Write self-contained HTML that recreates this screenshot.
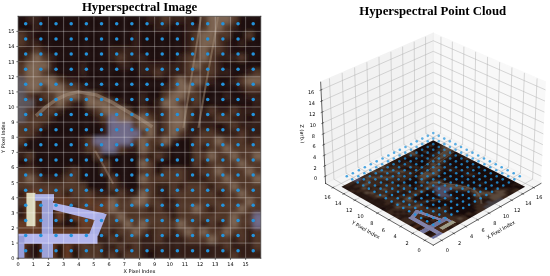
<!DOCTYPE html>
<html><head><meta charset="utf-8"><style>
html,body{margin:0;padding:0;background:#fff;}
#wrap{position:relative;width:550px;height:276px;overflow:hidden;}
text{font-family:"DejaVu Sans",sans-serif;}
</style></head><body><div id="wrap">
<svg width="550" height="276" viewBox="0 0 396 198.72" style="position:absolute;left:0;top:0">
 
 <defs><filter id="p2b1" x="-5%" y="-5%" width="110%" height="110%"><feGaussianBlur stdDeviation="2"/></filter><filter id="p2b2" x="-5%" y="-5%" width="110%" height="110%"><feGaussianBlur stdDeviation="0.7"/></filter><clipPath id="cl2"><rect x="13.032" y="11.736" width="174.744" height="174.168"/></clipPath>
  <style type="text/css">*{stroke-linejoin: round; stroke-linecap: butt}</style>
 </defs>
 <g id="figure_1">
  <g id="patch_1">
   <path d="M 0 198.72 
L 396 198.72 
L 396 0 
L 0 0 
z
" style="fill: #ffffff"/>
  </g>
  <g id="axes_1">
   <g id="patch_2">
    <path d="M 13.032 185.904 
L 187.776 185.904 
L 187.776 11.736 
L 13.032 11.736 
z
" style="fill: #ffffff"/>
   </g>
   <g id="photo2d" transform="scale(0.72)"><clipPath id="pc2"><rect x="18.10" y="16.30" width="242.70" height="241.90"/></clipPath><g clip-path="url(#pc2)"><g transform="translate(18.10 16.30) scale(1.00289 0.99959)"><g filter="url(#p2b1)"><rect x="-7.6" y="-7.6" width="7.9" height="7.9" fill="#1e0e0b"/><rect x="0.0" y="-7.6" width="7.9" height="7.9" fill="#1e0e0b"/><rect x="7.6" y="-7.6" width="7.9" height="7.9" fill="#321b15"/><rect x="15.1" y="-7.6" width="7.9" height="7.9" fill="#321b15"/><rect x="22.7" y="-7.6" width="7.9" height="7.9" fill="#1e0e0b"/><rect x="30.2" y="-7.6" width="7.9" height="7.9" fill="#1e0e0b"/><rect x="37.8" y="-7.6" width="7.9" height="7.9" fill="#1e0e0b"/><rect x="45.4" y="-7.6" width="7.9" height="7.9" fill="#1e0e0b"/><rect x="52.9" y="-7.6" width="7.9" height="7.9" fill="#1e0e0b"/><rect x="60.5" y="-7.6" width="7.9" height="7.9" fill="#1e0e0b"/><rect x="68.1" y="-7.6" width="7.9" height="7.9" fill="#1e0e0b"/><rect x="75.6" y="-7.6" width="7.9" height="7.9" fill="#1e0e0b"/><rect x="83.2" y="-7.6" width="7.9" height="7.9" fill="#1e0e0b"/><rect x="90.8" y="-7.6" width="7.9" height="7.9" fill="#1e0e0b"/><rect x="98.3" y="-7.6" width="7.9" height="7.9" fill="#1e0e0b"/><rect x="105.9" y="-7.6" width="7.9" height="7.9" fill="#1e0e0b"/><rect x="113.4" y="-7.6" width="7.9" height="7.9" fill="#1e0e0b"/><rect x="121.0" y="-7.6" width="7.9" height="7.9" fill="#1e0e0b"/><rect x="128.6" y="-7.6" width="7.9" height="7.9" fill="#321b15"/><rect x="136.1" y="-7.6" width="7.9" height="7.9" fill="#321b15"/><rect x="143.7" y="-7.6" width="7.9" height="7.9" fill="#503428"/><rect x="151.2" y="-7.6" width="7.9" height="7.9" fill="#321b15"/><rect x="158.8" y="-7.6" width="7.9" height="7.9" fill="#321b15"/><rect x="166.4" y="-7.6" width="7.9" height="7.9" fill="#321b15"/><rect x="173.9" y="-7.6" width="7.9" height="7.9" fill="#1e0e0b"/><rect x="181.5" y="-7.6" width="7.9" height="7.9" fill="#503428"/><rect x="189.1" y="-7.6" width="7.9" height="7.9" fill="#7a6250"/><rect x="196.6" y="-7.6" width="7.9" height="7.9" fill="#7a6250"/><rect x="204.2" y="-7.6" width="7.9" height="7.9" fill="#7a6250"/><rect x="211.8" y="-7.6" width="7.9" height="7.9" fill="#503428"/><rect x="219.3" y="-7.6" width="7.9" height="7.9" fill="#1e0e0b"/><rect x="226.9" y="-7.6" width="7.9" height="7.9" fill="#1e0e0b"/><rect x="234.4" y="-7.6" width="7.9" height="7.9" fill="#1e0e0b"/><rect x="242.0" y="-7.6" width="7.9" height="7.9" fill="#1e0e0b"/><rect x="-7.6" y="0.0" width="7.9" height="7.9" fill="#1e0e0b"/><rect x="0.0" y="0.0" width="7.9" height="7.9" fill="#1e0e0b"/><rect x="7.6" y="0.0" width="7.9" height="7.9" fill="#321b15"/><rect x="15.1" y="0.0" width="7.9" height="7.9" fill="#321b15"/><rect x="22.7" y="0.0" width="7.9" height="7.9" fill="#1e0e0b"/><rect x="30.2" y="0.0" width="7.9" height="7.9" fill="#1e0e0b"/><rect x="37.8" y="0.0" width="7.9" height="7.9" fill="#1e0e0b"/><rect x="45.4" y="0.0" width="7.9" height="7.9" fill="#1e0e0b"/><rect x="52.9" y="0.0" width="7.9" height="7.9" fill="#1e0e0b"/><rect x="60.5" y="0.0" width="7.9" height="7.9" fill="#1e0e0b"/><rect x="68.1" y="0.0" width="7.9" height="7.9" fill="#1e0e0b"/><rect x="75.6" y="0.0" width="7.9" height="7.9" fill="#1e0e0b"/><rect x="83.2" y="0.0" width="7.9" height="7.9" fill="#1e0e0b"/><rect x="90.8" y="0.0" width="7.9" height="7.9" fill="#1e0e0b"/><rect x="98.3" y="0.0" width="7.9" height="7.9" fill="#1e0e0b"/><rect x="105.9" y="0.0" width="7.9" height="7.9" fill="#1e0e0b"/><rect x="113.4" y="0.0" width="7.9" height="7.9" fill="#1e0e0b"/><rect x="121.0" y="0.0" width="7.9" height="7.9" fill="#1e0e0b"/><rect x="128.6" y="0.0" width="7.9" height="7.9" fill="#321b15"/><rect x="136.1" y="0.0" width="7.9" height="7.9" fill="#321b15"/><rect x="143.7" y="0.0" width="7.9" height="7.9" fill="#503428"/><rect x="151.2" y="0.0" width="7.9" height="7.9" fill="#321b15"/><rect x="158.8" y="0.0" width="7.9" height="7.9" fill="#321b15"/><rect x="166.4" y="0.0" width="7.9" height="7.9" fill="#321b15"/><rect x="173.9" y="0.0" width="7.9" height="7.9" fill="#1e0e0b"/><rect x="181.5" y="0.0" width="7.9" height="7.9" fill="#503428"/><rect x="189.1" y="0.0" width="7.9" height="7.9" fill="#7a6250"/><rect x="196.6" y="0.0" width="7.9" height="7.9" fill="#7a6250"/><rect x="204.2" y="0.0" width="7.9" height="7.9" fill="#7a6250"/><rect x="211.8" y="0.0" width="7.9" height="7.9" fill="#503428"/><rect x="219.3" y="0.0" width="7.9" height="7.9" fill="#1e0e0b"/><rect x="226.9" y="0.0" width="7.9" height="7.9" fill="#1e0e0b"/><rect x="234.4" y="0.0" width="7.9" height="7.9" fill="#1e0e0b"/><rect x="242.0" y="0.0" width="7.9" height="7.9" fill="#1e0e0b"/><rect x="-7.6" y="7.6" width="7.9" height="7.9" fill="#1e0e0b"/><rect x="0.0" y="7.6" width="7.9" height="7.9" fill="#1e0e0b"/><rect x="7.6" y="7.6" width="7.9" height="7.9" fill="#1e0e0b"/><rect x="15.1" y="7.6" width="7.9" height="7.9" fill="#321b15"/><rect x="22.7" y="7.6" width="7.9" height="7.9" fill="#1e0e0b"/><rect x="30.2" y="7.6" width="7.9" height="7.9" fill="#1e0e0b"/><rect x="37.8" y="7.6" width="7.9" height="7.9" fill="#1e0e0b"/><rect x="45.4" y="7.6" width="7.9" height="7.9" fill="#1e0e0b"/><rect x="52.9" y="7.6" width="7.9" height="7.9" fill="#1e0e0b"/><rect x="60.5" y="7.6" width="7.9" height="7.9" fill="#1e0e0b"/><rect x="68.1" y="7.6" width="7.9" height="7.9" fill="#1e0e0b"/><rect x="75.6" y="7.6" width="7.9" height="7.9" fill="#1e0e0b"/><rect x="83.2" y="7.6" width="7.9" height="7.9" fill="#1e0e0b"/><rect x="90.8" y="7.6" width="7.9" height="7.9" fill="#1e0e0b"/><rect x="98.3" y="7.6" width="7.9" height="7.9" fill="#1e0e0b"/><rect x="105.9" y="7.6" width="7.9" height="7.9" fill="#1e0e0b"/><rect x="113.4" y="7.6" width="7.9" height="7.9" fill="#1e0e0b"/><rect x="121.0" y="7.6" width="7.9" height="7.9" fill="#1e0e0b"/><rect x="128.6" y="7.6" width="7.9" height="7.9" fill="#1e0e0b"/><rect x="136.1" y="7.6" width="7.9" height="7.9" fill="#321b15"/><rect x="143.7" y="7.6" width="7.9" height="7.9" fill="#321b15"/><rect x="151.2" y="7.6" width="7.9" height="7.9" fill="#1e0e0b"/><rect x="158.8" y="7.6" width="7.9" height="7.9" fill="#1e0e0b"/><rect x="166.4" y="7.6" width="7.9" height="7.9" fill="#321b15"/><rect x="173.9" y="7.6" width="7.9" height="7.9" fill="#321b15"/><rect x="181.5" y="7.6" width="7.9" height="7.9" fill="#503428"/><rect x="189.1" y="7.6" width="7.9" height="7.9" fill="#7a6250"/><rect x="196.6" y="7.6" width="7.9" height="7.9" fill="#7a6250"/><rect x="204.2" y="7.6" width="7.9" height="7.9" fill="#503428"/><rect x="211.8" y="7.6" width="7.9" height="7.9" fill="#321b15"/><rect x="219.3" y="7.6" width="7.9" height="7.9" fill="#1e0e0b"/><rect x="226.9" y="7.6" width="7.9" height="7.9" fill="#1e0e0b"/><rect x="234.4" y="7.6" width="7.9" height="7.9" fill="#1e0e0b"/><rect x="242.0" y="7.6" width="7.9" height="7.9" fill="#1e0e0b"/><rect x="-7.6" y="15.1" width="7.9" height="7.9" fill="#503428"/><rect x="0.0" y="15.1" width="7.9" height="7.9" fill="#503428"/><rect x="7.6" y="15.1" width="7.9" height="7.9" fill="#321b15"/><rect x="15.1" y="15.1" width="7.9" height="7.9" fill="#1e0e0b"/><rect x="22.7" y="15.1" width="7.9" height="7.9" fill="#1e0e0b"/><rect x="30.2" y="15.1" width="7.9" height="7.9" fill="#1e0e0b"/><rect x="37.8" y="15.1" width="7.9" height="7.9" fill="#1e0e0b"/><rect x="45.4" y="15.1" width="7.9" height="7.9" fill="#1e0e0b"/><rect x="52.9" y="15.1" width="7.9" height="7.9" fill="#1e0e0b"/><rect x="60.5" y="15.1" width="7.9" height="7.9" fill="#1e0e0b"/><rect x="68.1" y="15.1" width="7.9" height="7.9" fill="#1e0e0b"/><rect x="75.6" y="15.1" width="7.9" height="7.9" fill="#1e0e0b"/><rect x="83.2" y="15.1" width="7.9" height="7.9" fill="#1e0e0b"/><rect x="90.8" y="15.1" width="7.9" height="7.9" fill="#1e0e0b"/><rect x="98.3" y="15.1" width="7.9" height="7.9" fill="#1e0e0b"/><rect x="105.9" y="15.1" width="7.9" height="7.9" fill="#1e0e0b"/><rect x="113.4" y="15.1" width="7.9" height="7.9" fill="#321b15"/><rect x="121.0" y="15.1" width="7.9" height="7.9" fill="#1e0e0b"/><rect x="128.6" y="15.1" width="7.9" height="7.9" fill="#1e0e0b"/><rect x="136.1" y="15.1" width="7.9" height="7.9" fill="#1e0e0b"/><rect x="143.7" y="15.1" width="7.9" height="7.9" fill="#1e0e0b"/><rect x="151.2" y="15.1" width="7.9" height="7.9" fill="#1e0e0b"/><rect x="158.8" y="15.1" width="7.9" height="7.9" fill="#1e0e0b"/><rect x="166.4" y="15.1" width="7.9" height="7.9" fill="#321b15"/><rect x="173.9" y="15.1" width="7.9" height="7.9" fill="#503428"/><rect x="181.5" y="15.1" width="7.9" height="7.9" fill="#7a6250"/><rect x="189.1" y="15.1" width="7.9" height="7.9" fill="#7a6250"/><rect x="196.6" y="15.1" width="7.9" height="7.9" fill="#503428"/><rect x="204.2" y="15.1" width="7.9" height="7.9" fill="#503428"/><rect x="211.8" y="15.1" width="7.9" height="7.9" fill="#1e0e0b"/><rect x="219.3" y="15.1" width="7.9" height="7.9" fill="#1e0e0b"/><rect x="226.9" y="15.1" width="7.9" height="7.9" fill="#503428"/><rect x="234.4" y="15.1" width="7.9" height="7.9" fill="#1e0e0b"/><rect x="242.0" y="15.1" width="7.9" height="7.9" fill="#1e0e0b"/><rect x="-7.6" y="22.7" width="7.9" height="7.9" fill="#503428"/><rect x="0.0" y="22.7" width="7.9" height="7.9" fill="#503428"/><rect x="7.6" y="22.7" width="7.9" height="7.9" fill="#321b15"/><rect x="15.1" y="22.7" width="7.9" height="7.9" fill="#321b15"/><rect x="22.7" y="22.7" width="7.9" height="7.9" fill="#1e0e0b"/><rect x="30.2" y="22.7" width="7.9" height="7.9" fill="#1e0e0b"/><rect x="37.8" y="22.7" width="7.9" height="7.9" fill="#1e0e0b"/><rect x="45.4" y="22.7" width="7.9" height="7.9" fill="#1e0e0b"/><rect x="52.9" y="22.7" width="7.9" height="7.9" fill="#1e0e0b"/><rect x="60.5" y="22.7" width="7.9" height="7.9" fill="#1e0e0b"/><rect x="68.1" y="22.7" width="7.9" height="7.9" fill="#1e0e0b"/><rect x="75.6" y="22.7" width="7.9" height="7.9" fill="#1e0e0b"/><rect x="83.2" y="22.7" width="7.9" height="7.9" fill="#1e0e0b"/><rect x="90.8" y="22.7" width="7.9" height="7.9" fill="#1e0e0b"/><rect x="98.3" y="22.7" width="7.9" height="7.9" fill="#1e0e0b"/><rect x="105.9" y="22.7" width="7.9" height="7.9" fill="#1e0e0b"/><rect x="113.4" y="22.7" width="7.9" height="7.9" fill="#321b15"/><rect x="121.0" y="22.7" width="7.9" height="7.9" fill="#1e0e0b"/><rect x="128.6" y="22.7" width="7.9" height="7.9" fill="#1e0e0b"/><rect x="136.1" y="22.7" width="7.9" height="7.9" fill="#1e0e0b"/><rect x="143.7" y="22.7" width="7.9" height="7.9" fill="#1e0e0b"/><rect x="151.2" y="22.7" width="7.9" height="7.9" fill="#1e0e0b"/><rect x="158.8" y="22.7" width="7.9" height="7.9" fill="#1e0e0b"/><rect x="166.4" y="22.7" width="7.9" height="7.9" fill="#321b15"/><rect x="173.9" y="22.7" width="7.9" height="7.9" fill="#503428"/><rect x="181.5" y="22.7" width="7.9" height="7.9" fill="#7a6250"/><rect x="189.1" y="22.7" width="7.9" height="7.9" fill="#7a6250"/><rect x="196.6" y="22.7" width="7.9" height="7.9" fill="#503428"/><rect x="204.2" y="22.7" width="7.9" height="7.9" fill="#321b15"/><rect x="211.8" y="22.7" width="7.9" height="7.9" fill="#1e0e0b"/><rect x="219.3" y="22.7" width="7.9" height="7.9" fill="#321b15"/><rect x="226.9" y="22.7" width="7.9" height="7.9" fill="#1e0e0b"/><rect x="234.4" y="22.7" width="7.9" height="7.9" fill="#1e0e0b"/><rect x="242.0" y="22.7" width="7.9" height="7.9" fill="#1e0e0b"/><rect x="-7.6" y="30.2" width="7.9" height="7.9" fill="#321b15"/><rect x="0.0" y="30.2" width="7.9" height="7.9" fill="#321b15"/><rect x="7.6" y="30.2" width="7.9" height="7.9" fill="#321b15"/><rect x="15.1" y="30.2" width="7.9" height="7.9" fill="#503428"/><rect x="22.7" y="30.2" width="7.9" height="7.9" fill="#321b15"/><rect x="30.2" y="30.2" width="7.9" height="7.9" fill="#1e0e0b"/><rect x="37.8" y="30.2" width="7.9" height="7.9" fill="#1e0e0b"/><rect x="45.4" y="30.2" width="7.9" height="7.9" fill="#1e0e0b"/><rect x="52.9" y="30.2" width="7.9" height="7.9" fill="#1e0e0b"/><rect x="60.5" y="30.2" width="7.9" height="7.9" fill="#1e0e0b"/><rect x="68.1" y="30.2" width="7.9" height="7.9" fill="#1e0e0b"/><rect x="75.6" y="30.2" width="7.9" height="7.9" fill="#1e0e0b"/><rect x="83.2" y="30.2" width="7.9" height="7.9" fill="#1e0e0b"/><rect x="90.8" y="30.2" width="7.9" height="7.9" fill="#321b15"/><rect x="98.3" y="30.2" width="7.9" height="7.9" fill="#321b15"/><rect x="105.9" y="30.2" width="7.9" height="7.9" fill="#321b15"/><rect x="113.4" y="30.2" width="7.9" height="7.9" fill="#321b15"/><rect x="121.0" y="30.2" width="7.9" height="7.9" fill="#1e0e0b"/><rect x="128.6" y="30.2" width="7.9" height="7.9" fill="#1e0e0b"/><rect x="136.1" y="30.2" width="7.9" height="7.9" fill="#1e0e0b"/><rect x="143.7" y="30.2" width="7.9" height="7.9" fill="#1e0e0b"/><rect x="151.2" y="30.2" width="7.9" height="7.9" fill="#1e0e0b"/><rect x="158.8" y="30.2" width="7.9" height="7.9" fill="#1e0e0b"/><rect x="166.4" y="30.2" width="7.9" height="7.9" fill="#321b15"/><rect x="173.9" y="30.2" width="7.9" height="7.9" fill="#503428"/><rect x="181.5" y="30.2" width="7.9" height="7.9" fill="#7a6250"/><rect x="189.1" y="30.2" width="7.9" height="7.9" fill="#503428"/><rect x="196.6" y="30.2" width="7.9" height="7.9" fill="#503428"/><rect x="204.2" y="30.2" width="7.9" height="7.9" fill="#321b15"/><rect x="211.8" y="30.2" width="7.9" height="7.9" fill="#1e0e0b"/><rect x="219.3" y="30.2" width="7.9" height="7.9" fill="#1e0e0b"/><rect x="226.9" y="30.2" width="7.9" height="7.9" fill="#1e0e0b"/><rect x="234.4" y="30.2" width="7.9" height="7.9" fill="#1e0e0b"/><rect x="242.0" y="30.2" width="7.9" height="7.9" fill="#1e0e0b"/><rect x="-7.6" y="37.8" width="7.9" height="7.9" fill="#321b15"/><rect x="0.0" y="37.8" width="7.9" height="7.9" fill="#321b15"/><rect x="7.6" y="37.8" width="7.9" height="7.9" fill="#503428"/><rect x="15.1" y="37.8" width="7.9" height="7.9" fill="#7a6250"/><rect x="22.7" y="37.8" width="7.9" height="7.9" fill="#503428"/><rect x="30.2" y="37.8" width="7.9" height="7.9" fill="#321b15"/><rect x="37.8" y="37.8" width="7.9" height="7.9" fill="#1e0e0b"/><rect x="45.4" y="37.8" width="7.9" height="7.9" fill="#1e0e0b"/><rect x="52.9" y="37.8" width="7.9" height="7.9" fill="#1e0e0b"/><rect x="60.5" y="37.8" width="7.9" height="7.9" fill="#1e0e0b"/><rect x="68.1" y="37.8" width="7.9" height="7.9" fill="#1e0e0b"/><rect x="75.6" y="37.8" width="7.9" height="7.9" fill="#1e0e0b"/><rect x="83.2" y="37.8" width="7.9" height="7.9" fill="#1e0e0b"/><rect x="90.8" y="37.8" width="7.9" height="7.9" fill="#321b15"/><rect x="98.3" y="37.8" width="7.9" height="7.9" fill="#503428"/><rect x="105.9" y="37.8" width="7.9" height="7.9" fill="#321b15"/><rect x="113.4" y="37.8" width="7.9" height="7.9" fill="#321b15"/><rect x="121.0" y="37.8" width="7.9" height="7.9" fill="#321b15"/><rect x="128.6" y="37.8" width="7.9" height="7.9" fill="#1e0e0b"/><rect x="136.1" y="37.8" width="7.9" height="7.9" fill="#1e0e0b"/><rect x="143.7" y="37.8" width="7.9" height="7.9" fill="#1e0e0b"/><rect x="151.2" y="37.8" width="7.9" height="7.9" fill="#1e0e0b"/><rect x="158.8" y="37.8" width="7.9" height="7.9" fill="#321b15"/><rect x="166.4" y="37.8" width="7.9" height="7.9" fill="#503428"/><rect x="173.9" y="37.8" width="7.9" height="7.9" fill="#503428"/><rect x="181.5" y="37.8" width="7.9" height="7.9" fill="#7a6250"/><rect x="189.1" y="37.8" width="7.9" height="7.9" fill="#503428"/><rect x="196.6" y="37.8" width="7.9" height="7.9" fill="#321b15"/><rect x="204.2" y="37.8" width="7.9" height="7.9" fill="#321b15"/><rect x="211.8" y="37.8" width="7.9" height="7.9" fill="#321b15"/><rect x="219.3" y="37.8" width="7.9" height="7.9" fill="#503428"/><rect x="226.9" y="37.8" width="7.9" height="7.9" fill="#1e0e0b"/><rect x="234.4" y="37.8" width="7.9" height="7.9" fill="#1e0e0b"/><rect x="242.0" y="37.8" width="7.9" height="7.9" fill="#1e0e0b"/><rect x="-7.6" y="45.4" width="7.9" height="7.9" fill="#503428"/><rect x="0.0" y="45.4" width="7.9" height="7.9" fill="#503428"/><rect x="7.6" y="45.4" width="7.9" height="7.9" fill="#7a6250"/><rect x="15.1" y="45.4" width="7.9" height="7.9" fill="#7a6250"/><rect x="22.7" y="45.4" width="7.9" height="7.9" fill="#7a6250"/><rect x="30.2" y="45.4" width="7.9" height="7.9" fill="#321b15"/><rect x="37.8" y="45.4" width="7.9" height="7.9" fill="#1e0e0b"/><rect x="45.4" y="45.4" width="7.9" height="7.9" fill="#1e0e0b"/><rect x="52.9" y="45.4" width="7.9" height="7.9" fill="#1e0e0b"/><rect x="60.5" y="45.4" width="7.9" height="7.9" fill="#321b15"/><rect x="68.1" y="45.4" width="7.9" height="7.9" fill="#1e0e0b"/><rect x="75.6" y="45.4" width="7.9" height="7.9" fill="#1e0e0b"/><rect x="83.2" y="45.4" width="7.9" height="7.9" fill="#1e0e0b"/><rect x="90.8" y="45.4" width="7.9" height="7.9" fill="#1e0e0b"/><rect x="98.3" y="45.4" width="7.9" height="7.9" fill="#321b15"/><rect x="105.9" y="45.4" width="7.9" height="7.9" fill="#321b15"/><rect x="113.4" y="45.4" width="7.9" height="7.9" fill="#1e0e0b"/><rect x="121.0" y="45.4" width="7.9" height="7.9" fill="#321b15"/><rect x="128.6" y="45.4" width="7.9" height="7.9" fill="#321b15"/><rect x="136.1" y="45.4" width="7.9" height="7.9" fill="#321b15"/><rect x="143.7" y="45.4" width="7.9" height="7.9" fill="#321b15"/><rect x="151.2" y="45.4" width="7.9" height="7.9" fill="#321b15"/><rect x="158.8" y="45.4" width="7.9" height="7.9" fill="#321b15"/><rect x="166.4" y="45.4" width="7.9" height="7.9" fill="#503428"/><rect x="173.9" y="45.4" width="7.9" height="7.9" fill="#7a6250"/><rect x="181.5" y="45.4" width="7.9" height="7.9" fill="#503428"/><rect x="189.1" y="45.4" width="7.9" height="7.9" fill="#503428"/><rect x="196.6" y="45.4" width="7.9" height="7.9" fill="#321b15"/><rect x="204.2" y="45.4" width="7.9" height="7.9" fill="#1e0e0b"/><rect x="211.8" y="45.4" width="7.9" height="7.9" fill="#1e0e0b"/><rect x="219.3" y="45.4" width="7.9" height="7.9" fill="#1e0e0b"/><rect x="226.9" y="45.4" width="7.9" height="7.9" fill="#1e0e0b"/><rect x="234.4" y="45.4" width="7.9" height="7.9" fill="#1e0e0b"/><rect x="242.0" y="45.4" width="7.9" height="7.9" fill="#1e0e0b"/><rect x="-7.6" y="52.9" width="7.9" height="7.9" fill="#503428"/><rect x="0.0" y="52.9" width="7.9" height="7.9" fill="#503428"/><rect x="7.6" y="52.9" width="7.9" height="7.9" fill="#7a6250"/><rect x="15.1" y="52.9" width="7.9" height="7.9" fill="#7a6250"/><rect x="22.7" y="52.9" width="7.9" height="7.9" fill="#503428"/><rect x="30.2" y="52.9" width="7.9" height="7.9" fill="#321b15"/><rect x="37.8" y="52.9" width="7.9" height="7.9" fill="#1e0e0b"/><rect x="45.4" y="52.9" width="7.9" height="7.9" fill="#1e0e0b"/><rect x="52.9" y="52.9" width="7.9" height="7.9" fill="#1e0e0b"/><rect x="60.5" y="52.9" width="7.9" height="7.9" fill="#321b15"/><rect x="68.1" y="52.9" width="7.9" height="7.9" fill="#1e0e0b"/><rect x="75.6" y="52.9" width="7.9" height="7.9" fill="#1e0e0b"/><rect x="83.2" y="52.9" width="7.9" height="7.9" fill="#1e0e0b"/><rect x="90.8" y="52.9" width="7.9" height="7.9" fill="#1e0e0b"/><rect x="98.3" y="52.9" width="7.9" height="7.9" fill="#1e0e0b"/><rect x="105.9" y="52.9" width="7.9" height="7.9" fill="#1e0e0b"/><rect x="113.4" y="52.9" width="7.9" height="7.9" fill="#1e0e0b"/><rect x="121.0" y="52.9" width="7.9" height="7.9" fill="#321b15"/><rect x="128.6" y="52.9" width="7.9" height="7.9" fill="#321b15"/><rect x="136.1" y="52.9" width="7.9" height="7.9" fill="#503428"/><rect x="143.7" y="52.9" width="7.9" height="7.9" fill="#321b15"/><rect x="151.2" y="52.9" width="7.9" height="7.9" fill="#321b15"/><rect x="158.8" y="52.9" width="7.9" height="7.9" fill="#321b15"/><rect x="166.4" y="52.9" width="7.9" height="7.9" fill="#503428"/><rect x="173.9" y="52.9" width="7.9" height="7.9" fill="#503428"/><rect x="181.5" y="52.9" width="7.9" height="7.9" fill="#503428"/><rect x="189.1" y="52.9" width="7.9" height="7.9" fill="#503428"/><rect x="196.6" y="52.9" width="7.9" height="7.9" fill="#321b15"/><rect x="204.2" y="52.9" width="7.9" height="7.9" fill="#321b15"/><rect x="211.8" y="52.9" width="7.9" height="7.9" fill="#1e0e0b"/><rect x="219.3" y="52.9" width="7.9" height="7.9" fill="#1e0e0b"/><rect x="226.9" y="52.9" width="7.9" height="7.9" fill="#321b15"/><rect x="234.4" y="52.9" width="7.9" height="7.9" fill="#503428"/><rect x="242.0" y="52.9" width="7.9" height="7.9" fill="#503428"/><rect x="-7.6" y="60.5" width="7.9" height="7.9" fill="#5c545a"/><rect x="0.0" y="60.5" width="7.9" height="7.9" fill="#5c545a"/><rect x="7.6" y="60.5" width="7.9" height="7.9" fill="#7a6250"/><rect x="15.1" y="60.5" width="7.9" height="7.9" fill="#7a6250"/><rect x="22.7" y="60.5" width="7.9" height="7.9" fill="#7a6250"/><rect x="30.2" y="60.5" width="7.9" height="7.9" fill="#7a6250"/><rect x="37.8" y="60.5" width="7.9" height="7.9" fill="#503428"/><rect x="45.4" y="60.5" width="7.9" height="7.9" fill="#321b15"/><rect x="52.9" y="60.5" width="7.9" height="7.9" fill="#321b15"/><rect x="60.5" y="60.5" width="7.9" height="7.9" fill="#1e0e0b"/><rect x="68.1" y="60.5" width="7.9" height="7.9" fill="#1e0e0b"/><rect x="75.6" y="60.5" width="7.9" height="7.9" fill="#1e0e0b"/><rect x="83.2" y="60.5" width="7.9" height="7.9" fill="#1e0e0b"/><rect x="90.8" y="60.5" width="7.9" height="7.9" fill="#1e0e0b"/><rect x="98.3" y="60.5" width="7.9" height="7.9" fill="#1e0e0b"/><rect x="105.9" y="60.5" width="7.9" height="7.9" fill="#1e0e0b"/><rect x="113.4" y="60.5" width="7.9" height="7.9" fill="#1e0e0b"/><rect x="121.0" y="60.5" width="7.9" height="7.9" fill="#1e0e0b"/><rect x="128.6" y="60.5" width="7.9" height="7.9" fill="#1e0e0b"/><rect x="136.1" y="60.5" width="7.9" height="7.9" fill="#1e0e0b"/><rect x="143.7" y="60.5" width="7.9" height="7.9" fill="#1e0e0b"/><rect x="151.2" y="60.5" width="7.9" height="7.9" fill="#503428"/><rect x="158.8" y="60.5" width="7.9" height="7.9" fill="#7a6250"/><rect x="166.4" y="60.5" width="7.9" height="7.9" fill="#503428"/><rect x="173.9" y="60.5" width="7.9" height="7.9" fill="#7a6250"/><rect x="181.5" y="60.5" width="7.9" height="7.9" fill="#503428"/><rect x="189.1" y="60.5" width="7.9" height="7.9" fill="#321b15"/><rect x="196.6" y="60.5" width="7.9" height="7.9" fill="#1e0e0b"/><rect x="204.2" y="60.5" width="7.9" height="7.9" fill="#1e0e0b"/><rect x="211.8" y="60.5" width="7.9" height="7.9" fill="#321b15"/><rect x="219.3" y="60.5" width="7.9" height="7.9" fill="#503428"/><rect x="226.9" y="60.5" width="7.9" height="7.9" fill="#7a6250"/><rect x="234.4" y="60.5" width="7.9" height="7.9" fill="#7a6250"/><rect x="242.0" y="60.5" width="7.9" height="7.9" fill="#7a6250"/><rect x="-7.6" y="68.1" width="7.9" height="7.9" fill="#5c545a"/><rect x="0.0" y="68.1" width="7.9" height="7.9" fill="#5c545a"/><rect x="7.6" y="68.1" width="7.9" height="7.9" fill="#7a6250"/><rect x="15.1" y="68.1" width="7.9" height="7.9" fill="#7a6250"/><rect x="22.7" y="68.1" width="7.9" height="7.9" fill="#503428"/><rect x="30.2" y="68.1" width="7.9" height="7.9" fill="#7a6250"/><rect x="37.8" y="68.1" width="7.9" height="7.9" fill="#7a6250"/><rect x="45.4" y="68.1" width="7.9" height="7.9" fill="#503428"/><rect x="52.9" y="68.1" width="7.9" height="7.9" fill="#503428"/><rect x="60.5" y="68.1" width="7.9" height="7.9" fill="#321b15"/><rect x="68.1" y="68.1" width="7.9" height="7.9" fill="#1e0e0b"/><rect x="75.6" y="68.1" width="7.9" height="7.9" fill="#1e0e0b"/><rect x="83.2" y="68.1" width="7.9" height="7.9" fill="#1e0e0b"/><rect x="90.8" y="68.1" width="7.9" height="7.9" fill="#1e0e0b"/><rect x="98.3" y="68.1" width="7.9" height="7.9" fill="#1e0e0b"/><rect x="105.9" y="68.1" width="7.9" height="7.9" fill="#1e0e0b"/><rect x="113.4" y="68.1" width="7.9" height="7.9" fill="#1e0e0b"/><rect x="121.0" y="68.1" width="7.9" height="7.9" fill="#1e0e0b"/><rect x="128.6" y="68.1" width="7.9" height="7.9" fill="#1e0e0b"/><rect x="136.1" y="68.1" width="7.9" height="7.9" fill="#1e0e0b"/><rect x="143.7" y="68.1" width="7.9" height="7.9" fill="#321b15"/><rect x="151.2" y="68.1" width="7.9" height="7.9" fill="#503428"/><rect x="158.8" y="68.1" width="7.9" height="7.9" fill="#7a6250"/><rect x="166.4" y="68.1" width="7.9" height="7.9" fill="#7a6250"/><rect x="173.9" y="68.1" width="7.9" height="7.9" fill="#503428"/><rect x="181.5" y="68.1" width="7.9" height="7.9" fill="#321b15"/><rect x="189.1" y="68.1" width="7.9" height="7.9" fill="#1e0e0b"/><rect x="196.6" y="68.1" width="7.9" height="7.9" fill="#1e0e0b"/><rect x="204.2" y="68.1" width="7.9" height="7.9" fill="#1e0e0b"/><rect x="211.8" y="68.1" width="7.9" height="7.9" fill="#1e0e0b"/><rect x="219.3" y="68.1" width="7.9" height="7.9" fill="#321b15"/><rect x="226.9" y="68.1" width="7.9" height="7.9" fill="#503428"/><rect x="234.4" y="68.1" width="7.9" height="7.9" fill="#503428"/><rect x="242.0" y="68.1" width="7.9" height="7.9" fill="#503428"/><rect x="-7.6" y="75.6" width="7.9" height="7.9" fill="#5c545a"/><rect x="0.0" y="75.6" width="7.9" height="7.9" fill="#5c545a"/><rect x="7.6" y="75.6" width="7.9" height="7.9" fill="#503428"/><rect x="15.1" y="75.6" width="7.9" height="7.9" fill="#321b15"/><rect x="22.7" y="75.6" width="7.9" height="7.9" fill="#503428"/><rect x="30.2" y="75.6" width="7.9" height="7.9" fill="#503428"/><rect x="37.8" y="75.6" width="7.9" height="7.9" fill="#7a6250"/><rect x="45.4" y="75.6" width="7.9" height="7.9" fill="#7a6250"/><rect x="52.9" y="75.6" width="7.9" height="7.9" fill="#7a6250"/><rect x="60.5" y="75.6" width="7.9" height="7.9" fill="#503428"/><rect x="68.1" y="75.6" width="7.9" height="7.9" fill="#7a6250"/><rect x="75.6" y="75.6" width="7.9" height="7.9" fill="#503428"/><rect x="83.2" y="75.6" width="7.9" height="7.9" fill="#321b15"/><rect x="90.8" y="75.6" width="7.9" height="7.9" fill="#1e0e0b"/><rect x="98.3" y="75.6" width="7.9" height="7.9" fill="#1e0e0b"/><rect x="105.9" y="75.6" width="7.9" height="7.9" fill="#1e0e0b"/><rect x="113.4" y="75.6" width="7.9" height="7.9" fill="#1e0e0b"/><rect x="121.0" y="75.6" width="7.9" height="7.9" fill="#321b15"/><rect x="128.6" y="75.6" width="7.9" height="7.9" fill="#1e0e0b"/><rect x="136.1" y="75.6" width="7.9" height="7.9" fill="#1e0e0b"/><rect x="143.7" y="75.6" width="7.9" height="7.9" fill="#503428"/><rect x="151.2" y="75.6" width="7.9" height="7.9" fill="#7a6250"/><rect x="158.8" y="75.6" width="7.9" height="7.9" fill="#7a6250"/><rect x="166.4" y="75.6" width="7.9" height="7.9" fill="#503428"/><rect x="173.9" y="75.6" width="7.9" height="7.9" fill="#503428"/><rect x="181.5" y="75.6" width="7.9" height="7.9" fill="#1e0e0b"/><rect x="189.1" y="75.6" width="7.9" height="7.9" fill="#1e0e0b"/><rect x="196.6" y="75.6" width="7.9" height="7.9" fill="#1e0e0b"/><rect x="204.2" y="75.6" width="7.9" height="7.9" fill="#321b15"/><rect x="211.8" y="75.6" width="7.9" height="7.9" fill="#1e0e0b"/><rect x="219.3" y="75.6" width="7.9" height="7.9" fill="#1e0e0b"/><rect x="226.9" y="75.6" width="7.9" height="7.9" fill="#321b15"/><rect x="234.4" y="75.6" width="7.9" height="7.9" fill="#321b15"/><rect x="242.0" y="75.6" width="7.9" height="7.9" fill="#321b15"/><rect x="-7.6" y="83.2" width="7.9" height="7.9" fill="#5c545a"/><rect x="0.0" y="83.2" width="7.9" height="7.9" fill="#5c545a"/><rect x="7.6" y="83.2" width="7.9" height="7.9" fill="#5c545a"/><rect x="15.1" y="83.2" width="7.9" height="7.9" fill="#321b15"/><rect x="22.7" y="83.2" width="7.9" height="7.9" fill="#321b15"/><rect x="30.2" y="83.2" width="7.9" height="7.9" fill="#503428"/><rect x="37.8" y="83.2" width="7.9" height="7.9" fill="#7a6250"/><rect x="45.4" y="83.2" width="7.9" height="7.9" fill="#503428"/><rect x="52.9" y="83.2" width="7.9" height="7.9" fill="#321b15"/><rect x="60.5" y="83.2" width="7.9" height="7.9" fill="#321b15"/><rect x="68.1" y="83.2" width="7.9" height="7.9" fill="#7a6250"/><rect x="75.6" y="83.2" width="7.9" height="7.9" fill="#7a6250"/><rect x="83.2" y="83.2" width="7.9" height="7.9" fill="#7a6250"/><rect x="90.8" y="83.2" width="7.9" height="7.9" fill="#503428"/><rect x="98.3" y="83.2" width="7.9" height="7.9" fill="#321b15"/><rect x="105.9" y="83.2" width="7.9" height="7.9" fill="#1e0e0b"/><rect x="113.4" y="83.2" width="7.9" height="7.9" fill="#1e0e0b"/><rect x="121.0" y="83.2" width="7.9" height="7.9" fill="#321b15"/><rect x="128.6" y="83.2" width="7.9" height="7.9" fill="#1e0e0b"/><rect x="136.1" y="83.2" width="7.9" height="7.9" fill="#321b15"/><rect x="143.7" y="83.2" width="7.9" height="7.9" fill="#7a6250"/><rect x="151.2" y="83.2" width="7.9" height="7.9" fill="#7a6250"/><rect x="158.8" y="83.2" width="7.9" height="7.9" fill="#503428"/><rect x="166.4" y="83.2" width="7.9" height="7.9" fill="#321b15"/><rect x="173.9" y="83.2" width="7.9" height="7.9" fill="#503428"/><rect x="181.5" y="83.2" width="7.9" height="7.9" fill="#1e0e0b"/><rect x="189.1" y="83.2" width="7.9" height="7.9" fill="#1e0e0b"/><rect x="196.6" y="83.2" width="7.9" height="7.9" fill="#1e0e0b"/><rect x="204.2" y="83.2" width="7.9" height="7.9" fill="#1e0e0b"/><rect x="211.8" y="83.2" width="7.9" height="7.9" fill="#1e0e0b"/><rect x="219.3" y="83.2" width="7.9" height="7.9" fill="#1e0e0b"/><rect x="226.9" y="83.2" width="7.9" height="7.9" fill="#1e0e0b"/><rect x="234.4" y="83.2" width="7.9" height="7.9" fill="#321b15"/><rect x="242.0" y="83.2" width="7.9" height="7.9" fill="#321b15"/><rect x="-7.6" y="90.8" width="7.9" height="7.9" fill="#5c545a"/><rect x="0.0" y="90.8" width="7.9" height="7.9" fill="#5c545a"/><rect x="7.6" y="90.8" width="7.9" height="7.9" fill="#503428"/><rect x="15.1" y="90.8" width="7.9" height="7.9" fill="#321b15"/><rect x="22.7" y="90.8" width="7.9" height="7.9" fill="#503428"/><rect x="30.2" y="90.8" width="7.9" height="7.9" fill="#503428"/><rect x="37.8" y="90.8" width="7.9" height="7.9" fill="#321b15"/><rect x="45.4" y="90.8" width="7.9" height="7.9" fill="#1e0e0b"/><rect x="52.9" y="90.8" width="7.9" height="7.9" fill="#1e0e0b"/><rect x="60.5" y="90.8" width="7.9" height="7.9" fill="#1e0e0b"/><rect x="68.1" y="90.8" width="7.9" height="7.9" fill="#321b15"/><rect x="75.6" y="90.8" width="7.9" height="7.9" fill="#503428"/><rect x="83.2" y="90.8" width="7.9" height="7.9" fill="#7a6250"/><rect x="90.8" y="90.8" width="7.9" height="7.9" fill="#7a6250"/><rect x="98.3" y="90.8" width="7.9" height="7.9" fill="#7a6250"/><rect x="105.9" y="90.8" width="7.9" height="7.9" fill="#503428"/><rect x="113.4" y="90.8" width="7.9" height="7.9" fill="#1e0e0b"/><rect x="121.0" y="90.8" width="7.9" height="7.9" fill="#503428"/><rect x="128.6" y="90.8" width="7.9" height="7.9" fill="#321b15"/><rect x="136.1" y="90.8" width="7.9" height="7.9" fill="#321b15"/><rect x="143.7" y="90.8" width="7.9" height="7.9" fill="#503428"/><rect x="151.2" y="90.8" width="7.9" height="7.9" fill="#7a6250"/><rect x="158.8" y="90.8" width="7.9" height="7.9" fill="#7a6250"/><rect x="166.4" y="90.8" width="7.9" height="7.9" fill="#503428"/><rect x="173.9" y="90.8" width="7.9" height="7.9" fill="#321b15"/><rect x="181.5" y="90.8" width="7.9" height="7.9" fill="#321b15"/><rect x="189.1" y="90.8" width="7.9" height="7.9" fill="#503428"/><rect x="196.6" y="90.8" width="7.9" height="7.9" fill="#321b15"/><rect x="204.2" y="90.8" width="7.9" height="7.9" fill="#321b15"/><rect x="211.8" y="90.8" width="7.9" height="7.9" fill="#503428"/><rect x="219.3" y="90.8" width="7.9" height="7.9" fill="#321b15"/><rect x="226.9" y="90.8" width="7.9" height="7.9" fill="#321b15"/><rect x="234.4" y="90.8" width="7.9" height="7.9" fill="#321b15"/><rect x="242.0" y="90.8" width="7.9" height="7.9" fill="#321b15"/><rect x="-7.6" y="98.3" width="7.9" height="7.9" fill="#5c545a"/><rect x="0.0" y="98.3" width="7.9" height="7.9" fill="#5c545a"/><rect x="7.6" y="98.3" width="7.9" height="7.9" fill="#503428"/><rect x="15.1" y="98.3" width="7.9" height="7.9" fill="#503428"/><rect x="22.7" y="98.3" width="7.9" height="7.9" fill="#503428"/><rect x="30.2" y="98.3" width="7.9" height="7.9" fill="#321b15"/><rect x="37.8" y="98.3" width="7.9" height="7.9" fill="#1e0e0b"/><rect x="45.4" y="98.3" width="7.9" height="7.9" fill="#1e0e0b"/><rect x="52.9" y="98.3" width="7.9" height="7.9" fill="#1e0e0b"/><rect x="60.5" y="98.3" width="7.9" height="7.9" fill="#1e0e0b"/><rect x="68.1" y="98.3" width="7.9" height="7.9" fill="#1e0e0b"/><rect x="75.6" y="98.3" width="7.9" height="7.9" fill="#321b15"/><rect x="83.2" y="98.3" width="7.9" height="7.9" fill="#503428"/><rect x="90.8" y="98.3" width="7.9" height="7.9" fill="#6e6987"/><rect x="98.3" y="98.3" width="7.9" height="7.9" fill="#7a6250"/><rect x="105.9" y="98.3" width="7.9" height="7.9" fill="#7a6250"/><rect x="113.4" y="98.3" width="7.9" height="7.9" fill="#503428"/><rect x="121.0" y="98.3" width="7.9" height="7.9" fill="#7a6250"/><rect x="128.6" y="98.3" width="7.9" height="7.9" fill="#503428"/><rect x="136.1" y="98.3" width="7.9" height="7.9" fill="#321b15"/><rect x="143.7" y="98.3" width="7.9" height="7.9" fill="#503428"/><rect x="151.2" y="98.3" width="7.9" height="7.9" fill="#7a6250"/><rect x="158.8" y="98.3" width="7.9" height="7.9" fill="#7a6250"/><rect x="166.4" y="98.3" width="7.9" height="7.9" fill="#503428"/><rect x="173.9" y="98.3" width="7.9" height="7.9" fill="#321b15"/><rect x="181.5" y="98.3" width="7.9" height="7.9" fill="#321b15"/><rect x="189.1" y="98.3" width="7.9" height="7.9" fill="#321b15"/><rect x="196.6" y="98.3" width="7.9" height="7.9" fill="#503428"/><rect x="204.2" y="98.3" width="7.9" height="7.9" fill="#503428"/><rect x="211.8" y="98.3" width="7.9" height="7.9" fill="#321b15"/><rect x="219.3" y="98.3" width="7.9" height="7.9" fill="#321b15"/><rect x="226.9" y="98.3" width="7.9" height="7.9" fill="#1e0e0b"/><rect x="234.4" y="98.3" width="7.9" height="7.9" fill="#321b15"/><rect x="242.0" y="98.3" width="7.9" height="7.9" fill="#321b15"/><rect x="-7.6" y="105.9" width="7.9" height="7.9" fill="#503428"/><rect x="0.0" y="105.9" width="7.9" height="7.9" fill="#503428"/><rect x="7.6" y="105.9" width="7.9" height="7.9" fill="#503428"/><rect x="15.1" y="105.9" width="7.9" height="7.9" fill="#503428"/><rect x="22.7" y="105.9" width="7.9" height="7.9" fill="#321b15"/><rect x="30.2" y="105.9" width="7.9" height="7.9" fill="#1e0e0b"/><rect x="37.8" y="105.9" width="7.9" height="7.9" fill="#1e0e0b"/><rect x="45.4" y="105.9" width="7.9" height="7.9" fill="#1e0e0b"/><rect x="52.9" y="105.9" width="7.9" height="7.9" fill="#1e0e0b"/><rect x="60.5" y="105.9" width="7.9" height="7.9" fill="#1e0e0b"/><rect x="68.1" y="105.9" width="7.9" height="7.9" fill="#1e0e0b"/><rect x="75.6" y="105.9" width="7.9" height="7.9" fill="#1e0e0b"/><rect x="83.2" y="105.9" width="7.9" height="7.9" fill="#321b15"/><rect x="90.8" y="105.9" width="7.9" height="7.9" fill="#6e6987"/><rect x="98.3" y="105.9" width="7.9" height="7.9" fill="#6e6987"/><rect x="105.9" y="105.9" width="7.9" height="7.9" fill="#6e6987"/><rect x="113.4" y="105.9" width="7.9" height="7.9" fill="#503428"/><rect x="121.0" y="105.9" width="7.9" height="7.9" fill="#7a6250"/><rect x="128.6" y="105.9" width="7.9" height="7.9" fill="#7a6250"/><rect x="136.1" y="105.9" width="7.9" height="7.9" fill="#321b15"/><rect x="143.7" y="105.9" width="7.9" height="7.9" fill="#503428"/><rect x="151.2" y="105.9" width="7.9" height="7.9" fill="#7a6250"/><rect x="158.8" y="105.9" width="7.9" height="7.9" fill="#7a6250"/><rect x="166.4" y="105.9" width="7.9" height="7.9" fill="#321b15"/><rect x="173.9" y="105.9" width="7.9" height="7.9" fill="#321b15"/><rect x="181.5" y="105.9" width="7.9" height="7.9" fill="#321b15"/><rect x="189.1" y="105.9" width="7.9" height="7.9" fill="#321b15"/><rect x="196.6" y="105.9" width="7.9" height="7.9" fill="#1e0e0b"/><rect x="204.2" y="105.9" width="7.9" height="7.9" fill="#321b15"/><rect x="211.8" y="105.9" width="7.9" height="7.9" fill="#503428"/><rect x="219.3" y="105.9" width="7.9" height="7.9" fill="#321b15"/><rect x="226.9" y="105.9" width="7.9" height="7.9" fill="#321b15"/><rect x="234.4" y="105.9" width="7.9" height="7.9" fill="#321b15"/><rect x="242.0" y="105.9" width="7.9" height="7.9" fill="#321b15"/><rect x="-7.6" y="113.4" width="7.9" height="7.9" fill="#503428"/><rect x="0.0" y="113.4" width="7.9" height="7.9" fill="#503428"/><rect x="7.6" y="113.4" width="7.9" height="7.9" fill="#503428"/><rect x="15.1" y="113.4" width="7.9" height="7.9" fill="#321b15"/><rect x="22.7" y="113.4" width="7.9" height="7.9" fill="#1e0e0b"/><rect x="30.2" y="113.4" width="7.9" height="7.9" fill="#1e0e0b"/><rect x="37.8" y="113.4" width="7.9" height="7.9" fill="#1e0e0b"/><rect x="45.4" y="113.4" width="7.9" height="7.9" fill="#1e0e0b"/><rect x="52.9" y="113.4" width="7.9" height="7.9" fill="#1e0e0b"/><rect x="60.5" y="113.4" width="7.9" height="7.9" fill="#1e0e0b"/><rect x="68.1" y="113.4" width="7.9" height="7.9" fill="#1e0e0b"/><rect x="75.6" y="113.4" width="7.9" height="7.9" fill="#1e0e0b"/><rect x="83.2" y="113.4" width="7.9" height="7.9" fill="#321b15"/><rect x="90.8" y="113.4" width="7.9" height="7.9" fill="#6e6987"/><rect x="98.3" y="113.4" width="7.9" height="7.9" fill="#6e6987"/><rect x="105.9" y="113.4" width="7.9" height="7.9" fill="#6e6987"/><rect x="113.4" y="113.4" width="7.9" height="7.9" fill="#6e6987"/><rect x="121.0" y="113.4" width="7.9" height="7.9" fill="#503428"/><rect x="128.6" y="113.4" width="7.9" height="7.9" fill="#7a6250"/><rect x="136.1" y="113.4" width="7.9" height="7.9" fill="#321b15"/><rect x="143.7" y="113.4" width="7.9" height="7.9" fill="#503428"/><rect x="151.2" y="113.4" width="7.9" height="7.9" fill="#7a6250"/><rect x="158.8" y="113.4" width="7.9" height="7.9" fill="#503428"/><rect x="166.4" y="113.4" width="7.9" height="7.9" fill="#321b15"/><rect x="173.9" y="113.4" width="7.9" height="7.9" fill="#321b15"/><rect x="181.5" y="113.4" width="7.9" height="7.9" fill="#503428"/><rect x="189.1" y="113.4" width="7.9" height="7.9" fill="#503428"/><rect x="196.6" y="113.4" width="7.9" height="7.9" fill="#321b15"/><rect x="204.2" y="113.4" width="7.9" height="7.9" fill="#321b15"/><rect x="211.8" y="113.4" width="7.9" height="7.9" fill="#321b15"/><rect x="219.3" y="113.4" width="7.9" height="7.9" fill="#503428"/><rect x="226.9" y="113.4" width="7.9" height="7.9" fill="#321b15"/><rect x="234.4" y="113.4" width="7.9" height="7.9" fill="#321b15"/><rect x="242.0" y="113.4" width="7.9" height="7.9" fill="#321b15"/><rect x="-7.6" y="121.0" width="7.9" height="7.9" fill="#503428"/><rect x="0.0" y="121.0" width="7.9" height="7.9" fill="#503428"/><rect x="7.6" y="121.0" width="7.9" height="7.9" fill="#1e0e0b"/><rect x="15.1" y="121.0" width="7.9" height="7.9" fill="#1e0e0b"/><rect x="22.7" y="121.0" width="7.9" height="7.9" fill="#1e0e0b"/><rect x="30.2" y="121.0" width="7.9" height="7.9" fill="#1e0e0b"/><rect x="37.8" y="121.0" width="7.9" height="7.9" fill="#1e0e0b"/><rect x="45.4" y="121.0" width="7.9" height="7.9" fill="#1e0e0b"/><rect x="52.9" y="121.0" width="7.9" height="7.9" fill="#1e0e0b"/><rect x="60.5" y="121.0" width="7.9" height="7.9" fill="#321b15"/><rect x="68.1" y="121.0" width="7.9" height="7.9" fill="#503428"/><rect x="75.6" y="121.0" width="7.9" height="7.9" fill="#6e6987"/><rect x="83.2" y="121.0" width="7.9" height="7.9" fill="#6e6987"/><rect x="90.8" y="121.0" width="7.9" height="7.9" fill="#6e6987"/><rect x="98.3" y="121.0" width="7.9" height="7.9" fill="#6e6987"/><rect x="105.9" y="121.0" width="7.9" height="7.9" fill="#6e6987"/><rect x="113.4" y="121.0" width="7.9" height="7.9" fill="#503428"/><rect x="121.0" y="121.0" width="7.9" height="7.9" fill="#7a6250"/><rect x="128.6" y="121.0" width="7.9" height="7.9" fill="#503428"/><rect x="136.1" y="121.0" width="7.9" height="7.9" fill="#503428"/><rect x="143.7" y="121.0" width="7.9" height="7.9" fill="#7a6250"/><rect x="151.2" y="121.0" width="7.9" height="7.9" fill="#321b15"/><rect x="158.8" y="121.0" width="7.9" height="7.9" fill="#1e0e0b"/><rect x="166.4" y="121.0" width="7.9" height="7.9" fill="#1e0e0b"/><rect x="173.9" y="121.0" width="7.9" height="7.9" fill="#503428"/><rect x="181.5" y="121.0" width="7.9" height="7.9" fill="#503428"/><rect x="189.1" y="121.0" width="7.9" height="7.9" fill="#503428"/><rect x="196.6" y="121.0" width="7.9" height="7.9" fill="#7a6250"/><rect x="204.2" y="121.0" width="7.9" height="7.9" fill="#503428"/><rect x="211.8" y="121.0" width="7.9" height="7.9" fill="#503428"/><rect x="219.3" y="121.0" width="7.9" height="7.9" fill="#503428"/><rect x="226.9" y="121.0" width="7.9" height="7.9" fill="#321b15"/><rect x="234.4" y="121.0" width="7.9" height="7.9" fill="#503428"/><rect x="242.0" y="121.0" width="7.9" height="7.9" fill="#503428"/><rect x="-7.6" y="128.6" width="7.9" height="7.9" fill="#321b15"/><rect x="0.0" y="128.6" width="7.9" height="7.9" fill="#321b15"/><rect x="7.6" y="128.6" width="7.9" height="7.9" fill="#1e0e0b"/><rect x="15.1" y="128.6" width="7.9" height="7.9" fill="#1e0e0b"/><rect x="22.7" y="128.6" width="7.9" height="7.9" fill="#1e0e0b"/><rect x="30.2" y="128.6" width="7.9" height="7.9" fill="#1e0e0b"/><rect x="37.8" y="128.6" width="7.9" height="7.9" fill="#1e0e0b"/><rect x="45.4" y="128.6" width="7.9" height="7.9" fill="#1e0e0b"/><rect x="52.9" y="128.6" width="7.9" height="7.9" fill="#1e0e0b"/><rect x="60.5" y="128.6" width="7.9" height="7.9" fill="#321b15"/><rect x="68.1" y="128.6" width="7.9" height="7.9" fill="#503428"/><rect x="75.6" y="128.6" width="7.9" height="7.9" fill="#503428"/><rect x="83.2" y="128.6" width="7.9" height="7.9" fill="#6e6987"/><rect x="90.8" y="128.6" width="7.9" height="7.9" fill="#6e6987"/><rect x="98.3" y="128.6" width="7.9" height="7.9" fill="#503428"/><rect x="105.9" y="128.6" width="7.9" height="7.9" fill="#321b15"/><rect x="113.4" y="128.6" width="7.9" height="7.9" fill="#321b15"/><rect x="121.0" y="128.6" width="7.9" height="7.9" fill="#7a6250"/><rect x="128.6" y="128.6" width="7.9" height="7.9" fill="#503428"/><rect x="136.1" y="128.6" width="7.9" height="7.9" fill="#321b15"/><rect x="143.7" y="128.6" width="7.9" height="7.9" fill="#321b15"/><rect x="151.2" y="128.6" width="7.9" height="7.9" fill="#1e0e0b"/><rect x="158.8" y="128.6" width="7.9" height="7.9" fill="#1e0e0b"/><rect x="166.4" y="128.6" width="7.9" height="7.9" fill="#1e0e0b"/><rect x="173.9" y="128.6" width="7.9" height="7.9" fill="#503428"/><rect x="181.5" y="128.6" width="7.9" height="7.9" fill="#321b15"/><rect x="189.1" y="128.6" width="7.9" height="7.9" fill="#503428"/><rect x="196.6" y="128.6" width="7.9" height="7.9" fill="#503428"/><rect x="204.2" y="128.6" width="7.9" height="7.9" fill="#7a6250"/><rect x="211.8" y="128.6" width="7.9" height="7.9" fill="#503428"/><rect x="219.3" y="128.6" width="7.9" height="7.9" fill="#503428"/><rect x="226.9" y="128.6" width="7.9" height="7.9" fill="#503428"/><rect x="234.4" y="128.6" width="7.9" height="7.9" fill="#503428"/><rect x="242.0" y="128.6" width="7.9" height="7.9" fill="#503428"/><rect x="-7.6" y="136.1" width="7.9" height="7.9" fill="#321b15"/><rect x="0.0" y="136.1" width="7.9" height="7.9" fill="#321b15"/><rect x="7.6" y="136.1" width="7.9" height="7.9" fill="#503428"/><rect x="15.1" y="136.1" width="7.9" height="7.9" fill="#1e0e0b"/><rect x="22.7" y="136.1" width="7.9" height="7.9" fill="#1e0e0b"/><rect x="30.2" y="136.1" width="7.9" height="7.9" fill="#1e0e0b"/><rect x="37.8" y="136.1" width="7.9" height="7.9" fill="#1e0e0b"/><rect x="45.4" y="136.1" width="7.9" height="7.9" fill="#1e0e0b"/><rect x="52.9" y="136.1" width="7.9" height="7.9" fill="#1e0e0b"/><rect x="60.5" y="136.1" width="7.9" height="7.9" fill="#1e0e0b"/><rect x="68.1" y="136.1" width="7.9" height="7.9" fill="#1e0e0b"/><rect x="75.6" y="136.1" width="7.9" height="7.9" fill="#503428"/><rect x="83.2" y="136.1" width="7.9" height="7.9" fill="#1e0e0b"/><rect x="90.8" y="136.1" width="7.9" height="7.9" fill="#1e0e0b"/><rect x="98.3" y="136.1" width="7.9" height="7.9" fill="#1e0e0b"/><rect x="105.9" y="136.1" width="7.9" height="7.9" fill="#1e0e0b"/><rect x="113.4" y="136.1" width="7.9" height="7.9" fill="#1e0e0b"/><rect x="121.0" y="136.1" width="7.9" height="7.9" fill="#503428"/><rect x="128.6" y="136.1" width="7.9" height="7.9" fill="#321b15"/><rect x="136.1" y="136.1" width="7.9" height="7.9" fill="#503428"/><rect x="143.7" y="136.1" width="7.9" height="7.9" fill="#321b15"/><rect x="151.2" y="136.1" width="7.9" height="7.9" fill="#1e0e0b"/><rect x="158.8" y="136.1" width="7.9" height="7.9" fill="#1e0e0b"/><rect x="166.4" y="136.1" width="7.9" height="7.9" fill="#1e0e0b"/><rect x="173.9" y="136.1" width="7.9" height="7.9" fill="#503428"/><rect x="181.5" y="136.1" width="7.9" height="7.9" fill="#503428"/><rect x="189.1" y="136.1" width="7.9" height="7.9" fill="#7a6250"/><rect x="196.6" y="136.1" width="7.9" height="7.9" fill="#503428"/><rect x="204.2" y="136.1" width="7.9" height="7.9" fill="#503428"/><rect x="211.8" y="136.1" width="7.9" height="7.9" fill="#7a6250"/><rect x="219.3" y="136.1" width="7.9" height="7.9" fill="#503428"/><rect x="226.9" y="136.1" width="7.9" height="7.9" fill="#503428"/><rect x="234.4" y="136.1" width="7.9" height="7.9" fill="#7a6250"/><rect x="242.0" y="136.1" width="7.9" height="7.9" fill="#7a6250"/><rect x="-7.6" y="143.7" width="7.9" height="7.9" fill="#1e0e0b"/><rect x="0.0" y="143.7" width="7.9" height="7.9" fill="#1e0e0b"/><rect x="7.6" y="143.7" width="7.9" height="7.9" fill="#321b15"/><rect x="15.1" y="143.7" width="7.9" height="7.9" fill="#1e0e0b"/><rect x="22.7" y="143.7" width="7.9" height="7.9" fill="#1e0e0b"/><rect x="30.2" y="143.7" width="7.9" height="7.9" fill="#1e0e0b"/><rect x="37.8" y="143.7" width="7.9" height="7.9" fill="#1e0e0b"/><rect x="45.4" y="143.7" width="7.9" height="7.9" fill="#1e0e0b"/><rect x="52.9" y="143.7" width="7.9" height="7.9" fill="#1e0e0b"/><rect x="60.5" y="143.7" width="7.9" height="7.9" fill="#1e0e0b"/><rect x="68.1" y="143.7" width="7.9" height="7.9" fill="#1e0e0b"/><rect x="75.6" y="143.7" width="7.9" height="7.9" fill="#1e0e0b"/><rect x="83.2" y="143.7" width="7.9" height="7.9" fill="#503428"/><rect x="90.8" y="143.7" width="7.9" height="7.9" fill="#1e0e0b"/><rect x="98.3" y="143.7" width="7.9" height="7.9" fill="#1e0e0b"/><rect x="105.9" y="143.7" width="7.9" height="7.9" fill="#1e0e0b"/><rect x="113.4" y="143.7" width="7.9" height="7.9" fill="#1e0e0b"/><rect x="121.0" y="143.7" width="7.9" height="7.9" fill="#7a6250"/><rect x="128.6" y="143.7" width="7.9" height="7.9" fill="#503428"/><rect x="136.1" y="143.7" width="7.9" height="7.9" fill="#1e0e0b"/><rect x="143.7" y="143.7" width="7.9" height="7.9" fill="#1e0e0b"/><rect x="151.2" y="143.7" width="7.9" height="7.9" fill="#1e0e0b"/><rect x="158.8" y="143.7" width="7.9" height="7.9" fill="#1e0e0b"/><rect x="166.4" y="143.7" width="7.9" height="7.9" fill="#1e0e0b"/><rect x="173.9" y="143.7" width="7.9" height="7.9" fill="#503428"/><rect x="181.5" y="143.7" width="7.9" height="7.9" fill="#321b15"/><rect x="189.1" y="143.7" width="7.9" height="7.9" fill="#503428"/><rect x="196.6" y="143.7" width="7.9" height="7.9" fill="#503428"/><rect x="204.2" y="143.7" width="7.9" height="7.9" fill="#503428"/><rect x="211.8" y="143.7" width="7.9" height="7.9" fill="#503428"/><rect x="219.3" y="143.7" width="7.9" height="7.9" fill="#7a6250"/><rect x="226.9" y="143.7" width="7.9" height="7.9" fill="#503428"/><rect x="234.4" y="143.7" width="7.9" height="7.9" fill="#503428"/><rect x="242.0" y="143.7" width="7.9" height="7.9" fill="#503428"/><rect x="-7.6" y="151.2" width="7.9" height="7.9" fill="#503428"/><rect x="0.0" y="151.2" width="7.9" height="7.9" fill="#503428"/><rect x="7.6" y="151.2" width="7.9" height="7.9" fill="#503428"/><rect x="15.1" y="151.2" width="7.9" height="7.9" fill="#321b15"/><rect x="22.7" y="151.2" width="7.9" height="7.9" fill="#1e0e0b"/><rect x="30.2" y="151.2" width="7.9" height="7.9" fill="#1e0e0b"/><rect x="37.8" y="151.2" width="7.9" height="7.9" fill="#1e0e0b"/><rect x="45.4" y="151.2" width="7.9" height="7.9" fill="#321b15"/><rect x="52.9" y="151.2" width="7.9" height="7.9" fill="#503428"/><rect x="60.5" y="151.2" width="7.9" height="7.9" fill="#1e0e0b"/><rect x="68.1" y="151.2" width="7.9" height="7.9" fill="#1e0e0b"/><rect x="75.6" y="151.2" width="7.9" height="7.9" fill="#1e0e0b"/><rect x="83.2" y="151.2" width="7.9" height="7.9" fill="#503428"/><rect x="90.8" y="151.2" width="7.9" height="7.9" fill="#1e0e0b"/><rect x="98.3" y="151.2" width="7.9" height="7.9" fill="#1e0e0b"/><rect x="105.9" y="151.2" width="7.9" height="7.9" fill="#1e0e0b"/><rect x="113.4" y="151.2" width="7.9" height="7.9" fill="#1e0e0b"/><rect x="121.0" y="151.2" width="7.9" height="7.9" fill="#503428"/><rect x="128.6" y="151.2" width="7.9" height="7.9" fill="#503428"/><rect x="136.1" y="151.2" width="7.9" height="7.9" fill="#1e0e0b"/><rect x="143.7" y="151.2" width="7.9" height="7.9" fill="#503428"/><rect x="151.2" y="151.2" width="7.9" height="7.9" fill="#503428"/><rect x="158.8" y="151.2" width="7.9" height="7.9" fill="#503428"/><rect x="166.4" y="151.2" width="7.9" height="7.9" fill="#321b15"/><rect x="173.9" y="151.2" width="7.9" height="7.9" fill="#321b15"/><rect x="181.5" y="151.2" width="7.9" height="7.9" fill="#503428"/><rect x="189.1" y="151.2" width="7.9" height="7.9" fill="#503428"/><rect x="196.6" y="151.2" width="7.9" height="7.9" fill="#7a6250"/><rect x="204.2" y="151.2" width="7.9" height="7.9" fill="#503428"/><rect x="211.8" y="151.2" width="7.9" height="7.9" fill="#503428"/><rect x="219.3" y="151.2" width="7.9" height="7.9" fill="#503428"/><rect x="226.9" y="151.2" width="7.9" height="7.9" fill="#7a6250"/><rect x="234.4" y="151.2" width="7.9" height="7.9" fill="#503428"/><rect x="242.0" y="151.2" width="7.9" height="7.9" fill="#503428"/><rect x="-7.6" y="158.8" width="7.9" height="7.9" fill="#503428"/><rect x="0.0" y="158.8" width="7.9" height="7.9" fill="#503428"/><rect x="7.6" y="158.8" width="7.9" height="7.9" fill="#7a6250"/><rect x="15.1" y="158.8" width="7.9" height="7.9" fill="#503428"/><rect x="22.7" y="158.8" width="7.9" height="7.9" fill="#321b15"/><rect x="30.2" y="158.8" width="7.9" height="7.9" fill="#321b15"/><rect x="37.8" y="158.8" width="7.9" height="7.9" fill="#321b15"/><rect x="45.4" y="158.8" width="7.9" height="7.9" fill="#503428"/><rect x="52.9" y="158.8" width="7.9" height="7.9" fill="#503428"/><rect x="60.5" y="158.8" width="7.9" height="7.9" fill="#1e0e0b"/><rect x="68.1" y="158.8" width="7.9" height="7.9" fill="#1e0e0b"/><rect x="75.6" y="158.8" width="7.9" height="7.9" fill="#1e0e0b"/><rect x="83.2" y="158.8" width="7.9" height="7.9" fill="#1e0e0b"/><rect x="90.8" y="158.8" width="7.9" height="7.9" fill="#503428"/><rect x="98.3" y="158.8" width="7.9" height="7.9" fill="#1e0e0b"/><rect x="105.9" y="158.8" width="7.9" height="7.9" fill="#1e0e0b"/><rect x="113.4" y="158.8" width="7.9" height="7.9" fill="#1e0e0b"/><rect x="121.0" y="158.8" width="7.9" height="7.9" fill="#7a6250"/><rect x="128.6" y="158.8" width="7.9" height="7.9" fill="#503428"/><rect x="136.1" y="158.8" width="7.9" height="7.9" fill="#503428"/><rect x="143.7" y="158.8" width="7.9" height="7.9" fill="#503428"/><rect x="151.2" y="158.8" width="7.9" height="7.9" fill="#503428"/><rect x="158.8" y="158.8" width="7.9" height="7.9" fill="#503428"/><rect x="166.4" y="158.8" width="7.9" height="7.9" fill="#321b15"/><rect x="173.9" y="158.8" width="7.9" height="7.9" fill="#321b15"/><rect x="181.5" y="158.8" width="7.9" height="7.9" fill="#321b15"/><rect x="189.1" y="158.8" width="7.9" height="7.9" fill="#503428"/><rect x="196.6" y="158.8" width="7.9" height="7.9" fill="#503428"/><rect x="204.2" y="158.8" width="7.9" height="7.9" fill="#7a6250"/><rect x="211.8" y="158.8" width="7.9" height="7.9" fill="#503428"/><rect x="219.3" y="158.8" width="7.9" height="7.9" fill="#503428"/><rect x="226.9" y="158.8" width="7.9" height="7.9" fill="#503428"/><rect x="234.4" y="158.8" width="7.9" height="7.9" fill="#7a6250"/><rect x="242.0" y="158.8" width="7.9" height="7.9" fill="#7a6250"/><rect x="-7.6" y="166.4" width="7.9" height="7.9" fill="#503428"/><rect x="0.0" y="166.4" width="7.9" height="7.9" fill="#503428"/><rect x="7.6" y="166.4" width="7.9" height="7.9" fill="#503428"/><rect x="15.1" y="166.4" width="7.9" height="7.9" fill="#503428"/><rect x="22.7" y="166.4" width="7.9" height="7.9" fill="#503428"/><rect x="30.2" y="166.4" width="7.9" height="7.9" fill="#503428"/><rect x="37.8" y="166.4" width="7.9" height="7.9" fill="#503428"/><rect x="45.4" y="166.4" width="7.9" height="7.9" fill="#503428"/><rect x="52.9" y="166.4" width="7.9" height="7.9" fill="#503428"/><rect x="60.5" y="166.4" width="7.9" height="7.9" fill="#503428"/><rect x="68.1" y="166.4" width="7.9" height="7.9" fill="#1e0e0b"/><rect x="75.6" y="166.4" width="7.9" height="7.9" fill="#1e0e0b"/><rect x="83.2" y="166.4" width="7.9" height="7.9" fill="#1e0e0b"/><rect x="90.8" y="166.4" width="7.9" height="7.9" fill="#503428"/><rect x="98.3" y="166.4" width="7.9" height="7.9" fill="#321b15"/><rect x="105.9" y="166.4" width="7.9" height="7.9" fill="#1e0e0b"/><rect x="113.4" y="166.4" width="7.9" height="7.9" fill="#1e0e0b"/><rect x="121.0" y="166.4" width="7.9" height="7.9" fill="#503428"/><rect x="128.6" y="166.4" width="7.9" height="7.9" fill="#503428"/><rect x="136.1" y="166.4" width="7.9" height="7.9" fill="#321b15"/><rect x="143.7" y="166.4" width="7.9" height="7.9" fill="#321b15"/><rect x="151.2" y="166.4" width="7.9" height="7.9" fill="#503428"/><rect x="158.8" y="166.4" width="7.9" height="7.9" fill="#321b15"/><rect x="166.4" y="166.4" width="7.9" height="7.9" fill="#503428"/><rect x="173.9" y="166.4" width="7.9" height="7.9" fill="#503428"/><rect x="181.5" y="166.4" width="7.9" height="7.9" fill="#503428"/><rect x="189.1" y="166.4" width="7.9" height="7.9" fill="#321b15"/><rect x="196.6" y="166.4" width="7.9" height="7.9" fill="#503428"/><rect x="204.2" y="166.4" width="7.9" height="7.9" fill="#503428"/><rect x="211.8" y="166.4" width="7.9" height="7.9" fill="#7a6250"/><rect x="219.3" y="166.4" width="7.9" height="7.9" fill="#503428"/><rect x="226.9" y="166.4" width="7.9" height="7.9" fill="#503428"/><rect x="234.4" y="166.4" width="7.9" height="7.9" fill="#503428"/><rect x="242.0" y="166.4" width="7.9" height="7.9" fill="#503428"/><rect x="-7.6" y="173.9" width="7.9" height="7.9" fill="#321b15"/><rect x="0.0" y="173.9" width="7.9" height="7.9" fill="#321b15"/><rect x="7.6" y="173.9" width="7.9" height="7.9" fill="#623824"/><rect x="15.1" y="173.9" width="7.9" height="7.9" fill="#623824"/><rect x="22.7" y="173.9" width="7.9" height="7.9" fill="#623824"/><rect x="30.2" y="173.9" width="7.9" height="7.9" fill="#503428"/><rect x="37.8" y="173.9" width="7.9" height="7.9" fill="#503428"/><rect x="45.4" y="173.9" width="7.9" height="7.9" fill="#321b15"/><rect x="52.9" y="173.9" width="7.9" height="7.9" fill="#503428"/><rect x="60.5" y="173.9" width="7.9" height="7.9" fill="#503428"/><rect x="68.1" y="173.9" width="7.9" height="7.9" fill="#503428"/><rect x="75.6" y="173.9" width="7.9" height="7.9" fill="#321b15"/><rect x="83.2" y="173.9" width="7.9" height="7.9" fill="#321b15"/><rect x="90.8" y="173.9" width="7.9" height="7.9" fill="#321b15"/><rect x="98.3" y="173.9" width="7.9" height="7.9" fill="#503428"/><rect x="105.9" y="173.9" width="7.9" height="7.9" fill="#321b15"/><rect x="113.4" y="173.9" width="7.9" height="7.9" fill="#321b15"/><rect x="121.0" y="173.9" width="7.9" height="7.9" fill="#7a6250"/><rect x="128.6" y="173.9" width="7.9" height="7.9" fill="#503428"/><rect x="136.1" y="173.9" width="7.9" height="7.9" fill="#321b15"/><rect x="143.7" y="173.9" width="7.9" height="7.9" fill="#321b15"/><rect x="151.2" y="173.9" width="7.9" height="7.9" fill="#503428"/><rect x="158.8" y="173.9" width="7.9" height="7.9" fill="#503428"/><rect x="166.4" y="173.9" width="7.9" height="7.9" fill="#503428"/><rect x="173.9" y="173.9" width="7.9" height="7.9" fill="#503428"/><rect x="181.5" y="173.9" width="7.9" height="7.9" fill="#503428"/><rect x="189.1" y="173.9" width="7.9" height="7.9" fill="#503428"/><rect x="196.6" y="173.9" width="7.9" height="7.9" fill="#321b15"/><rect x="204.2" y="173.9" width="7.9" height="7.9" fill="#503428"/><rect x="211.8" y="173.9" width="7.9" height="7.9" fill="#503428"/><rect x="219.3" y="173.9" width="7.9" height="7.9" fill="#7a6250"/><rect x="226.9" y="173.9" width="7.9" height="7.9" fill="#503428"/><rect x="234.4" y="173.9" width="7.9" height="7.9" fill="#503428"/><rect x="242.0" y="173.9" width="7.9" height="7.9" fill="#503428"/><rect x="-7.6" y="181.5" width="7.9" height="7.9" fill="#503428"/><rect x="0.0" y="181.5" width="7.9" height="7.9" fill="#503428"/><rect x="7.6" y="181.5" width="7.9" height="7.9" fill="#623824"/><rect x="15.1" y="181.5" width="7.9" height="7.9" fill="#623824"/><rect x="22.7" y="181.5" width="7.9" height="7.9" fill="#623824"/><rect x="30.2" y="181.5" width="7.9" height="7.9" fill="#623824"/><rect x="37.8" y="181.5" width="7.9" height="7.9" fill="#623824"/><rect x="45.4" y="181.5" width="7.9" height="7.9" fill="#623824"/><rect x="52.9" y="181.5" width="7.9" height="7.9" fill="#503428"/><rect x="60.5" y="181.5" width="7.9" height="7.9" fill="#503428"/><rect x="68.1" y="181.5" width="7.9" height="7.9" fill="#623824"/><rect x="75.6" y="181.5" width="7.9" height="7.9" fill="#503428"/><rect x="83.2" y="181.5" width="7.9" height="7.9" fill="#623824"/><rect x="90.8" y="181.5" width="7.9" height="7.9" fill="#7a6250"/><rect x="98.3" y="181.5" width="7.9" height="7.9" fill="#503428"/><rect x="105.9" y="181.5" width="7.9" height="7.9" fill="#503428"/><rect x="113.4" y="181.5" width="7.9" height="7.9" fill="#7a6250"/><rect x="121.0" y="181.5" width="7.9" height="7.9" fill="#7a6250"/><rect x="128.6" y="181.5" width="7.9" height="7.9" fill="#503428"/><rect x="136.1" y="181.5" width="7.9" height="7.9" fill="#503428"/><rect x="143.7" y="181.5" width="7.9" height="7.9" fill="#321b15"/><rect x="151.2" y="181.5" width="7.9" height="7.9" fill="#321b15"/><rect x="158.8" y="181.5" width="7.9" height="7.9" fill="#503428"/><rect x="166.4" y="181.5" width="7.9" height="7.9" fill="#503428"/><rect x="173.9" y="181.5" width="7.9" height="7.9" fill="#503428"/><rect x="181.5" y="181.5" width="7.9" height="7.9" fill="#503428"/><rect x="189.1" y="181.5" width="7.9" height="7.9" fill="#503428"/><rect x="196.6" y="181.5" width="7.9" height="7.9" fill="#503428"/><rect x="204.2" y="181.5" width="7.9" height="7.9" fill="#503428"/><rect x="211.8" y="181.5" width="7.9" height="7.9" fill="#503428"/><rect x="219.3" y="181.5" width="7.9" height="7.9" fill="#503428"/><rect x="226.9" y="181.5" width="7.9" height="7.9" fill="#7a6250"/><rect x="234.4" y="181.5" width="7.9" height="7.9" fill="#503428"/><rect x="242.0" y="181.5" width="7.9" height="7.9" fill="#503428"/><rect x="-7.6" y="189.1" width="7.9" height="7.9" fill="#321b15"/><rect x="0.0" y="189.1" width="7.9" height="7.9" fill="#321b15"/><rect x="7.6" y="189.1" width="7.9" height="7.9" fill="#623824"/><rect x="15.1" y="189.1" width="7.9" height="7.9" fill="#623824"/><rect x="22.7" y="189.1" width="7.9" height="7.9" fill="#623824"/><rect x="30.2" y="189.1" width="7.9" height="7.9" fill="#321b15"/><rect x="37.8" y="189.1" width="7.9" height="7.9" fill="#623824"/><rect x="45.4" y="189.1" width="7.9" height="7.9" fill="#321b15"/><rect x="52.9" y="189.1" width="7.9" height="7.9" fill="#321b15"/><rect x="60.5" y="189.1" width="7.9" height="7.9" fill="#623824"/><rect x="68.1" y="189.1" width="7.9" height="7.9" fill="#503428"/><rect x="75.6" y="189.1" width="7.9" height="7.9" fill="#623824"/><rect x="83.2" y="189.1" width="7.9" height="7.9" fill="#623824"/><rect x="90.8" y="189.1" width="7.9" height="7.9" fill="#7a6250"/><rect x="98.3" y="189.1" width="7.9" height="7.9" fill="#503428"/><rect x="105.9" y="189.1" width="7.9" height="7.9" fill="#503428"/><rect x="113.4" y="189.1" width="7.9" height="7.9" fill="#503428"/><rect x="121.0" y="189.1" width="7.9" height="7.9" fill="#503428"/><rect x="128.6" y="189.1" width="7.9" height="7.9" fill="#321b15"/><rect x="136.1" y="189.1" width="7.9" height="7.9" fill="#503428"/><rect x="143.7" y="189.1" width="7.9" height="7.9" fill="#321b15"/><rect x="151.2" y="189.1" width="7.9" height="7.9" fill="#321b15"/><rect x="158.8" y="189.1" width="7.9" height="7.9" fill="#503428"/><rect x="166.4" y="189.1" width="7.9" height="7.9" fill="#503428"/><rect x="173.9" y="189.1" width="7.9" height="7.9" fill="#7a6250"/><rect x="181.5" y="189.1" width="7.9" height="7.9" fill="#503428"/><rect x="189.1" y="189.1" width="7.9" height="7.9" fill="#321b15"/><rect x="196.6" y="189.1" width="7.9" height="7.9" fill="#503428"/><rect x="204.2" y="189.1" width="7.9" height="7.9" fill="#503428"/><rect x="211.8" y="189.1" width="7.9" height="7.9" fill="#503428"/><rect x="219.3" y="189.1" width="7.9" height="7.9" fill="#7a6250"/><rect x="226.9" y="189.1" width="7.9" height="7.9" fill="#503428"/><rect x="234.4" y="189.1" width="7.9" height="7.9" fill="#503428"/><rect x="242.0" y="189.1" width="7.9" height="7.9" fill="#503428"/><rect x="-7.6" y="196.6" width="7.9" height="7.9" fill="#321b15"/><rect x="0.0" y="196.6" width="7.9" height="7.9" fill="#321b15"/><rect x="7.6" y="196.6" width="7.9" height="7.9" fill="#623824"/><rect x="15.1" y="196.6" width="7.9" height="7.9" fill="#623824"/><rect x="22.7" y="196.6" width="7.9" height="7.9" fill="#321b15"/><rect x="30.2" y="196.6" width="7.9" height="7.9" fill="#321b15"/><rect x="37.8" y="196.6" width="7.9" height="7.9" fill="#623824"/><rect x="45.4" y="196.6" width="7.9" height="7.9" fill="#1e0e0b"/><rect x="52.9" y="196.6" width="7.9" height="7.9" fill="#623824"/><rect x="60.5" y="196.6" width="7.9" height="7.9" fill="#623824"/><rect x="68.1" y="196.6" width="7.9" height="7.9" fill="#623824"/><rect x="75.6" y="196.6" width="7.9" height="7.9" fill="#623824"/><rect x="83.2" y="196.6" width="7.9" height="7.9" fill="#503428"/><rect x="90.8" y="196.6" width="7.9" height="7.9" fill="#503428"/><rect x="98.3" y="196.6" width="7.9" height="7.9" fill="#7a6250"/><rect x="105.9" y="196.6" width="7.9" height="7.9" fill="#503428"/><rect x="113.4" y="196.6" width="7.9" height="7.9" fill="#503428"/><rect x="121.0" y="196.6" width="7.9" height="7.9" fill="#503428"/><rect x="128.6" y="196.6" width="7.9" height="7.9" fill="#503428"/><rect x="136.1" y="196.6" width="7.9" height="7.9" fill="#503428"/><rect x="143.7" y="196.6" width="7.9" height="7.9" fill="#503428"/><rect x="151.2" y="196.6" width="7.9" height="7.9" fill="#321b15"/><rect x="158.8" y="196.6" width="7.9" height="7.9" fill="#503428"/><rect x="166.4" y="196.6" width="7.9" height="7.9" fill="#503428"/><rect x="173.9" y="196.6" width="7.9" height="7.9" fill="#503428"/><rect x="181.5" y="196.6" width="7.9" height="7.9" fill="#503428"/><rect x="189.1" y="196.6" width="7.9" height="7.9" fill="#503428"/><rect x="196.6" y="196.6" width="7.9" height="7.9" fill="#503428"/><rect x="204.2" y="196.6" width="7.9" height="7.9" fill="#503428"/><rect x="211.8" y="196.6" width="7.9" height="7.9" fill="#7a6250"/><rect x="219.3" y="196.6" width="7.9" height="7.9" fill="#503428"/><rect x="226.9" y="196.6" width="7.9" height="7.9" fill="#503428"/><rect x="234.4" y="196.6" width="7.9" height="7.9" fill="#6e6987"/><rect x="242.0" y="196.6" width="7.9" height="7.9" fill="#6e6987"/><rect x="-7.6" y="204.2" width="7.9" height="7.9" fill="#623824"/><rect x="0.0" y="204.2" width="7.9" height="7.9" fill="#623824"/><rect x="7.6" y="204.2" width="7.9" height="7.9" fill="#623824"/><rect x="15.1" y="204.2" width="7.9" height="7.9" fill="#623824"/><rect x="22.7" y="204.2" width="7.9" height="7.9" fill="#321b15"/><rect x="30.2" y="204.2" width="7.9" height="7.9" fill="#321b15"/><rect x="37.8" y="204.2" width="7.9" height="7.9" fill="#321b15"/><rect x="45.4" y="204.2" width="7.9" height="7.9" fill="#1e0e0b"/><rect x="52.9" y="204.2" width="7.9" height="7.9" fill="#1e0e0b"/><rect x="60.5" y="204.2" width="7.9" height="7.9" fill="#623824"/><rect x="68.1" y="204.2" width="7.9" height="7.9" fill="#623824"/><rect x="75.6" y="204.2" width="7.9" height="7.9" fill="#623824"/><rect x="83.2" y="204.2" width="7.9" height="7.9" fill="#503428"/><rect x="90.8" y="204.2" width="7.9" height="7.9" fill="#503428"/><rect x="98.3" y="204.2" width="7.9" height="7.9" fill="#503428"/><rect x="105.9" y="204.2" width="7.9" height="7.9" fill="#7a6250"/><rect x="113.4" y="204.2" width="7.9" height="7.9" fill="#503428"/><rect x="121.0" y="204.2" width="7.9" height="7.9" fill="#7a6250"/><rect x="128.6" y="204.2" width="7.9" height="7.9" fill="#503428"/><rect x="136.1" y="204.2" width="7.9" height="7.9" fill="#503428"/><rect x="143.7" y="204.2" width="7.9" height="7.9" fill="#503428"/><rect x="151.2" y="204.2" width="7.9" height="7.9" fill="#503428"/><rect x="158.8" y="204.2" width="7.9" height="7.9" fill="#7a6250"/><rect x="166.4" y="204.2" width="7.9" height="7.9" fill="#503428"/><rect x="173.9" y="204.2" width="7.9" height="7.9" fill="#503428"/><rect x="181.5" y="204.2" width="7.9" height="7.9" fill="#321b15"/><rect x="189.1" y="204.2" width="7.9" height="7.9" fill="#503428"/><rect x="196.6" y="204.2" width="7.9" height="7.9" fill="#321b15"/><rect x="204.2" y="204.2" width="7.9" height="7.9" fill="#503428"/><rect x="211.8" y="204.2" width="7.9" height="7.9" fill="#7a6250"/><rect x="219.3" y="204.2" width="7.9" height="7.9" fill="#503428"/><rect x="226.9" y="204.2" width="7.9" height="7.9" fill="#503428"/><rect x="234.4" y="204.2" width="7.9" height="7.9" fill="#6e6987"/><rect x="242.0" y="204.2" width="7.9" height="7.9" fill="#6e6987"/><rect x="-7.6" y="211.8" width="7.9" height="7.9" fill="#623824"/><rect x="0.0" y="211.8" width="7.9" height="7.9" fill="#623824"/><rect x="7.6" y="211.8" width="7.9" height="7.9" fill="#623824"/><rect x="15.1" y="211.8" width="7.9" height="7.9" fill="#623824"/><rect x="22.7" y="211.8" width="7.9" height="7.9" fill="#623824"/><rect x="30.2" y="211.8" width="7.9" height="7.9" fill="#623824"/><rect x="37.8" y="211.8" width="7.9" height="7.9" fill="#623824"/><rect x="45.4" y="211.8" width="7.9" height="7.9" fill="#623824"/><rect x="52.9" y="211.8" width="7.9" height="7.9" fill="#623824"/><rect x="60.5" y="211.8" width="7.9" height="7.9" fill="#623824"/><rect x="68.1" y="211.8" width="7.9" height="7.9" fill="#623824"/><rect x="75.6" y="211.8" width="7.9" height="7.9" fill="#321b15"/><rect x="83.2" y="211.8" width="7.9" height="7.9" fill="#503428"/><rect x="90.8" y="211.8" width="7.9" height="7.9" fill="#321b15"/><rect x="98.3" y="211.8" width="7.9" height="7.9" fill="#503428"/><rect x="105.9" y="211.8" width="7.9" height="7.9" fill="#503428"/><rect x="113.4" y="211.8" width="7.9" height="7.9" fill="#7a6250"/><rect x="121.0" y="211.8" width="7.9" height="7.9" fill="#503428"/><rect x="128.6" y="211.8" width="7.9" height="7.9" fill="#321b15"/><rect x="136.1" y="211.8" width="7.9" height="7.9" fill="#503428"/><rect x="143.7" y="211.8" width="7.9" height="7.9" fill="#503428"/><rect x="151.2" y="211.8" width="7.9" height="7.9" fill="#321b15"/><rect x="158.8" y="211.8" width="7.9" height="7.9" fill="#503428"/><rect x="166.4" y="211.8" width="7.9" height="7.9" fill="#7a6250"/><rect x="173.9" y="211.8" width="7.9" height="7.9" fill="#503428"/><rect x="181.5" y="211.8" width="7.9" height="7.9" fill="#7a6250"/><rect x="189.1" y="211.8" width="7.9" height="7.9" fill="#503428"/><rect x="196.6" y="211.8" width="7.9" height="7.9" fill="#503428"/><rect x="204.2" y="211.8" width="7.9" height="7.9" fill="#7a6250"/><rect x="211.8" y="211.8" width="7.9" height="7.9" fill="#503428"/><rect x="219.3" y="211.8" width="7.9" height="7.9" fill="#503428"/><rect x="226.9" y="211.8" width="7.9" height="7.9" fill="#321b15"/><rect x="234.4" y="211.8" width="7.9" height="7.9" fill="#503428"/><rect x="242.0" y="211.8" width="7.9" height="7.9" fill="#503428"/><rect x="-7.6" y="219.3" width="7.9" height="7.9" fill="#623824"/><rect x="0.0" y="219.3" width="7.9" height="7.9" fill="#623824"/><rect x="7.6" y="219.3" width="7.9" height="7.9" fill="#623824"/><rect x="15.1" y="219.3" width="7.9" height="7.9" fill="#321b15"/><rect x="22.7" y="219.3" width="7.9" height="7.9" fill="#623824"/><rect x="30.2" y="219.3" width="7.9" height="7.9" fill="#623824"/><rect x="37.8" y="219.3" width="7.9" height="7.9" fill="#623824"/><rect x="45.4" y="219.3" width="7.9" height="7.9" fill="#321b15"/><rect x="52.9" y="219.3" width="7.9" height="7.9" fill="#623824"/><rect x="60.5" y="219.3" width="7.9" height="7.9" fill="#623824"/><rect x="68.1" y="219.3" width="7.9" height="7.9" fill="#321b15"/><rect x="75.6" y="219.3" width="7.9" height="7.9" fill="#321b15"/><rect x="83.2" y="219.3" width="7.9" height="7.9" fill="#321b15"/><rect x="90.8" y="219.3" width="7.9" height="7.9" fill="#503428"/><rect x="98.3" y="219.3" width="7.9" height="7.9" fill="#321b15"/><rect x="105.9" y="219.3" width="7.9" height="7.9" fill="#503428"/><rect x="113.4" y="219.3" width="7.9" height="7.9" fill="#503428"/><rect x="121.0" y="219.3" width="7.9" height="7.9" fill="#321b15"/><rect x="128.6" y="219.3" width="7.9" height="7.9" fill="#321b15"/><rect x="136.1" y="219.3" width="7.9" height="7.9" fill="#503428"/><rect x="143.7" y="219.3" width="7.9" height="7.9" fill="#321b15"/><rect x="151.2" y="219.3" width="7.9" height="7.9" fill="#321b15"/><rect x="158.8" y="219.3" width="7.9" height="7.9" fill="#321b15"/><rect x="166.4" y="219.3" width="7.9" height="7.9" fill="#503428"/><rect x="173.9" y="219.3" width="7.9" height="7.9" fill="#503428"/><rect x="181.5" y="219.3" width="7.9" height="7.9" fill="#503428"/><rect x="189.1" y="219.3" width="7.9" height="7.9" fill="#7a6250"/><rect x="196.6" y="219.3" width="7.9" height="7.9" fill="#503428"/><rect x="204.2" y="219.3" width="7.9" height="7.9" fill="#503428"/><rect x="211.8" y="219.3" width="7.9" height="7.9" fill="#321b15"/><rect x="219.3" y="219.3" width="7.9" height="7.9" fill="#503428"/><rect x="226.9" y="219.3" width="7.9" height="7.9" fill="#321b15"/><rect x="234.4" y="219.3" width="7.9" height="7.9" fill="#503428"/><rect x="242.0" y="219.3" width="7.9" height="7.9" fill="#503428"/><rect x="-7.6" y="226.9" width="7.9" height="7.9" fill="#623824"/><rect x="0.0" y="226.9" width="7.9" height="7.9" fill="#623824"/><rect x="7.6" y="226.9" width="7.9" height="7.9" fill="#321b15"/><rect x="15.1" y="226.9" width="7.9" height="7.9" fill="#1e0e0b"/><rect x="22.7" y="226.9" width="7.9" height="7.9" fill="#623824"/><rect x="30.2" y="226.9" width="7.9" height="7.9" fill="#623824"/><rect x="37.8" y="226.9" width="7.9" height="7.9" fill="#1e0e0b"/><rect x="45.4" y="226.9" width="7.9" height="7.9" fill="#623824"/><rect x="52.9" y="226.9" width="7.9" height="7.9" fill="#321b15"/><rect x="60.5" y="226.9" width="7.9" height="7.9" fill="#503428"/><rect x="68.1" y="226.9" width="7.9" height="7.9" fill="#503428"/><rect x="75.6" y="226.9" width="7.9" height="7.9" fill="#503428"/><rect x="83.2" y="226.9" width="7.9" height="7.9" fill="#321b15"/><rect x="90.8" y="226.9" width="7.9" height="7.9" fill="#321b15"/><rect x="98.3" y="226.9" width="7.9" height="7.9" fill="#503428"/><rect x="105.9" y="226.9" width="7.9" height="7.9" fill="#321b15"/><rect x="113.4" y="226.9" width="7.9" height="7.9" fill="#503428"/><rect x="121.0" y="226.9" width="7.9" height="7.9" fill="#321b15"/><rect x="128.6" y="226.9" width="7.9" height="7.9" fill="#321b15"/><rect x="136.1" y="226.9" width="7.9" height="7.9" fill="#321b15"/><rect x="143.7" y="226.9" width="7.9" height="7.9" fill="#321b15"/><rect x="151.2" y="226.9" width="7.9" height="7.9" fill="#321b15"/><rect x="158.8" y="226.9" width="7.9" height="7.9" fill="#321b15"/><rect x="166.4" y="226.9" width="7.9" height="7.9" fill="#321b15"/><rect x="173.9" y="226.9" width="7.9" height="7.9" fill="#321b15"/><rect x="181.5" y="226.9" width="7.9" height="7.9" fill="#321b15"/><rect x="189.1" y="226.9" width="7.9" height="7.9" fill="#321b15"/><rect x="196.6" y="226.9" width="7.9" height="7.9" fill="#321b15"/><rect x="204.2" y="226.9" width="7.9" height="7.9" fill="#503428"/><rect x="211.8" y="226.9" width="7.9" height="7.9" fill="#321b15"/><rect x="219.3" y="226.9" width="7.9" height="7.9" fill="#321b15"/><rect x="226.9" y="226.9" width="7.9" height="7.9" fill="#321b15"/><rect x="234.4" y="226.9" width="7.9" height="7.9" fill="#503428"/><rect x="242.0" y="226.9" width="7.9" height="7.9" fill="#503428"/><rect x="-7.6" y="234.4" width="7.9" height="7.9" fill="#623824"/><rect x="0.0" y="234.4" width="7.9" height="7.9" fill="#623824"/><rect x="7.6" y="234.4" width="7.9" height="7.9" fill="#321b15"/><rect x="15.1" y="234.4" width="7.9" height="7.9" fill="#1e0e0b"/><rect x="22.7" y="234.4" width="7.9" height="7.9" fill="#623824"/><rect x="30.2" y="234.4" width="7.9" height="7.9" fill="#623824"/><rect x="37.8" y="234.4" width="7.9" height="7.9" fill="#1e0e0b"/><rect x="45.4" y="234.4" width="7.9" height="7.9" fill="#623824"/><rect x="52.9" y="234.4" width="7.9" height="7.9" fill="#1e0e0b"/><rect x="60.5" y="234.4" width="7.9" height="7.9" fill="#503428"/><rect x="68.1" y="234.4" width="7.9" height="7.9" fill="#503428"/><rect x="75.6" y="234.4" width="7.9" height="7.9" fill="#503428"/><rect x="83.2" y="234.4" width="7.9" height="7.9" fill="#321b15"/><rect x="90.8" y="234.4" width="7.9" height="7.9" fill="#503428"/><rect x="98.3" y="234.4" width="7.9" height="7.9" fill="#321b15"/><rect x="105.9" y="234.4" width="7.9" height="7.9" fill="#503428"/><rect x="113.4" y="234.4" width="7.9" height="7.9" fill="#503428"/><rect x="121.0" y="234.4" width="7.9" height="7.9" fill="#321b15"/><rect x="128.6" y="234.4" width="7.9" height="7.9" fill="#1e0e0b"/><rect x="136.1" y="234.4" width="7.9" height="7.9" fill="#321b15"/><rect x="143.7" y="234.4" width="7.9" height="7.9" fill="#321b15"/><rect x="151.2" y="234.4" width="7.9" height="7.9" fill="#321b15"/><rect x="158.8" y="234.4" width="7.9" height="7.9" fill="#321b15"/><rect x="166.4" y="234.4" width="7.9" height="7.9" fill="#321b15"/><rect x="173.9" y="234.4" width="7.9" height="7.9" fill="#321b15"/><rect x="181.5" y="234.4" width="7.9" height="7.9" fill="#321b15"/><rect x="189.1" y="234.4" width="7.9" height="7.9" fill="#321b15"/><rect x="196.6" y="234.4" width="7.9" height="7.9" fill="#321b15"/><rect x="204.2" y="234.4" width="7.9" height="7.9" fill="#321b15"/><rect x="211.8" y="234.4" width="7.9" height="7.9" fill="#503428"/><rect x="219.3" y="234.4" width="7.9" height="7.9" fill="#321b15"/><rect x="226.9" y="234.4" width="7.9" height="7.9" fill="#321b15"/><rect x="234.4" y="234.4" width="7.9" height="7.9" fill="#321b15"/><rect x="242.0" y="234.4" width="7.9" height="7.9" fill="#321b15"/><rect x="-7.6" y="242.0" width="7.9" height="7.9" fill="#623824"/><rect x="0.0" y="242.0" width="7.9" height="7.9" fill="#623824"/><rect x="7.6" y="242.0" width="7.9" height="7.9" fill="#321b15"/><rect x="15.1" y="242.0" width="7.9" height="7.9" fill="#1e0e0b"/><rect x="22.7" y="242.0" width="7.9" height="7.9" fill="#623824"/><rect x="30.2" y="242.0" width="7.9" height="7.9" fill="#623824"/><rect x="37.8" y="242.0" width="7.9" height="7.9" fill="#1e0e0b"/><rect x="45.4" y="242.0" width="7.9" height="7.9" fill="#623824"/><rect x="52.9" y="242.0" width="7.9" height="7.9" fill="#1e0e0b"/><rect x="60.5" y="242.0" width="7.9" height="7.9" fill="#503428"/><rect x="68.1" y="242.0" width="7.9" height="7.9" fill="#503428"/><rect x="75.6" y="242.0" width="7.9" height="7.9" fill="#503428"/><rect x="83.2" y="242.0" width="7.9" height="7.9" fill="#321b15"/><rect x="90.8" y="242.0" width="7.9" height="7.9" fill="#503428"/><rect x="98.3" y="242.0" width="7.9" height="7.9" fill="#321b15"/><rect x="105.9" y="242.0" width="7.9" height="7.9" fill="#503428"/><rect x="113.4" y="242.0" width="7.9" height="7.9" fill="#503428"/><rect x="121.0" y="242.0" width="7.9" height="7.9" fill="#321b15"/><rect x="128.6" y="242.0" width="7.9" height="7.9" fill="#1e0e0b"/><rect x="136.1" y="242.0" width="7.9" height="7.9" fill="#321b15"/><rect x="143.7" y="242.0" width="7.9" height="7.9" fill="#321b15"/><rect x="151.2" y="242.0" width="7.9" height="7.9" fill="#321b15"/><rect x="158.8" y="242.0" width="7.9" height="7.9" fill="#321b15"/><rect x="166.4" y="242.0" width="7.9" height="7.9" fill="#321b15"/><rect x="173.9" y="242.0" width="7.9" height="7.9" fill="#321b15"/><rect x="181.5" y="242.0" width="7.9" height="7.9" fill="#321b15"/><rect x="189.1" y="242.0" width="7.9" height="7.9" fill="#321b15"/><rect x="196.6" y="242.0" width="7.9" height="7.9" fill="#321b15"/><rect x="204.2" y="242.0" width="7.9" height="7.9" fill="#321b15"/><rect x="211.8" y="242.0" width="7.9" height="7.9" fill="#503428"/><rect x="219.3" y="242.0" width="7.9" height="7.9" fill="#321b15"/><rect x="226.9" y="242.0" width="7.9" height="7.9" fill="#321b15"/><rect x="234.4" y="242.0" width="7.9" height="7.9" fill="#321b15"/><rect x="242.0" y="242.0" width="7.9" height="7.9" fill="#321b15"/></g><g filter="url(#p2b2)"><polyline points="182.8,-2.4 178.8,23.6 170.8,73.6 164.8,111.6" fill="none" stroke="#a08a74" stroke-opacity="0.50" stroke-width="2.0" stroke-linejoin="round" stroke-linecap="round"/><polyline points="199.8,-2.4 195.4,23.6 186.3,73.6 179.8,111.6" fill="none" stroke="#a08a74" stroke-opacity="0.50" stroke-width="2.0" stroke-linejoin="round" stroke-linecap="round"/><polyline points="76.8,134.6 85.8,150.6 94.8,167.6" fill="none" stroke="#a08a78" stroke-opacity="0.40" stroke-width="2.0" stroke-linejoin="round" stroke-linecap="round"/><polyline points="17.8,99.6 27.8,90.6 37.8,83.6 47.8,78.6 59.8,75.6 77.8,78.6 92.8,85.6 107.8,94.6 121.8,102.6 133.8,110.6" fill="none" stroke="#a08a78" stroke-opacity="0.55" stroke-width="3.5" stroke-linejoin="round" stroke-linecap="round"/><polygon points="8.3,176.6 17.3,176.6 17.3,210.1 8.3,210.1" fill="#dcd8bc"/><polygon points="16.8,177.9 35.8,177.9 35.8,184.6 16.8,184.6" fill="#aab0e4"/><polygon points="23.6,183.6 34.8,183.6 34.8,242.1 23.6,242.1" fill="#9ea2d8"/><polygon points="34.8,186.6 41.8,188.1 85.4,197.1 88.3,198.6 84.8,203.1 79.2,204.6 41.8,195.4 34.8,193.6" fill="#b0b2ea"/><polygon points="78.8,197.1 88.3,198.1 79.8,219.6 70.3,219.6" fill="#aaaee6"/><polygon points="-1.2,217.6 79.2,217.6 79.2,227.6 -1.2,227.6" fill="#b4b6ec"/><polygon points="-1.2,219.6 6.3,219.6 6.3,242.6 -1.2,242.6" fill="#9a9ed8"/></g></g></g></g>
   <g id="line2d_1">
    <path d="M 13.032 185.904 
L 13.032 11.736 
" clip-path="url(#pcc280da497)" style="fill: none; stroke: #ffffff; stroke-opacity: 0.33; stroke-width: 0.65; stroke-linecap: square"/>
   </g>
   <g id="line2d_2">
    <path d="M 13.032 185.904 
L 187.776 185.904 
" clip-path="url(#pcc280da497)" style="fill: none; stroke: #ffffff; stroke-opacity: 0.33; stroke-width: 0.65; stroke-linecap: square"/>
   </g>
   <g id="line2d_3">
    <path d="M 23.9535 185.904 
L 23.9535 11.736 
" clip-path="url(#pcc280da497)" style="fill: none; stroke: #ffffff; stroke-opacity: 0.33; stroke-width: 0.65; stroke-linecap: square"/>
   </g>
   <g id="line2d_4">
    <path d="M 13.032 175.0185 
L 187.776 175.0185 
" clip-path="url(#pcc280da497)" style="fill: none; stroke: #ffffff; stroke-opacity: 0.33; stroke-width: 0.65; stroke-linecap: square"/>
   </g>
   <g id="line2d_5">
    <path d="M 34.875 185.904 
L 34.875 11.736 
" clip-path="url(#pcc280da497)" style="fill: none; stroke: #ffffff; stroke-opacity: 0.33; stroke-width: 0.65; stroke-linecap: square"/>
   </g>
   <g id="line2d_6">
    <path d="M 13.032 164.133 
L 187.776 164.133 
" clip-path="url(#pcc280da497)" style="fill: none; stroke: #ffffff; stroke-opacity: 0.33; stroke-width: 0.65; stroke-linecap: square"/>
   </g>
   <g id="line2d_7">
    <path d="M 45.7965 185.904 
L 45.7965 11.736 
" clip-path="url(#pcc280da497)" style="fill: none; stroke: #ffffff; stroke-opacity: 0.33; stroke-width: 0.65; stroke-linecap: square"/>
   </g>
   <g id="line2d_8">
    <path d="M 13.032 153.2475 
L 187.776 153.2475 
" clip-path="url(#pcc280da497)" style="fill: none; stroke: #ffffff; stroke-opacity: 0.33; stroke-width: 0.65; stroke-linecap: square"/>
   </g>
   <g id="line2d_9">
    <path d="M 56.718 185.904 
L 56.718 11.736 
" clip-path="url(#pcc280da497)" style="fill: none; stroke: #ffffff; stroke-opacity: 0.33; stroke-width: 0.65; stroke-linecap: square"/>
   </g>
   <g id="line2d_10">
    <path d="M 13.032 142.362 
L 187.776 142.362 
" clip-path="url(#pcc280da497)" style="fill: none; stroke: #ffffff; stroke-opacity: 0.33; stroke-width: 0.65; stroke-linecap: square"/>
   </g>
   <g id="line2d_11">
    <path d="M 67.6395 185.904 
L 67.6395 11.736 
" clip-path="url(#pcc280da497)" style="fill: none; stroke: #ffffff; stroke-opacity: 0.33; stroke-width: 0.65; stroke-linecap: square"/>
   </g>
   <g id="line2d_12">
    <path d="M 13.032 131.4765 
L 187.776 131.4765 
" clip-path="url(#pcc280da497)" style="fill: none; stroke: #ffffff; stroke-opacity: 0.33; stroke-width: 0.65; stroke-linecap: square"/>
   </g>
   <g id="line2d_13">
    <path d="M 78.561 185.904 
L 78.561 11.736 
" clip-path="url(#pcc280da497)" style="fill: none; stroke: #ffffff; stroke-opacity: 0.33; stroke-width: 0.65; stroke-linecap: square"/>
   </g>
   <g id="line2d_14">
    <path d="M 13.032 120.591 
L 187.776 120.591 
" clip-path="url(#pcc280da497)" style="fill: none; stroke: #ffffff; stroke-opacity: 0.33; stroke-width: 0.65; stroke-linecap: square"/>
   </g>
   <g id="line2d_15">
    <path d="M 89.4825 185.904 
L 89.4825 11.736 
" clip-path="url(#pcc280da497)" style="fill: none; stroke: #ffffff; stroke-opacity: 0.33; stroke-width: 0.65; stroke-linecap: square"/>
   </g>
   <g id="line2d_16">
    <path d="M 13.032 109.7055 
L 187.776 109.7055 
" clip-path="url(#pcc280da497)" style="fill: none; stroke: #ffffff; stroke-opacity: 0.33; stroke-width: 0.65; stroke-linecap: square"/>
   </g>
   <g id="line2d_17">
    <path d="M 100.404 185.904 
L 100.404 11.736 
" clip-path="url(#pcc280da497)" style="fill: none; stroke: #ffffff; stroke-opacity: 0.33; stroke-width: 0.65; stroke-linecap: square"/>
   </g>
   <g id="line2d_18">
    <path d="M 13.032 98.82 
L 187.776 98.82 
" clip-path="url(#pcc280da497)" style="fill: none; stroke: #ffffff; stroke-opacity: 0.33; stroke-width: 0.65; stroke-linecap: square"/>
   </g>
   <g id="line2d_19">
    <path d="M 111.3255 185.904 
L 111.3255 11.736 
" clip-path="url(#pcc280da497)" style="fill: none; stroke: #ffffff; stroke-opacity: 0.33; stroke-width: 0.65; stroke-linecap: square"/>
   </g>
   <g id="line2d_20">
    <path d="M 13.032 87.9345 
L 187.776 87.9345 
" clip-path="url(#pcc280da497)" style="fill: none; stroke: #ffffff; stroke-opacity: 0.33; stroke-width: 0.65; stroke-linecap: square"/>
   </g>
   <g id="line2d_21">
    <path d="M 122.247 185.904 
L 122.247 11.736 
" clip-path="url(#pcc280da497)" style="fill: none; stroke: #ffffff; stroke-opacity: 0.33; stroke-width: 0.65; stroke-linecap: square"/>
   </g>
   <g id="line2d_22">
    <path d="M 13.032 77.049 
L 187.776 77.049 
" clip-path="url(#pcc280da497)" style="fill: none; stroke: #ffffff; stroke-opacity: 0.33; stroke-width: 0.65; stroke-linecap: square"/>
   </g>
   <g id="line2d_23">
    <path d="M 133.1685 185.904 
L 133.1685 11.736 
" clip-path="url(#pcc280da497)" style="fill: none; stroke: #ffffff; stroke-opacity: 0.33; stroke-width: 0.65; stroke-linecap: square"/>
   </g>
   <g id="line2d_24">
    <path d="M 13.032 66.1635 
L 187.776 66.1635 
" clip-path="url(#pcc280da497)" style="fill: none; stroke: #ffffff; stroke-opacity: 0.33; stroke-width: 0.65; stroke-linecap: square"/>
   </g>
   <g id="line2d_25">
    <path d="M 144.09 185.904 
L 144.09 11.736 
" clip-path="url(#pcc280da497)" style="fill: none; stroke: #ffffff; stroke-opacity: 0.33; stroke-width: 0.65; stroke-linecap: square"/>
   </g>
   <g id="line2d_26">
    <path d="M 13.032 55.278 
L 187.776 55.278 
" clip-path="url(#pcc280da497)" style="fill: none; stroke: #ffffff; stroke-opacity: 0.33; stroke-width: 0.65; stroke-linecap: square"/>
   </g>
   <g id="line2d_27">
    <path d="M 155.0115 185.904 
L 155.0115 11.736 
" clip-path="url(#pcc280da497)" style="fill: none; stroke: #ffffff; stroke-opacity: 0.33; stroke-width: 0.65; stroke-linecap: square"/>
   </g>
   <g id="line2d_28">
    <path d="M 13.032 44.3925 
L 187.776 44.3925 
" clip-path="url(#pcc280da497)" style="fill: none; stroke: #ffffff; stroke-opacity: 0.33; stroke-width: 0.65; stroke-linecap: square"/>
   </g>
   <g id="line2d_29">
    <path d="M 165.933 185.904 
L 165.933 11.736 
" clip-path="url(#pcc280da497)" style="fill: none; stroke: #ffffff; stroke-opacity: 0.33; stroke-width: 0.65; stroke-linecap: square"/>
   </g>
   <g id="line2d_30">
    <path d="M 13.032 33.507 
L 187.776 33.507 
" clip-path="url(#pcc280da497)" style="fill: none; stroke: #ffffff; stroke-opacity: 0.33; stroke-width: 0.65; stroke-linecap: square"/>
   </g>
   <g id="line2d_31">
    <path d="M 176.8545 185.904 
L 176.8545 11.736 
" clip-path="url(#pcc280da497)" style="fill: none; stroke: #ffffff; stroke-opacity: 0.33; stroke-width: 0.65; stroke-linecap: square"/>
   </g>
   <g id="line2d_32">
    <path d="M 13.032 22.6215 
L 187.776 22.6215 
" clip-path="url(#pcc280da497)" style="fill: none; stroke: #ffffff; stroke-opacity: 0.33; stroke-width: 0.65; stroke-linecap: square"/>
   </g>
   <g id="line2d_33">
    <path d="M 187.776 185.904 
L 187.776 11.736 
" clip-path="url(#pcc280da497)" style="fill: none; stroke: #ffffff; stroke-opacity: 0.33; stroke-width: 0.65; stroke-linecap: square"/>
   </g>
   <g id="line2d_34">
    <path d="M 13.032 11.736 
L 187.776 11.736 
" clip-path="url(#pcc280da497)" style="fill: none; stroke: #ffffff; stroke-opacity: 0.33; stroke-width: 0.65; stroke-linecap: square"/>
   </g>
   <g id="matplotlib.axis_1">
    <g id="xtick_1">
     <g id="line2d_35">
      <defs>
       <path id="mfd2776e535" d="M 0 0 
L 0 1.296 
" style="stroke: #000000; stroke-width: 0.36"/>
      </defs>
      <g>
       <use xlink:href="#mfd2776e535" x="13.032" y="185.904" style="stroke: #000000; stroke-width: 0.36"/>
      </g>
     </g>
     <g id="text_1">
      <text style="font-size: 3.6px; font-family: 'DejaVu Sans'; text-anchor: middle" x="13.032" y="191.231437" transform="rotate(-0 13.032 191.231437)">0</text>
     </g>
    </g>
    <g id="xtick_2">
     <g id="line2d_36">
      <g>
       <use xlink:href="#mfd2776e535" x="23.9535" y="185.904" style="stroke: #000000; stroke-width: 0.36"/>
      </g>
     </g>
     <g id="text_2">
      <text style="font-size: 3.6px; font-family: 'DejaVu Sans'; text-anchor: middle" x="23.9535" y="191.231437" transform="rotate(-0 23.9535 191.231437)">1</text>
     </g>
    </g>
    <g id="xtick_3">
     <g id="line2d_37">
      <g>
       <use xlink:href="#mfd2776e535" x="34.875" y="185.904" style="stroke: #000000; stroke-width: 0.36"/>
      </g>
     </g>
     <g id="text_3">
      <text style="font-size: 3.6px; font-family: 'DejaVu Sans'; text-anchor: middle" x="34.875" y="191.231437" transform="rotate(-0 34.875 191.231437)">2</text>
     </g>
    </g>
    <g id="xtick_4">
     <g id="line2d_38">
      <g>
       <use xlink:href="#mfd2776e535" x="45.7965" y="185.904" style="stroke: #000000; stroke-width: 0.36"/>
      </g>
     </g>
     <g id="text_4">
      <text style="font-size: 3.6px; font-family: 'DejaVu Sans'; text-anchor: middle" x="45.7965" y="191.231437" transform="rotate(-0 45.7965 191.231437)">3</text>
     </g>
    </g>
    <g id="xtick_5">
     <g id="line2d_39">
      <g>
       <use xlink:href="#mfd2776e535" x="56.718" y="185.904" style="stroke: #000000; stroke-width: 0.36"/>
      </g>
     </g>
     <g id="text_5">
      <text style="font-size: 3.6px; font-family: 'DejaVu Sans'; text-anchor: middle" x="56.718" y="191.231437" transform="rotate(-0 56.718 191.231437)">4</text>
     </g>
    </g>
    <g id="xtick_6">
     <g id="line2d_40">
      <g>
       <use xlink:href="#mfd2776e535" x="67.6395" y="185.904" style="stroke: #000000; stroke-width: 0.36"/>
      </g>
     </g>
     <g id="text_6">
      <text style="font-size: 3.6px; font-family: 'DejaVu Sans'; text-anchor: middle" x="67.6395" y="191.231437" transform="rotate(-0 67.6395 191.231437)">5</text>
     </g>
    </g>
    <g id="xtick_7">
     <g id="line2d_41">
      <g>
       <use xlink:href="#mfd2776e535" x="78.561" y="185.904" style="stroke: #000000; stroke-width: 0.36"/>
      </g>
     </g>
     <g id="text_7">
      <text style="font-size: 3.6px; font-family: 'DejaVu Sans'; text-anchor: middle" x="78.561" y="191.231437" transform="rotate(-0 78.561 191.231437)">6</text>
     </g>
    </g>
    <g id="xtick_8">
     <g id="line2d_42">
      <g>
       <use xlink:href="#mfd2776e535" x="89.4825" y="185.904" style="stroke: #000000; stroke-width: 0.36"/>
      </g>
     </g>
     <g id="text_8">
      <text style="font-size: 3.6px; font-family: 'DejaVu Sans'; text-anchor: middle" x="89.4825" y="191.231437" transform="rotate(-0 89.4825 191.231437)">7</text>
     </g>
    </g>
    <g id="xtick_9">
     <g id="line2d_43">
      <g>
       <use xlink:href="#mfd2776e535" x="100.404" y="185.904" style="stroke: #000000; stroke-width: 0.36"/>
      </g>
     </g>
     <g id="text_9">
      <text style="font-size: 3.6px; font-family: 'DejaVu Sans'; text-anchor: middle" x="100.404" y="191.231437" transform="rotate(-0 100.404 191.231437)">8</text>
     </g>
    </g>
    <g id="xtick_10">
     <g id="line2d_44">
      <g>
       <use xlink:href="#mfd2776e535" x="111.3255" y="185.904" style="stroke: #000000; stroke-width: 0.36"/>
      </g>
     </g>
     <g id="text_10">
      <text style="font-size: 3.6px; font-family: 'DejaVu Sans'; text-anchor: middle" x="111.3255" y="191.231437" transform="rotate(-0 111.3255 191.231437)">9</text>
     </g>
    </g>
    <g id="xtick_11">
     <g id="line2d_45">
      <g>
       <use xlink:href="#mfd2776e535" x="122.247" y="185.904" style="stroke: #000000; stroke-width: 0.36"/>
      </g>
     </g>
     <g id="text_11">
      <text style="font-size: 3.6px; font-family: 'DejaVu Sans'; text-anchor: middle" x="122.247" y="191.231437" transform="rotate(-0 122.247 191.231437)">10</text>
     </g>
    </g>
    <g id="xtick_12">
     <g id="line2d_46">
      <g>
       <use xlink:href="#mfd2776e535" x="133.1685" y="185.904" style="stroke: #000000; stroke-width: 0.36"/>
      </g>
     </g>
     <g id="text_12">
      <text style="font-size: 3.6px; font-family: 'DejaVu Sans'; text-anchor: middle" x="133.1685" y="191.231437" transform="rotate(-0 133.1685 191.231437)">11</text>
     </g>
    </g>
    <g id="xtick_13">
     <g id="line2d_47">
      <g>
       <use xlink:href="#mfd2776e535" x="144.09" y="185.904" style="stroke: #000000; stroke-width: 0.36"/>
      </g>
     </g>
     <g id="text_13">
      <text style="font-size: 3.6px; font-family: 'DejaVu Sans'; text-anchor: middle" x="144.09" y="191.231437" transform="rotate(-0 144.09 191.231437)">12</text>
     </g>
    </g>
    <g id="xtick_14">
     <g id="line2d_48">
      <g>
       <use xlink:href="#mfd2776e535" x="155.0115" y="185.904" style="stroke: #000000; stroke-width: 0.36"/>
      </g>
     </g>
     <g id="text_14">
      <text style="font-size: 3.6px; font-family: 'DejaVu Sans'; text-anchor: middle" x="155.0115" y="191.231437" transform="rotate(-0 155.0115 191.231437)">13</text>
     </g>
    </g>
    <g id="xtick_15">
     <g id="line2d_49">
      <g>
       <use xlink:href="#mfd2776e535" x="165.933" y="185.904" style="stroke: #000000; stroke-width: 0.36"/>
      </g>
     </g>
     <g id="text_15">
      <text style="font-size: 3.6px; font-family: 'DejaVu Sans'; text-anchor: middle" x="165.933" y="191.231437" transform="rotate(-0 165.933 191.231437)">14</text>
     </g>
    </g>
    <g id="xtick_16">
     <g id="line2d_50">
      <g>
       <use xlink:href="#mfd2776e535" x="176.8545" y="185.904" style="stroke: #000000; stroke-width: 0.36"/>
      </g>
     </g>
     <g id="text_16">
      <text style="font-size: 3.6px; font-family: 'DejaVu Sans'; text-anchor: middle" x="176.8545" y="191.231437" transform="rotate(-0 176.8545 191.231437)">15</text>
     </g>
    </g>
    <g id="text_17">
     <text style="font-size: 3.6px; font-family: 'DejaVu Sans'; text-anchor: middle" x="100.404" y="196.443562" transform="rotate(-0 100.404 196.443562)">X Pixel Index</text>
    </g>
   </g>
   <g id="matplotlib.axis_2">
    <g id="ytick_1">
     <g id="line2d_51">
      <defs>
       <path id="m60c2449d18" d="M 0 0 
L -1.296 0 
" style="stroke: #000000; stroke-width: 0.36"/>
      </defs>
      <g>
       <use xlink:href="#m60c2449d18" x="13.032" y="185.904" style="stroke: #000000; stroke-width: 0.36"/>
      </g>
     </g>
     <g id="text_18">
      <text style="font-size: 3.6px; font-family: 'DejaVu Sans'; text-anchor: end" x="10.44" y="187.271719" transform="rotate(-0 10.44 187.271719)">0</text>
     </g>
    </g>
    <g id="ytick_2">
     <g id="line2d_52">
      <g>
       <use xlink:href="#m60c2449d18" x="13.032" y="175.0185" style="stroke: #000000; stroke-width: 0.36"/>
      </g>
     </g>
     <g id="text_19">
      <text style="font-size: 3.6px; font-family: 'DejaVu Sans'; text-anchor: end" x="10.44" y="176.386219" transform="rotate(-0 10.44 176.386219)">1</text>
     </g>
    </g>
    <g id="ytick_3">
     <g id="line2d_53">
      <g>
       <use xlink:href="#m60c2449d18" x="13.032" y="164.133" style="stroke: #000000; stroke-width: 0.36"/>
      </g>
     </g>
     <g id="text_20">
      <text style="font-size: 3.6px; font-family: 'DejaVu Sans'; text-anchor: end" x="10.44" y="165.500719" transform="rotate(-0 10.44 165.500719)">2</text>
     </g>
    </g>
    <g id="ytick_4">
     <g id="line2d_54">
      <g>
       <use xlink:href="#m60c2449d18" x="13.032" y="153.2475" style="stroke: #000000; stroke-width: 0.36"/>
      </g>
     </g>
     <g id="text_21">
      <text style="font-size: 3.6px; font-family: 'DejaVu Sans'; text-anchor: end" x="10.44" y="154.615219" transform="rotate(-0 10.44 154.615219)">3</text>
     </g>
    </g>
    <g id="ytick_5">
     <g id="line2d_55">
      <g>
       <use xlink:href="#m60c2449d18" x="13.032" y="142.362" style="stroke: #000000; stroke-width: 0.36"/>
      </g>
     </g>
     <g id="text_22">
      <text style="font-size: 3.6px; font-family: 'DejaVu Sans'; text-anchor: end" x="10.44" y="143.729719" transform="rotate(-0 10.44 143.729719)">4</text>
     </g>
    </g>
    <g id="ytick_6">
     <g id="line2d_56">
      <g>
       <use xlink:href="#m60c2449d18" x="13.032" y="131.4765" style="stroke: #000000; stroke-width: 0.36"/>
      </g>
     </g>
     <g id="text_23">
      <text style="font-size: 3.6px; font-family: 'DejaVu Sans'; text-anchor: end" x="10.44" y="132.844219" transform="rotate(-0 10.44 132.844219)">5</text>
     </g>
    </g>
    <g id="ytick_7">
     <g id="line2d_57">
      <g>
       <use xlink:href="#m60c2449d18" x="13.032" y="120.591" style="stroke: #000000; stroke-width: 0.36"/>
      </g>
     </g>
     <g id="text_24">
      <text style="font-size: 3.6px; font-family: 'DejaVu Sans'; text-anchor: end" x="10.44" y="121.958719" transform="rotate(-0 10.44 121.958719)">6</text>
     </g>
    </g>
    <g id="ytick_8">
     <g id="line2d_58">
      <g>
       <use xlink:href="#m60c2449d18" x="13.032" y="109.7055" style="stroke: #000000; stroke-width: 0.36"/>
      </g>
     </g>
     <g id="text_25">
      <text style="font-size: 3.6px; font-family: 'DejaVu Sans'; text-anchor: end" x="10.44" y="111.073219" transform="rotate(-0 10.44 111.073219)">7</text>
     </g>
    </g>
    <g id="ytick_9">
     <g id="line2d_59">
      <g>
       <use xlink:href="#m60c2449d18" x="13.032" y="98.82" style="stroke: #000000; stroke-width: 0.36"/>
      </g>
     </g>
     <g id="text_26">
      <text style="font-size: 3.6px; font-family: 'DejaVu Sans'; text-anchor: end" x="10.44" y="100.187719" transform="rotate(-0 10.44 100.187719)">8</text>
     </g>
    </g>
    <g id="ytick_10">
     <g id="line2d_60">
      <g>
       <use xlink:href="#m60c2449d18" x="13.032" y="87.9345" style="stroke: #000000; stroke-width: 0.36"/>
      </g>
     </g>
     <g id="text_27">
      <text style="font-size: 3.6px; font-family: 'DejaVu Sans'; text-anchor: end" x="10.44" y="89.302219" transform="rotate(-0 10.44 89.302219)">9</text>
     </g>
    </g>
    <g id="ytick_11">
     <g id="line2d_61">
      <g>
       <use xlink:href="#m60c2449d18" x="13.032" y="77.049" style="stroke: #000000; stroke-width: 0.36"/>
      </g>
     </g>
     <g id="text_28">
      <text style="font-size: 3.6px; font-family: 'DejaVu Sans'; text-anchor: end" x="10.44" y="78.416719" transform="rotate(-0 10.44 78.416719)">10</text>
     </g>
    </g>
    <g id="ytick_12">
     <g id="line2d_62">
      <g>
       <use xlink:href="#m60c2449d18" x="13.032" y="66.1635" style="stroke: #000000; stroke-width: 0.36"/>
      </g>
     </g>
     <g id="text_29">
      <text style="font-size: 3.6px; font-family: 'DejaVu Sans'; text-anchor: end" x="10.44" y="67.531219" transform="rotate(-0 10.44 67.531219)">11</text>
     </g>
    </g>
    <g id="ytick_13">
     <g id="line2d_63">
      <g>
       <use xlink:href="#m60c2449d18" x="13.032" y="55.278" style="stroke: #000000; stroke-width: 0.36"/>
      </g>
     </g>
     <g id="text_30">
      <text style="font-size: 3.6px; font-family: 'DejaVu Sans'; text-anchor: end" x="10.44" y="56.645719" transform="rotate(-0 10.44 56.645719)">12</text>
     </g>
    </g>
    <g id="ytick_14">
     <g id="line2d_64">
      <g>
       <use xlink:href="#m60c2449d18" x="13.032" y="44.3925" style="stroke: #000000; stroke-width: 0.36"/>
      </g>
     </g>
     <g id="text_31">
      <text style="font-size: 3.6px; font-family: 'DejaVu Sans'; text-anchor: end" x="10.44" y="45.760219" transform="rotate(-0 10.44 45.760219)">13</text>
     </g>
    </g>
    <g id="ytick_15">
     <g id="line2d_65">
      <g>
       <use xlink:href="#m60c2449d18" x="13.032" y="33.507" style="stroke: #000000; stroke-width: 0.36"/>
      </g>
     </g>
     <g id="text_32">
      <text style="font-size: 3.6px; font-family: 'DejaVu Sans'; text-anchor: end" x="10.44" y="34.874719" transform="rotate(-0 10.44 34.874719)">14</text>
     </g>
    </g>
    <g id="ytick_16">
     <g id="line2d_66">
      <g>
       <use xlink:href="#m60c2449d18" x="13.032" y="22.6215" style="stroke: #000000; stroke-width: 0.36"/>
      </g>
     </g>
     <g id="text_33">
      <text style="font-size: 3.6px; font-family: 'DejaVu Sans'; text-anchor: end" x="10.44" y="23.989219" transform="rotate(-0 10.44 23.989219)">15</text>
     </g>
    </g>
    <g id="text_34">
     <text style="font-size: 3.6px; font-family: 'DejaVu Sans'; text-anchor: middle" x="3.526313" y="98.82" transform="rotate(-90 3.526313 98.82)">Y Pixel Index</text>
    </g>
   </g>
   <g id="patch_3">
    <path d="M 13.032 185.904 
L 13.032 11.736 
" style="fill: none; stroke: #000000; stroke-width: 0.36; stroke-linejoin: miter; stroke-linecap: square"/>
   </g>
   <g id="patch_4">
    <path d="M 187.776 185.904 
L 187.776 11.736 
" style="fill: none; stroke: #000000; stroke-width: 0.36; stroke-linejoin: miter; stroke-linecap: square"/>
   </g>
   <g id="patch_5">
    <path d="M 13.032 185.904 
L 187.776 185.904 
" style="fill: none; stroke: #000000; stroke-width: 0.36; stroke-linejoin: miter; stroke-linecap: square"/>
   </g>
   <g id="patch_6">
    <path d="M 13.032 11.736 
L 187.776 11.736 
" style="fill: none; stroke: #000000; stroke-width: 0.36; stroke-linejoin: miter; stroke-linecap: square"/>
   </g>
   <g id="dots2d" clip-path="url(#cl2)"><circle cx="18.49275" cy="180.46125" r="1.260" fill="#2393dc"/><circle cx="29.41425" cy="180.46125" r="1.260" fill="#2393dc"/><circle cx="40.33575" cy="180.46125" r="1.260" fill="#2393dc"/><circle cx="51.25725" cy="180.46125" r="1.260" fill="#2393dc"/><circle cx="62.17875" cy="180.46125" r="1.260" fill="#2393dc"/><circle cx="73.10025" cy="180.46125" r="1.260" fill="#2393dc"/><circle cx="84.02175" cy="180.46125" r="1.260" fill="#2393dc"/><circle cx="94.94325" cy="180.46125" r="1.260" fill="#2393dc"/><circle cx="105.86475" cy="180.46125" r="1.260" fill="#2393dc"/><circle cx="116.78625" cy="180.46125" r="1.260" fill="#2393dc"/><circle cx="127.70775" cy="180.46125" r="1.260" fill="#2393dc"/><circle cx="138.62925" cy="180.46125" r="1.260" fill="#2393dc"/><circle cx="149.55075" cy="180.46125" r="1.260" fill="#2393dc"/><circle cx="160.47225" cy="180.46125" r="1.260" fill="#2393dc"/><circle cx="171.39375" cy="180.46125" r="1.260" fill="#2393dc"/><circle cx="182.31525" cy="180.46125" r="1.260" fill="#2393dc"/><circle cx="18.49275" cy="169.57575" r="1.260" fill="#2393dc"/><circle cx="29.41425" cy="169.57575" r="1.260" fill="#2393dc"/><circle cx="40.33575" cy="169.57575" r="1.260" fill="#2393dc"/><circle cx="51.25725" cy="169.57575" r="1.260" fill="#2393dc"/><circle cx="62.17875" cy="169.57575" r="1.260" fill="#2393dc"/><circle cx="73.10025" cy="169.57575" r="1.260" fill="#2393dc"/><circle cx="84.02175" cy="169.57575" r="1.260" fill="#2393dc"/><circle cx="94.94325" cy="169.57575" r="1.260" fill="#2393dc"/><circle cx="105.86475" cy="169.57575" r="1.260" fill="#2393dc"/><circle cx="116.78625" cy="169.57575" r="1.260" fill="#2393dc"/><circle cx="127.70775" cy="169.57575" r="1.260" fill="#2393dc"/><circle cx="138.62925" cy="169.57575" r="1.260" fill="#2393dc"/><circle cx="149.55075" cy="169.57575" r="1.260" fill="#2393dc"/><circle cx="160.47225" cy="169.57575" r="1.260" fill="#2393dc"/><circle cx="171.39375" cy="169.57575" r="1.260" fill="#2393dc"/><circle cx="182.31525" cy="169.57575" r="1.260" fill="#2393dc"/><circle cx="18.49275" cy="158.69025" r="1.260" fill="#2393dc"/><circle cx="29.41425" cy="158.69025" r="1.260" fill="#2393dc"/><circle cx="40.33575" cy="158.69025" r="1.260" fill="#2393dc"/><circle cx="51.25725" cy="158.69025" r="1.260" fill="#2393dc"/><circle cx="62.17875" cy="158.69025" r="1.260" fill="#2393dc"/><circle cx="73.10025" cy="158.69025" r="1.260" fill="#2393dc"/><circle cx="84.02175" cy="158.69025" r="1.260" fill="#2393dc"/><circle cx="94.94325" cy="158.69025" r="1.260" fill="#2393dc"/><circle cx="105.86475" cy="158.69025" r="1.260" fill="#2393dc"/><circle cx="116.78625" cy="158.69025" r="1.260" fill="#2393dc"/><circle cx="127.70775" cy="158.69025" r="1.260" fill="#2393dc"/><circle cx="138.62925" cy="158.69025" r="1.260" fill="#2393dc"/><circle cx="149.55075" cy="158.69025" r="1.260" fill="#2393dc"/><circle cx="160.47225" cy="158.69025" r="1.260" fill="#2393dc"/><circle cx="171.39375" cy="158.69025" r="1.260" fill="#2393dc"/><circle cx="182.31525" cy="158.69025" r="1.260" fill="#2393dc"/><circle cx="18.49275" cy="147.80475" r="1.260" fill="#2393dc"/><circle cx="29.41425" cy="147.80475" r="1.260" fill="#2393dc"/><circle cx="40.33575" cy="147.80475" r="1.260" fill="#2393dc"/><circle cx="51.25725" cy="147.80475" r="1.260" fill="#2393dc"/><circle cx="62.17875" cy="147.80475" r="1.260" fill="#2393dc"/><circle cx="73.10025" cy="147.80475" r="1.260" fill="#2393dc"/><circle cx="84.02175" cy="147.80475" r="1.260" fill="#2393dc"/><circle cx="94.94325" cy="147.80475" r="1.260" fill="#2393dc"/><circle cx="105.86475" cy="147.80475" r="1.260" fill="#2393dc"/><circle cx="116.78625" cy="147.80475" r="1.260" fill="#2393dc"/><circle cx="127.70775" cy="147.80475" r="1.260" fill="#2393dc"/><circle cx="138.62925" cy="147.80475" r="1.260" fill="#2393dc"/><circle cx="149.55075" cy="147.80475" r="1.260" fill="#2393dc"/><circle cx="160.47225" cy="147.80475" r="1.260" fill="#2393dc"/><circle cx="171.39375" cy="147.80475" r="1.260" fill="#2393dc"/><circle cx="182.31525" cy="147.80475" r="1.260" fill="#2393dc"/><circle cx="18.49275" cy="136.91925" r="1.260" fill="#2393dc"/><circle cx="29.41425" cy="136.91925" r="1.260" fill="#2393dc"/><circle cx="40.33575" cy="136.91925" r="1.260" fill="#2393dc"/><circle cx="51.25725" cy="136.91925" r="1.260" fill="#2393dc"/><circle cx="62.17875" cy="136.91925" r="1.260" fill="#2393dc"/><circle cx="73.10025" cy="136.91925" r="1.260" fill="#2393dc"/><circle cx="84.02175" cy="136.91925" r="1.260" fill="#2393dc"/><circle cx="94.94325" cy="136.91925" r="1.260" fill="#2393dc"/><circle cx="105.86475" cy="136.91925" r="1.260" fill="#2393dc"/><circle cx="116.78625" cy="136.91925" r="1.260" fill="#2393dc"/><circle cx="127.70775" cy="136.91925" r="1.260" fill="#2393dc"/><circle cx="138.62925" cy="136.91925" r="1.260" fill="#2393dc"/><circle cx="149.55075" cy="136.91925" r="1.260" fill="#2393dc"/><circle cx="160.47225" cy="136.91925" r="1.260" fill="#2393dc"/><circle cx="171.39375" cy="136.91925" r="1.260" fill="#2393dc"/><circle cx="182.31525" cy="136.91925" r="1.260" fill="#2393dc"/><circle cx="18.49275" cy="126.03375" r="1.260" fill="#2393dc"/><circle cx="29.41425" cy="126.03375" r="1.260" fill="#2393dc"/><circle cx="40.33575" cy="126.03375" r="1.260" fill="#2393dc"/><circle cx="51.25725" cy="126.03375" r="1.260" fill="#2393dc"/><circle cx="62.17875" cy="126.03375" r="1.260" fill="#2393dc"/><circle cx="73.10025" cy="126.03375" r="1.260" fill="#2393dc"/><circle cx="84.02175" cy="126.03375" r="1.260" fill="#2393dc"/><circle cx="94.94325" cy="126.03375" r="1.260" fill="#2393dc"/><circle cx="105.86475" cy="126.03375" r="1.260" fill="#2393dc"/><circle cx="116.78625" cy="126.03375" r="1.260" fill="#2393dc"/><circle cx="127.70775" cy="126.03375" r="1.260" fill="#2393dc"/><circle cx="138.62925" cy="126.03375" r="1.260" fill="#2393dc"/><circle cx="149.55075" cy="126.03375" r="1.260" fill="#2393dc"/><circle cx="160.47225" cy="126.03375" r="1.260" fill="#2393dc"/><circle cx="171.39375" cy="126.03375" r="1.260" fill="#2393dc"/><circle cx="182.31525" cy="126.03375" r="1.260" fill="#2393dc"/><circle cx="18.49275" cy="115.14825" r="1.260" fill="#2393dc"/><circle cx="29.41425" cy="115.14825" r="1.260" fill="#2393dc"/><circle cx="40.33575" cy="115.14825" r="1.260" fill="#2393dc"/><circle cx="51.25725" cy="115.14825" r="1.260" fill="#2393dc"/><circle cx="62.17875" cy="115.14825" r="1.260" fill="#2393dc"/><circle cx="73.10025" cy="115.14825" r="1.260" fill="#2393dc"/><circle cx="84.02175" cy="115.14825" r="1.260" fill="#2393dc"/><circle cx="94.94325" cy="115.14825" r="1.260" fill="#2393dc"/><circle cx="105.86475" cy="115.14825" r="1.260" fill="#2393dc"/><circle cx="116.78625" cy="115.14825" r="1.260" fill="#2393dc"/><circle cx="127.70775" cy="115.14825" r="1.260" fill="#2393dc"/><circle cx="138.62925" cy="115.14825" r="1.260" fill="#2393dc"/><circle cx="149.55075" cy="115.14825" r="1.260" fill="#2393dc"/><circle cx="160.47225" cy="115.14825" r="1.260" fill="#2393dc"/><circle cx="171.39375" cy="115.14825" r="1.260" fill="#2393dc"/><circle cx="182.31525" cy="115.14825" r="1.260" fill="#2393dc"/><circle cx="18.49275" cy="104.26275" r="1.260" fill="#2393dc"/><circle cx="29.41425" cy="104.26275" r="1.260" fill="#2393dc"/><circle cx="40.33575" cy="104.26275" r="1.260" fill="#2393dc"/><circle cx="51.25725" cy="104.26275" r="1.260" fill="#2393dc"/><circle cx="62.17875" cy="104.26275" r="1.260" fill="#2393dc"/><circle cx="73.10025" cy="104.26275" r="1.260" fill="#2393dc"/><circle cx="84.02175" cy="104.26275" r="1.260" fill="#2393dc"/><circle cx="94.94325" cy="104.26275" r="1.260" fill="#2393dc"/><circle cx="105.86475" cy="104.26275" r="1.260" fill="#2393dc"/><circle cx="116.78625" cy="104.26275" r="1.260" fill="#2393dc"/><circle cx="127.70775" cy="104.26275" r="1.260" fill="#2393dc"/><circle cx="138.62925" cy="104.26275" r="1.260" fill="#2393dc"/><circle cx="149.55075" cy="104.26275" r="1.260" fill="#2393dc"/><circle cx="160.47225" cy="104.26275" r="1.260" fill="#2393dc"/><circle cx="171.39375" cy="104.26275" r="1.260" fill="#2393dc"/><circle cx="182.31525" cy="104.26275" r="1.260" fill="#2393dc"/><circle cx="18.49275" cy="93.37725" r="1.260" fill="#2393dc"/><circle cx="29.41425" cy="93.37725" r="1.260" fill="#2393dc"/><circle cx="40.33575" cy="93.37725" r="1.260" fill="#2393dc"/><circle cx="51.25725" cy="93.37725" r="1.260" fill="#2393dc"/><circle cx="62.17875" cy="93.37725" r="1.260" fill="#2393dc"/><circle cx="73.10025" cy="93.37725" r="1.260" fill="#2393dc"/><circle cx="84.02175" cy="93.37725" r="1.260" fill="#2393dc"/><circle cx="94.94325" cy="93.37725" r="1.260" fill="#2393dc"/><circle cx="105.86475" cy="93.37725" r="1.260" fill="#2393dc"/><circle cx="116.78625" cy="93.37725" r="1.260" fill="#2393dc"/><circle cx="127.70775" cy="93.37725" r="1.260" fill="#2393dc"/><circle cx="138.62925" cy="93.37725" r="1.260" fill="#2393dc"/><circle cx="149.55075" cy="93.37725" r="1.260" fill="#2393dc"/><circle cx="160.47225" cy="93.37725" r="1.260" fill="#2393dc"/><circle cx="171.39375" cy="93.37725" r="1.260" fill="#2393dc"/><circle cx="182.31525" cy="93.37725" r="1.260" fill="#2393dc"/><circle cx="18.49275" cy="82.49175" r="1.260" fill="#2393dc"/><circle cx="29.41425" cy="82.49175" r="1.260" fill="#2393dc"/><circle cx="40.33575" cy="82.49175" r="1.260" fill="#2393dc"/><circle cx="51.25725" cy="82.49175" r="1.260" fill="#2393dc"/><circle cx="62.17875" cy="82.49175" r="1.260" fill="#2393dc"/><circle cx="73.10025" cy="82.49175" r="1.260" fill="#2393dc"/><circle cx="84.02175" cy="82.49175" r="1.260" fill="#2393dc"/><circle cx="94.94325" cy="82.49175" r="1.260" fill="#2393dc"/><circle cx="105.86475" cy="82.49175" r="1.260" fill="#2393dc"/><circle cx="116.78625" cy="82.49175" r="1.260" fill="#2393dc"/><circle cx="127.70775" cy="82.49175" r="1.260" fill="#2393dc"/><circle cx="138.62925" cy="82.49175" r="1.260" fill="#2393dc"/><circle cx="149.55075" cy="82.49175" r="1.260" fill="#2393dc"/><circle cx="160.47225" cy="82.49175" r="1.260" fill="#2393dc"/><circle cx="171.39375" cy="82.49175" r="1.260" fill="#2393dc"/><circle cx="182.31525" cy="82.49175" r="1.260" fill="#2393dc"/><circle cx="18.49275" cy="71.60625" r="1.260" fill="#2393dc"/><circle cx="29.41425" cy="71.60625" r="1.260" fill="#2393dc"/><circle cx="40.33575" cy="71.60625" r="1.260" fill="#2393dc"/><circle cx="51.25725" cy="71.60625" r="1.260" fill="#2393dc"/><circle cx="62.17875" cy="71.60625" r="1.260" fill="#2393dc"/><circle cx="73.10025" cy="71.60625" r="1.260" fill="#2393dc"/><circle cx="84.02175" cy="71.60625" r="1.260" fill="#2393dc"/><circle cx="94.94325" cy="71.60625" r="1.260" fill="#2393dc"/><circle cx="105.86475" cy="71.60625" r="1.260" fill="#2393dc"/><circle cx="116.78625" cy="71.60625" r="1.260" fill="#2393dc"/><circle cx="127.70775" cy="71.60625" r="1.260" fill="#2393dc"/><circle cx="138.62925" cy="71.60625" r="1.260" fill="#2393dc"/><circle cx="149.55075" cy="71.60625" r="1.260" fill="#2393dc"/><circle cx="160.47225" cy="71.60625" r="1.260" fill="#2393dc"/><circle cx="171.39375" cy="71.60625" r="1.260" fill="#2393dc"/><circle cx="182.31525" cy="71.60625" r="1.260" fill="#2393dc"/><circle cx="18.49275" cy="60.72075" r="1.260" fill="#2393dc"/><circle cx="29.41425" cy="60.72075" r="1.260" fill="#2393dc"/><circle cx="40.33575" cy="60.72075" r="1.260" fill="#2393dc"/><circle cx="51.25725" cy="60.72075" r="1.260" fill="#2393dc"/><circle cx="62.17875" cy="60.72075" r="1.260" fill="#2393dc"/><circle cx="73.10025" cy="60.72075" r="1.260" fill="#2393dc"/><circle cx="84.02175" cy="60.72075" r="1.260" fill="#2393dc"/><circle cx="94.94325" cy="60.72075" r="1.260" fill="#2393dc"/><circle cx="105.86475" cy="60.72075" r="1.260" fill="#2393dc"/><circle cx="116.78625" cy="60.72075" r="1.260" fill="#2393dc"/><circle cx="127.70775" cy="60.72075" r="1.260" fill="#2393dc"/><circle cx="138.62925" cy="60.72075" r="1.260" fill="#2393dc"/><circle cx="149.55075" cy="60.72075" r="1.260" fill="#2393dc"/><circle cx="160.47225" cy="60.72075" r="1.260" fill="#2393dc"/><circle cx="171.39375" cy="60.72075" r="1.260" fill="#2393dc"/><circle cx="182.31525" cy="60.72075" r="1.260" fill="#2393dc"/><circle cx="18.49275" cy="49.83525" r="1.260" fill="#2393dc"/><circle cx="29.41425" cy="49.83525" r="1.260" fill="#2393dc"/><circle cx="40.33575" cy="49.83525" r="1.260" fill="#2393dc"/><circle cx="51.25725" cy="49.83525" r="1.260" fill="#2393dc"/><circle cx="62.17875" cy="49.83525" r="1.260" fill="#2393dc"/><circle cx="73.10025" cy="49.83525" r="1.260" fill="#2393dc"/><circle cx="84.02175" cy="49.83525" r="1.260" fill="#2393dc"/><circle cx="94.94325" cy="49.83525" r="1.260" fill="#2393dc"/><circle cx="105.86475" cy="49.83525" r="1.260" fill="#2393dc"/><circle cx="116.78625" cy="49.83525" r="1.260" fill="#2393dc"/><circle cx="127.70775" cy="49.83525" r="1.260" fill="#2393dc"/><circle cx="138.62925" cy="49.83525" r="1.260" fill="#2393dc"/><circle cx="149.55075" cy="49.83525" r="1.260" fill="#2393dc"/><circle cx="160.47225" cy="49.83525" r="1.260" fill="#2393dc"/><circle cx="171.39375" cy="49.83525" r="1.260" fill="#2393dc"/><circle cx="182.31525" cy="49.83525" r="1.260" fill="#2393dc"/><circle cx="18.49275" cy="38.94975" r="1.260" fill="#2393dc"/><circle cx="29.41425" cy="38.94975" r="1.260" fill="#2393dc"/><circle cx="40.33575" cy="38.94975" r="1.260" fill="#2393dc"/><circle cx="51.25725" cy="38.94975" r="1.260" fill="#2393dc"/><circle cx="62.17875" cy="38.94975" r="1.260" fill="#2393dc"/><circle cx="73.10025" cy="38.94975" r="1.260" fill="#2393dc"/><circle cx="84.02175" cy="38.94975" r="1.260" fill="#2393dc"/><circle cx="94.94325" cy="38.94975" r="1.260" fill="#2393dc"/><circle cx="105.86475" cy="38.94975" r="1.260" fill="#2393dc"/><circle cx="116.78625" cy="38.94975" r="1.260" fill="#2393dc"/><circle cx="127.70775" cy="38.94975" r="1.260" fill="#2393dc"/><circle cx="138.62925" cy="38.94975" r="1.260" fill="#2393dc"/><circle cx="149.55075" cy="38.94975" r="1.260" fill="#2393dc"/><circle cx="160.47225" cy="38.94975" r="1.260" fill="#2393dc"/><circle cx="171.39375" cy="38.94975" r="1.260" fill="#2393dc"/><circle cx="182.31525" cy="38.94975" r="1.260" fill="#2393dc"/><circle cx="18.49275" cy="28.06425" r="1.260" fill="#2393dc"/><circle cx="29.41425" cy="28.06425" r="1.260" fill="#2393dc"/><circle cx="40.33575" cy="28.06425" r="1.260" fill="#2393dc"/><circle cx="51.25725" cy="28.06425" r="1.260" fill="#2393dc"/><circle cx="62.17875" cy="28.06425" r="1.260" fill="#2393dc"/><circle cx="73.10025" cy="28.06425" r="1.260" fill="#2393dc"/><circle cx="84.02175" cy="28.06425" r="1.260" fill="#2393dc"/><circle cx="94.94325" cy="28.06425" r="1.260" fill="#2393dc"/><circle cx="105.86475" cy="28.06425" r="1.260" fill="#2393dc"/><circle cx="116.78625" cy="28.06425" r="1.260" fill="#2393dc"/><circle cx="127.70775" cy="28.06425" r="1.260" fill="#2393dc"/><circle cx="138.62925" cy="28.06425" r="1.260" fill="#2393dc"/><circle cx="149.55075" cy="28.06425" r="1.260" fill="#2393dc"/><circle cx="160.47225" cy="28.06425" r="1.260" fill="#2393dc"/><circle cx="171.39375" cy="28.06425" r="1.260" fill="#2393dc"/><circle cx="182.31525" cy="28.06425" r="1.260" fill="#2393dc"/><circle cx="18.49275" cy="17.17875" r="1.260" fill="#2393dc"/><circle cx="29.41425" cy="17.17875" r="1.260" fill="#2393dc"/><circle cx="40.33575" cy="17.17875" r="1.260" fill="#2393dc"/><circle cx="51.25725" cy="17.17875" r="1.260" fill="#2393dc"/><circle cx="62.17875" cy="17.17875" r="1.260" fill="#2393dc"/><circle cx="73.10025" cy="17.17875" r="1.260" fill="#2393dc"/><circle cx="84.02175" cy="17.17875" r="1.260" fill="#2393dc"/><circle cx="94.94325" cy="17.17875" r="1.260" fill="#2393dc"/><circle cx="105.86475" cy="17.17875" r="1.260" fill="#2393dc"/><circle cx="116.78625" cy="17.17875" r="1.260" fill="#2393dc"/><circle cx="127.70775" cy="17.17875" r="1.260" fill="#2393dc"/><circle cx="138.62925" cy="17.17875" r="1.260" fill="#2393dc"/><circle cx="149.55075" cy="17.17875" r="1.260" fill="#2393dc"/><circle cx="160.47225" cy="17.17875" r="1.260" fill="#2393dc"/><circle cx="171.39375" cy="17.17875" r="1.260" fill="#2393dc"/><circle cx="182.31525" cy="17.17875" r="1.260" fill="#2393dc"/></g>
  </g>
  <g id="patch_7">
   <path d="M 222.48 185.904 
L 396.72 185.904 
L 396.72 11.664 
L 222.48 11.664 
z
" style="fill: #ffffff"/>
  </g>
  <g id="pane3d_1">
   <g id="patch_8">
    <path d="M 389.506842 132.047549 
L 311.954595 93.481631 
L 311.954595 24.036203 
L 393.04804 59.184862 
" style="fill: #f2f2f2; opacity: 0.5; stroke: #f2f2f2; stroke-linejoin: miter"/>
   </g>
  </g>
  <g id="pane3d_2">
   <g id="patch_9">
    <path d="M 234.402347 132.047549 
L 311.954595 93.481631 
L 311.954595 24.036203 
L 230.861149 59.184862 
" style="fill: #e6e6e6; opacity: 0.5; stroke: #e6e6e6; stroke-linejoin: miter"/>
   </g>
  </g>
  <g id="pane3d_3">
   <g id="patch_10">
    <path d="M 311.954595 176.536058 
L 389.506842 132.047549 
L 311.954595 93.481631 
L 234.402347 132.047549 
" style="fill: #ececec; opacity: 0.5; stroke: #ececec; stroke-linejoin: miter"/>
   </g>
  </g>
  <g id="grid3d_1">
   <g id="Line3DCollection_1">
    <path d="M 318.025359 173.053512 
L 240.444647 129.042777 
L 237.197056 56.438665 
" style="fill: none; stroke: #b0b0b0; stroke-width: 0.36"/>
    <path d="M 326.767082 168.038748 
L 249.15384 124.711787 
L 246.324169 52.482663 
" style="fill: none; stroke: #b0b0b0; stroke-width: 0.36"/>
    <path d="M 335.368616 163.104405 
L 257.733125 120.445398 
L 255.309054 48.588308 
" style="fill: none; stroke: #b0b0b0; stroke-width: 0.36"/>
    <path d="M 343.833306 158.248563 
L 266.185389 116.242176 
L 264.155012 44.754169 
" style="fill: none; stroke: #b0b0b0; stroke-width: 0.36"/>
    <path d="M 352.164393 153.469364 
L 274.513431 112.100728 
L 272.865238 40.978861 
" style="fill: none; stroke: #b0b0b0; stroke-width: 0.36"/>
    <path d="M 360.365015 148.765007 
L 282.71997 108.019703 
L 281.442834 37.261039 
" style="fill: none; stroke: #b0b0b0; stroke-width: 0.36"/>
    <path d="M 368.438213 144.133748 
L 290.807645 103.997787 
L 289.890806 33.5994 
" style="fill: none; stroke: #b0b0b0; stroke-width: 0.36"/>
    <path d="M 376.386933 139.573897 
L 298.779022 100.033705 
L 298.21207 29.992681 
" style="fill: none; stroke: #b0b0b0; stroke-width: 0.36"/>
    <path d="M 384.214033 135.083814 
L 306.636589 96.126219 
L 306.409456 26.439655 
" style="fill: none; stroke: #b0b0b0; stroke-width: 0.36"/>
   </g>
  </g>
  <g id="grid3d_2">
   <g id="Line3DCollection_2">
    <path d="M 386.712133 56.438665 
L 383.464542 129.042777 
L 305.88383 173.053512 
" style="fill: none; stroke: #b0b0b0; stroke-width: 0.36"/>
    <path d="M 377.585021 52.482663 
L 374.75535 124.711787 
L 297.142107 168.038748 
" style="fill: none; stroke: #b0b0b0; stroke-width: 0.36"/>
    <path d="M 368.600135 48.588308 
L 366.176064 120.445398 
L 288.540573 163.104405 
" style="fill: none; stroke: #b0b0b0; stroke-width: 0.36"/>
    <path d="M 359.754178 44.754169 
L 357.7238 116.242176 
L 280.075883 158.248563 
" style="fill: none; stroke: #b0b0b0; stroke-width: 0.36"/>
    <path d="M 351.043951 40.978861 
L 349.395758 112.100728 
L 271.744796 153.469364 
" style="fill: none; stroke: #b0b0b0; stroke-width: 0.36"/>
    <path d="M 342.466355 37.261039 
L 341.189219 108.019703 
L 263.544174 148.765007 
" style="fill: none; stroke: #b0b0b0; stroke-width: 0.36"/>
    <path d="M 334.018383 33.5994 
L 333.101544 103.997787 
L 255.470976 144.133748 
" style="fill: none; stroke: #b0b0b0; stroke-width: 0.36"/>
    <path d="M 325.697119 29.992681 
L 325.130168 100.033705 
L 247.522256 139.573897 
" style="fill: none; stroke: #b0b0b0; stroke-width: 0.36"/>
    <path d="M 317.499734 26.439655 
L 317.2726 96.126219 
L 239.695156 135.083814 
" style="fill: none; stroke: #b0b0b0; stroke-width: 0.36"/>
   </g>
  </g>
  <g id="grid3d_3">
   <g id="Line3DCollection_3">
    <path d="M 234.153978 126.937166 
L 311.954595 88.597162 
L 389.755212 126.937166 
" style="fill: none; stroke: #b0b0b0; stroke-width: 0.36"/>
    <path d="M 233.788524 119.417704 
L 311.954595 81.413896 
L 390.120665 119.417704 
" style="fill: none; stroke: #b0b0b0; stroke-width: 0.36"/>
    <path d="M 233.419622 111.827266 
L 311.954595 74.167395 
L 390.489568 111.827266 
" style="fill: none; stroke: #b0b0b0; stroke-width: 0.36"/>
    <path d="M 233.04722 104.164843 
L 311.954595 66.856818 
L 390.861969 104.164843 
" style="fill: none; stroke: #b0b0b0; stroke-width: 0.36"/>
    <path d="M 232.67127 96.429405 
L 311.954595 59.481314 
L 391.237919 96.429405 
" style="fill: none; stroke: #b0b0b0; stroke-width: 0.36"/>
    <path d="M 232.291721 88.619905 
L 311.954595 52.040012 
L 391.617468 88.619905 
" style="fill: none; stroke: #b0b0b0; stroke-width: 0.36"/>
    <path d="M 231.90852 80.735272 
L 311.954595 44.532029 
L 392.000669 80.735272 
" style="fill: none; stroke: #b0b0b0; stroke-width: 0.36"/>
    <path d="M 231.521615 72.774418 
L 311.954595 36.956464 
L 392.387575 72.774418 
" style="fill: none; stroke: #b0b0b0; stroke-width: 0.36"/>
    <path d="M 231.130951 64.736233 
L 311.954595 29.3124 
L 392.778238 64.736233 
" style="fill: none; stroke: #b0b0b0; stroke-width: 0.36"/>
   </g>
  </g>
  <g id="axis3d_1">
   <g id="line2d_67">
    <path d="M 389.506842 132.047549 
L 311.954595 176.536058 
" style="fill: none; stroke: #000000; stroke-width: 0.432; stroke-linecap: square"/>
   </g>
   <g id="xtick_17">
    <g id="line2d_68">
     <path d="M 317.357731 172.674773 
L 318.693804 173.432713 
" style="fill: none; stroke: #000000; stroke-width: 0.324; stroke-linecap: square"/>
    </g>
    <g id="text_35">
     <text style="font-size: 3.6px; font-family: 'DejaVu Sans'; text-anchor: middle" x="322.158069" y="181.751406" transform="rotate(-0 322.158069 181.751406)">0</text>
    </g>
   </g>
   <g id="xtick_18">
    <g id="line2d_69">
     <path d="M 326.099554 167.666106 
L 327.43542 168.411842 
" style="fill: none; stroke: #000000; stroke-width: 0.324; stroke-linecap: square"/>
    </g>
    <g id="text_36">
     <text style="font-size: 3.6px; font-family: 'DejaVu Sans'; text-anchor: middle" x="330.879082" y="176.681066" transform="rotate(-0 330.879082 176.681066)">2</text>
    </g>
   </g>
   <g id="xtick_19">
    <g id="line2d_70">
     <path d="M 334.70127 162.737713 
L 336.036765 163.471538 
" style="fill: none; stroke: #000000; stroke-width: 0.324; stroke-linecap: square"/>
    </g>
    <g id="text_37">
     <text style="font-size: 3.6px; font-family: 'DejaVu Sans'; text-anchor: middle" x="339.460037" y="171.692154" transform="rotate(-0 339.460037 171.692154)">4</text>
    </g>
   </g>
   <g id="xtick_20">
    <g id="line2d_71">
     <path d="M 343.166221 157.887679 
L 344.501188 158.609877 
" style="fill: none; stroke: #000000; stroke-width: 0.324; stroke-linecap: square"/>
    </g>
    <g id="text_38">
     <text style="font-size: 3.6px; font-family: 'DejaVu Sans'; text-anchor: middle" x="347.904279" y="166.782726" transform="rotate(-0 347.904279 166.782726)">6</text>
    </g>
   </g>
   <g id="xtick_21">
    <g id="line2d_72">
     <path d="M 351.497644 153.114152 
L 352.831932 153.824996 
" style="fill: none; stroke: #000000; stroke-width: 0.324; stroke-linecap: square"/>
    </g>
    <g id="text_39">
     <text style="font-size: 3.6px; font-family: 'DejaVu Sans'; text-anchor: middle" x="356.215051" y="161.950897" transform="rotate(-0 356.215051 161.950897)">8</text>
    </g>
   </g>
   <g id="xtick_22">
    <g id="line2d_73">
     <path d="M 359.698673 148.415335 
L 361.03214 149.11509 
" style="fill: none; stroke: #000000; stroke-width: 0.324; stroke-linecap: square"/>
    </g>
    <g id="text_40">
     <text style="font-size: 3.6px; font-family: 'DejaVu Sans'; text-anchor: middle" x="364.395492" y="157.194841" transform="rotate(-0 364.395492 157.194841)">10</text>
    </g>
   </g>
   <g id="xtick_23">
    <g id="line2d_74">
     <path d="M 367.772346 143.789487 
L 369.104856 144.478411 
" style="fill: none; stroke: #000000; stroke-width: 0.324; stroke-linecap: square"/>
    </g>
    <g id="text_41">
     <text style="font-size: 3.6px; font-family: 'DejaVu Sans'; text-anchor: middle" x="372.448645" y="152.51279" transform="rotate(-0 372.448645 152.51279)">12</text>
    </g>
   </g>
   <g id="xtick_24">
    <g id="line2d_75">
     <path d="M 375.721606 139.234922 
L 377.05303 139.913264 
" style="fill: none; stroke: #000000; stroke-width: 0.324; stroke-linecap: square"/>
    </g>
    <g id="text_42">
     <text style="font-size: 3.6px; font-family: 'DejaVu Sans'; text-anchor: middle" x="380.377456" y="147.90303" transform="rotate(-0 380.377456 147.90303)">14</text>
    </g>
   </g>
   <g id="xtick_25">
    <g id="line2d_76">
     <path d="M 383.549306 134.750004 
L 384.879522 135.418008 
" style="fill: none; stroke: #000000; stroke-width: 0.324; stroke-linecap: square"/>
    </g>
    <g id="text_43">
     <text style="font-size: 3.6px; font-family: 'DejaVu Sans'; text-anchor: middle" x="388.184785" y="143.3639" transform="rotate(-0 388.184785 143.3639)">16</text>
    </g>
   </g>
   <g id="text_44">
    <text style="font-size: 3.6px; font-family: 'DejaVu Sans'; text-anchor: middle" x="361.223627" y="166.480887" transform="rotate(-29.841106 361.223627 166.480887)">X Pixel Index</text>
   </g>
  </g>
  <g id="axis3d_2">
   <g id="line2d_77">
    <path d="M 234.402347 132.047549 
L 311.954595 176.536058 
" style="fill: none; stroke: #000000; stroke-width: 0.432; stroke-linecap: square"/>
   </g>
   <g id="xtick_26">
    <g id="line2d_78">
     <path d="M 306.551458 172.674773 
L 305.215385 173.432713 
" style="fill: none; stroke: #000000; stroke-width: 0.324; stroke-linecap: square"/>
    </g>
    <g id="text_45">
     <text style="font-size: 3.6px; font-family: 'DejaVu Sans'; text-anchor: middle" x="301.75112" y="181.751406" transform="rotate(-0 301.75112 181.751406)">0</text>
    </g>
   </g>
   <g id="xtick_27">
    <g id="line2d_79">
     <path d="M 297.809636 167.666106 
L 296.473769 168.411842 
" style="fill: none; stroke: #000000; stroke-width: 0.324; stroke-linecap: square"/>
    </g>
    <g id="text_46">
     <text style="font-size: 3.6px; font-family: 'DejaVu Sans'; text-anchor: middle" x="293.030107" y="176.681066" transform="rotate(-0 293.030107 176.681066)">2</text>
    </g>
   </g>
   <g id="xtick_28">
    <g id="line2d_80">
     <path d="M 289.207919 162.737713 
L 287.872424 163.471538 
" style="fill: none; stroke: #000000; stroke-width: 0.324; stroke-linecap: square"/>
    </g>
    <g id="text_47">
     <text style="font-size: 3.6px; font-family: 'DejaVu Sans'; text-anchor: middle" x="284.449153" y="171.692154" transform="rotate(-0 284.449153 171.692154)">4</text>
    </g>
   </g>
   <g id="xtick_29">
    <g id="line2d_81">
     <path d="M 280.742968 157.887679 
L 279.408002 158.609877 
" style="fill: none; stroke: #000000; stroke-width: 0.324; stroke-linecap: square"/>
    </g>
    <g id="text_48">
     <text style="font-size: 3.6px; font-family: 'DejaVu Sans'; text-anchor: middle" x="276.00491" y="166.782726" transform="rotate(-0 276.00491 166.782726)">6</text>
    </g>
   </g>
   <g id="xtick_30">
    <g id="line2d_82">
     <path d="M 272.411545 153.114152 
L 271.077257 153.824996 
" style="fill: none; stroke: #000000; stroke-width: 0.324; stroke-linecap: square"/>
    </g>
    <g id="text_49">
     <text style="font-size: 3.6px; font-family: 'DejaVu Sans'; text-anchor: middle" x="267.694138" y="161.950897" transform="rotate(-0 267.694138 161.950897)">8</text>
    </g>
   </g>
   <g id="xtick_31">
    <g id="line2d_83">
     <path d="M 264.210516 148.415335 
L 262.877049 149.11509 
" style="fill: none; stroke: #000000; stroke-width: 0.324; stroke-linecap: square"/>
    </g>
    <g id="text_50">
     <text style="font-size: 3.6px; font-family: 'DejaVu Sans'; text-anchor: middle" x="259.513697" y="157.194841" transform="rotate(-0 259.513697 157.194841)">10</text>
    </g>
   </g>
   <g id="xtick_32">
    <g id="line2d_84">
     <path d="M 256.136843 143.789487 
L 254.804333 144.478411 
" style="fill: none; stroke: #000000; stroke-width: 0.324; stroke-linecap: square"/>
    </g>
    <g id="text_51">
     <text style="font-size: 3.6px; font-family: 'DejaVu Sans'; text-anchor: middle" x="251.460544" y="152.51279" transform="rotate(-0 251.460544 152.51279)">12</text>
    </g>
   </g>
   <g id="xtick_33">
    <g id="line2d_85">
     <path d="M 248.187584 139.234922 
L 246.856159 139.913264 
" style="fill: none; stroke: #000000; stroke-width: 0.324; stroke-linecap: square"/>
    </g>
    <g id="text_52">
     <text style="font-size: 3.6px; font-family: 'DejaVu Sans'; text-anchor: middle" x="243.531733" y="147.90303" transform="rotate(-0 243.531733 147.90303)">14</text>
    </g>
   </g>
   <g id="xtick_34">
    <g id="line2d_86">
     <path d="M 240.359883 134.750004 
L 239.029667 135.418008 
" style="fill: none; stroke: #000000; stroke-width: 0.324; stroke-linecap: square"/>
    </g>
    <g id="text_53">
     <text style="font-size: 3.6px; font-family: 'DejaVu Sans'; text-anchor: middle" x="235.724405" y="143.3639" transform="rotate(-0 235.724405 143.3639)">16</text>
    </g>
   </g>
   <g id="text_54">
    <text style="font-size: 3.6px; font-family: 'DejaVu Sans'; text-anchor: middle" x="262.685562" y="166.480887" transform="rotate(-330.158894 262.685562 166.480887)">Y Pixel Index</text>
   </g>
  </g>
  <g id="axis3d_3">
   <g id="line2d_87">
    <path d="M 234.402347 132.047549 
L 230.861149 59.184862 
" style="fill: none; stroke: #000000; stroke-width: 0.432; stroke-linecap: square"/>
   </g>
   <g id="xtick_35">
    <g id="line2d_88">
     <path d="M 234.820527 126.608692 
L 233.486665 127.266017 
" style="fill: none; stroke: #000000; stroke-width: 0.324; stroke-linecap: square"/>
    </g>
    <g id="text_55">
     <text style="font-size: 3.6px; font-family: 'DejaVu Sans'; text-anchor: middle" x="227.295521" y="129.672604" transform="rotate(-0 227.295521 129.672604)">0</text>
    </g>
   </g>
   <g id="xtick_36">
    <g id="line2d_89">
     <path d="M 234.458413 119.092009 
L 233.117865 119.743774 
" style="fill: none; stroke: #000000; stroke-width: 0.324; stroke-linecap: square"/>
    </g>
    <g id="text_56">
     <text style="font-size: 3.6px; font-family: 'DejaVu Sans'; text-anchor: middle" x="226.897852" y="122.153142" transform="rotate(-0 226.897852 122.153142)">2</text>
    </g>
   </g>
   <g id="xtick_37">
    <g id="line2d_90">
     <path d="M 234.092883 111.504418 
L 232.745582 112.150489 
" style="fill: none; stroke: #000000; stroke-width: 0.324; stroke-linecap: square"/>
    </g>
    <g id="text_57">
     <text style="font-size: 3.6px; font-family: 'DejaVu Sans'; text-anchor: middle" x="226.496428" y="114.562704" transform="rotate(-0 226.496428 114.562704)">4</text>
    </g>
   </g>
   <g id="xtick_38">
    <g id="line2d_91">
     <path d="M 233.723888 103.844909 
L 232.369767 104.485149 
" style="fill: none; stroke: #000000; stroke-width: 0.324; stroke-linecap: square"/>
    </g>
    <g id="text_58">
     <text style="font-size: 3.6px; font-family: 'DejaVu Sans'; text-anchor: middle" x="226.091198" y="106.900281" transform="rotate(-0 226.091198 106.900281)">6</text>
    </g>
   </g>
   <g id="xtick_39">
    <g id="line2d_92">
     <path d="M 233.351379 96.112457 
L 231.990368 96.746724 
" style="fill: none; stroke: #000000; stroke-width: 0.324; stroke-linecap: square"/>
    </g>
    <g id="text_59">
     <text style="font-size: 3.6px; font-family: 'DejaVu Sans'; text-anchor: middle" x="225.682107" y="99.164843" transform="rotate(-0 225.682107 99.164843)">8</text>
    </g>
   </g>
   <g id="xtick_40">
    <g id="line2d_93">
     <path d="M 232.975306 88.306014 
L 231.607334 88.934164 
" style="fill: none; stroke: #000000; stroke-width: 0.324; stroke-linecap: square"/>
    </g>
    <g id="text_60">
     <text style="font-size: 3.6px; font-family: 'DejaVu Sans'; text-anchor: middle" x="225.269098" y="91.355342" transform="rotate(-0 225.269098 91.355342)">10</text>
    </g>
   </g>
   <g id="xtick_41">
    <g id="line2d_94">
     <path d="M 232.595617 80.424512 
L 231.220613 81.046399 
" style="fill: none; stroke: #000000; stroke-width: 0.324; stroke-linecap: square"/>
    </g>
    <g id="text_61">
     <text style="font-size: 3.6px; font-family: 'DejaVu Sans'; text-anchor: middle" x="224.852117" y="83.47071" transform="rotate(-0 224.852117 83.47071)">12</text>
    </g>
   </g>
   <g id="xtick_42">
    <g id="line2d_95">
     <path d="M 232.21226 72.466864 
L 230.830152 73.082336 
" style="fill: none; stroke: #000000; stroke-width: 0.324; stroke-linecap: square"/>
    </g>
    <g id="text_62">
     <text style="font-size: 3.6px; font-family: 'DejaVu Sans'; text-anchor: middle" x="224.431104" y="75.509856" transform="rotate(-0 224.431104 75.509856)">14</text>
    </g>
   </g>
   <g id="xtick_43">
    <g id="line2d_96">
     <path d="M 231.82518 64.431962 
L 230.435895 65.040865 
" style="fill: none; stroke: #000000; stroke-width: 0.324; stroke-linecap: square"/>
    </g>
    <g id="text_63">
     <text style="font-size: 3.6px; font-family: 'DejaVu Sans'; text-anchor: middle" x="224.006002" y="67.47167" transform="rotate(-0 224.006002 67.47167)">16</text>
    </g>
   </g>
   <g id="text_64">
    <text style="font-size: 3.6px; font-family: 'DejaVu Sans'; text-anchor: middle" x="216.302907" y="96.477627" transform="rotate(-272.782442 216.302907 96.477627)">Z (arb.)</text>
   </g>
  </g>
  <g id="axes_2">
   
  </g>
  <g id="text_65">
   <text style="font-weight: 700; font-size: 9.216px; font-family: 'Liberation Serif'; text-anchor: middle" x="100.512" y="8.28" transform="rotate(-0 100.512 8.28)">Hyperspectral Image</text>
  </g>
  <g id="text_66">
   <text style="font-weight: 700; font-size: 9.216px; font-family: 'Liberation Serif'; text-anchor: middle" x="311.544" y="10.872" transform="rotate(-0 311.544 10.872)">Hyperspectral Point Cloud</text>
  </g>
 </g>
 <defs>
  <clipPath id="pcc280da497">
   <rect x="13.032" y="11.736" width="174.744" height="174.168"/>
  </clipPath>
  <clipPath id="pcfa219e83a">
   <rect x="222.48" y="11.664" width="174.24" height="174.24"/>
  </clipPath>
 </defs>
</svg>

<div style="position:absolute;left:0;top:0;width:242px;height:242px;transform-origin:0 0;transform:matrix3d(-0.2706103,-0.15608205,0,0.00025121573,-0.48829891,0.15608205,0,-0.00025121573,0,0,1,0,525.09829,186.64812,0,1)"><svg width="242" height="242" viewBox="0 0 242 242"><defs><filter id="p3b1" x="-5%" y="-5%" width="110%" height="110%"><feGaussianBlur stdDeviation="2"/></filter><filter id="p3b2" x="-5%" y="-5%" width="110%" height="110%"><feGaussianBlur stdDeviation="0.7"/></filter><clipPath id="pc3"><rect width="242" height="242"/></clipPath></defs><g clip-path="url(#pc3)"><g filter="url(#p3b1)"><rect x="-7.6" y="-7.6" width="7.9" height="7.9" fill="#1e0e0b"/><rect x="0.0" y="-7.6" width="7.9" height="7.9" fill="#1e0e0b"/><rect x="7.6" y="-7.6" width="7.9" height="7.9" fill="#321b15"/><rect x="15.1" y="-7.6" width="7.9" height="7.9" fill="#321b15"/><rect x="22.7" y="-7.6" width="7.9" height="7.9" fill="#1e0e0b"/><rect x="30.2" y="-7.6" width="7.9" height="7.9" fill="#1e0e0b"/><rect x="37.8" y="-7.6" width="7.9" height="7.9" fill="#1e0e0b"/><rect x="45.4" y="-7.6" width="7.9" height="7.9" fill="#1e0e0b"/><rect x="52.9" y="-7.6" width="7.9" height="7.9" fill="#1e0e0b"/><rect x="60.5" y="-7.6" width="7.9" height="7.9" fill="#1e0e0b"/><rect x="68.1" y="-7.6" width="7.9" height="7.9" fill="#1e0e0b"/><rect x="75.6" y="-7.6" width="7.9" height="7.9" fill="#1e0e0b"/><rect x="83.2" y="-7.6" width="7.9" height="7.9" fill="#1e0e0b"/><rect x="90.8" y="-7.6" width="7.9" height="7.9" fill="#1e0e0b"/><rect x="98.3" y="-7.6" width="7.9" height="7.9" fill="#1e0e0b"/><rect x="105.9" y="-7.6" width="7.9" height="7.9" fill="#1e0e0b"/><rect x="113.4" y="-7.6" width="7.9" height="7.9" fill="#1e0e0b"/><rect x="121.0" y="-7.6" width="7.9" height="7.9" fill="#1e0e0b"/><rect x="128.6" y="-7.6" width="7.9" height="7.9" fill="#321b15"/><rect x="136.1" y="-7.6" width="7.9" height="7.9" fill="#321b15"/><rect x="143.7" y="-7.6" width="7.9" height="7.9" fill="#503428"/><rect x="151.2" y="-7.6" width="7.9" height="7.9" fill="#321b15"/><rect x="158.8" y="-7.6" width="7.9" height="7.9" fill="#321b15"/><rect x="166.4" y="-7.6" width="7.9" height="7.9" fill="#321b15"/><rect x="173.9" y="-7.6" width="7.9" height="7.9" fill="#1e0e0b"/><rect x="181.5" y="-7.6" width="7.9" height="7.9" fill="#503428"/><rect x="189.1" y="-7.6" width="7.9" height="7.9" fill="#7a6250"/><rect x="196.6" y="-7.6" width="7.9" height="7.9" fill="#7a6250"/><rect x="204.2" y="-7.6" width="7.9" height="7.9" fill="#7a6250"/><rect x="211.8" y="-7.6" width="7.9" height="7.9" fill="#503428"/><rect x="219.3" y="-7.6" width="7.9" height="7.9" fill="#1e0e0b"/><rect x="226.9" y="-7.6" width="7.9" height="7.9" fill="#1e0e0b"/><rect x="234.4" y="-7.6" width="7.9" height="7.9" fill="#1e0e0b"/><rect x="242.0" y="-7.6" width="7.9" height="7.9" fill="#1e0e0b"/><rect x="-7.6" y="0.0" width="7.9" height="7.9" fill="#1e0e0b"/><rect x="0.0" y="0.0" width="7.9" height="7.9" fill="#1e0e0b"/><rect x="7.6" y="0.0" width="7.9" height="7.9" fill="#321b15"/><rect x="15.1" y="0.0" width="7.9" height="7.9" fill="#321b15"/><rect x="22.7" y="0.0" width="7.9" height="7.9" fill="#1e0e0b"/><rect x="30.2" y="0.0" width="7.9" height="7.9" fill="#1e0e0b"/><rect x="37.8" y="0.0" width="7.9" height="7.9" fill="#1e0e0b"/><rect x="45.4" y="0.0" width="7.9" height="7.9" fill="#1e0e0b"/><rect x="52.9" y="0.0" width="7.9" height="7.9" fill="#1e0e0b"/><rect x="60.5" y="0.0" width="7.9" height="7.9" fill="#1e0e0b"/><rect x="68.1" y="0.0" width="7.9" height="7.9" fill="#1e0e0b"/><rect x="75.6" y="0.0" width="7.9" height="7.9" fill="#1e0e0b"/><rect x="83.2" y="0.0" width="7.9" height="7.9" fill="#1e0e0b"/><rect x="90.8" y="0.0" width="7.9" height="7.9" fill="#1e0e0b"/><rect x="98.3" y="0.0" width="7.9" height="7.9" fill="#1e0e0b"/><rect x="105.9" y="0.0" width="7.9" height="7.9" fill="#1e0e0b"/><rect x="113.4" y="0.0" width="7.9" height="7.9" fill="#1e0e0b"/><rect x="121.0" y="0.0" width="7.9" height="7.9" fill="#1e0e0b"/><rect x="128.6" y="0.0" width="7.9" height="7.9" fill="#321b15"/><rect x="136.1" y="0.0" width="7.9" height="7.9" fill="#321b15"/><rect x="143.7" y="0.0" width="7.9" height="7.9" fill="#503428"/><rect x="151.2" y="0.0" width="7.9" height="7.9" fill="#321b15"/><rect x="158.8" y="0.0" width="7.9" height="7.9" fill="#321b15"/><rect x="166.4" y="0.0" width="7.9" height="7.9" fill="#321b15"/><rect x="173.9" y="0.0" width="7.9" height="7.9" fill="#1e0e0b"/><rect x="181.5" y="0.0" width="7.9" height="7.9" fill="#503428"/><rect x="189.1" y="0.0" width="7.9" height="7.9" fill="#7a6250"/><rect x="196.6" y="0.0" width="7.9" height="7.9" fill="#7a6250"/><rect x="204.2" y="0.0" width="7.9" height="7.9" fill="#7a6250"/><rect x="211.8" y="0.0" width="7.9" height="7.9" fill="#503428"/><rect x="219.3" y="0.0" width="7.9" height="7.9" fill="#1e0e0b"/><rect x="226.9" y="0.0" width="7.9" height="7.9" fill="#1e0e0b"/><rect x="234.4" y="0.0" width="7.9" height="7.9" fill="#1e0e0b"/><rect x="242.0" y="0.0" width="7.9" height="7.9" fill="#1e0e0b"/><rect x="-7.6" y="7.6" width="7.9" height="7.9" fill="#1e0e0b"/><rect x="0.0" y="7.6" width="7.9" height="7.9" fill="#1e0e0b"/><rect x="7.6" y="7.6" width="7.9" height="7.9" fill="#1e0e0b"/><rect x="15.1" y="7.6" width="7.9" height="7.9" fill="#321b15"/><rect x="22.7" y="7.6" width="7.9" height="7.9" fill="#1e0e0b"/><rect x="30.2" y="7.6" width="7.9" height="7.9" fill="#1e0e0b"/><rect x="37.8" y="7.6" width="7.9" height="7.9" fill="#1e0e0b"/><rect x="45.4" y="7.6" width="7.9" height="7.9" fill="#1e0e0b"/><rect x="52.9" y="7.6" width="7.9" height="7.9" fill="#1e0e0b"/><rect x="60.5" y="7.6" width="7.9" height="7.9" fill="#1e0e0b"/><rect x="68.1" y="7.6" width="7.9" height="7.9" fill="#1e0e0b"/><rect x="75.6" y="7.6" width="7.9" height="7.9" fill="#1e0e0b"/><rect x="83.2" y="7.6" width="7.9" height="7.9" fill="#1e0e0b"/><rect x="90.8" y="7.6" width="7.9" height="7.9" fill="#1e0e0b"/><rect x="98.3" y="7.6" width="7.9" height="7.9" fill="#1e0e0b"/><rect x="105.9" y="7.6" width="7.9" height="7.9" fill="#1e0e0b"/><rect x="113.4" y="7.6" width="7.9" height="7.9" fill="#1e0e0b"/><rect x="121.0" y="7.6" width="7.9" height="7.9" fill="#1e0e0b"/><rect x="128.6" y="7.6" width="7.9" height="7.9" fill="#1e0e0b"/><rect x="136.1" y="7.6" width="7.9" height="7.9" fill="#321b15"/><rect x="143.7" y="7.6" width="7.9" height="7.9" fill="#321b15"/><rect x="151.2" y="7.6" width="7.9" height="7.9" fill="#1e0e0b"/><rect x="158.8" y="7.6" width="7.9" height="7.9" fill="#1e0e0b"/><rect x="166.4" y="7.6" width="7.9" height="7.9" fill="#321b15"/><rect x="173.9" y="7.6" width="7.9" height="7.9" fill="#321b15"/><rect x="181.5" y="7.6" width="7.9" height="7.9" fill="#503428"/><rect x="189.1" y="7.6" width="7.9" height="7.9" fill="#7a6250"/><rect x="196.6" y="7.6" width="7.9" height="7.9" fill="#7a6250"/><rect x="204.2" y="7.6" width="7.9" height="7.9" fill="#503428"/><rect x="211.8" y="7.6" width="7.9" height="7.9" fill="#321b15"/><rect x="219.3" y="7.6" width="7.9" height="7.9" fill="#1e0e0b"/><rect x="226.9" y="7.6" width="7.9" height="7.9" fill="#1e0e0b"/><rect x="234.4" y="7.6" width="7.9" height="7.9" fill="#1e0e0b"/><rect x="242.0" y="7.6" width="7.9" height="7.9" fill="#1e0e0b"/><rect x="-7.6" y="15.1" width="7.9" height="7.9" fill="#503428"/><rect x="0.0" y="15.1" width="7.9" height="7.9" fill="#503428"/><rect x="7.6" y="15.1" width="7.9" height="7.9" fill="#321b15"/><rect x="15.1" y="15.1" width="7.9" height="7.9" fill="#1e0e0b"/><rect x="22.7" y="15.1" width="7.9" height="7.9" fill="#1e0e0b"/><rect x="30.2" y="15.1" width="7.9" height="7.9" fill="#1e0e0b"/><rect x="37.8" y="15.1" width="7.9" height="7.9" fill="#1e0e0b"/><rect x="45.4" y="15.1" width="7.9" height="7.9" fill="#1e0e0b"/><rect x="52.9" y="15.1" width="7.9" height="7.9" fill="#1e0e0b"/><rect x="60.5" y="15.1" width="7.9" height="7.9" fill="#1e0e0b"/><rect x="68.1" y="15.1" width="7.9" height="7.9" fill="#1e0e0b"/><rect x="75.6" y="15.1" width="7.9" height="7.9" fill="#1e0e0b"/><rect x="83.2" y="15.1" width="7.9" height="7.9" fill="#1e0e0b"/><rect x="90.8" y="15.1" width="7.9" height="7.9" fill="#1e0e0b"/><rect x="98.3" y="15.1" width="7.9" height="7.9" fill="#1e0e0b"/><rect x="105.9" y="15.1" width="7.9" height="7.9" fill="#1e0e0b"/><rect x="113.4" y="15.1" width="7.9" height="7.9" fill="#321b15"/><rect x="121.0" y="15.1" width="7.9" height="7.9" fill="#1e0e0b"/><rect x="128.6" y="15.1" width="7.9" height="7.9" fill="#1e0e0b"/><rect x="136.1" y="15.1" width="7.9" height="7.9" fill="#1e0e0b"/><rect x="143.7" y="15.1" width="7.9" height="7.9" fill="#1e0e0b"/><rect x="151.2" y="15.1" width="7.9" height="7.9" fill="#1e0e0b"/><rect x="158.8" y="15.1" width="7.9" height="7.9" fill="#1e0e0b"/><rect x="166.4" y="15.1" width="7.9" height="7.9" fill="#321b15"/><rect x="173.9" y="15.1" width="7.9" height="7.9" fill="#503428"/><rect x="181.5" y="15.1" width="7.9" height="7.9" fill="#7a6250"/><rect x="189.1" y="15.1" width="7.9" height="7.9" fill="#7a6250"/><rect x="196.6" y="15.1" width="7.9" height="7.9" fill="#503428"/><rect x="204.2" y="15.1" width="7.9" height="7.9" fill="#503428"/><rect x="211.8" y="15.1" width="7.9" height="7.9" fill="#1e0e0b"/><rect x="219.3" y="15.1" width="7.9" height="7.9" fill="#1e0e0b"/><rect x="226.9" y="15.1" width="7.9" height="7.9" fill="#503428"/><rect x="234.4" y="15.1" width="7.9" height="7.9" fill="#1e0e0b"/><rect x="242.0" y="15.1" width="7.9" height="7.9" fill="#1e0e0b"/><rect x="-7.6" y="22.7" width="7.9" height="7.9" fill="#503428"/><rect x="0.0" y="22.7" width="7.9" height="7.9" fill="#503428"/><rect x="7.6" y="22.7" width="7.9" height="7.9" fill="#321b15"/><rect x="15.1" y="22.7" width="7.9" height="7.9" fill="#321b15"/><rect x="22.7" y="22.7" width="7.9" height="7.9" fill="#1e0e0b"/><rect x="30.2" y="22.7" width="7.9" height="7.9" fill="#1e0e0b"/><rect x="37.8" y="22.7" width="7.9" height="7.9" fill="#1e0e0b"/><rect x="45.4" y="22.7" width="7.9" height="7.9" fill="#1e0e0b"/><rect x="52.9" y="22.7" width="7.9" height="7.9" fill="#1e0e0b"/><rect x="60.5" y="22.7" width="7.9" height="7.9" fill="#1e0e0b"/><rect x="68.1" y="22.7" width="7.9" height="7.9" fill="#1e0e0b"/><rect x="75.6" y="22.7" width="7.9" height="7.9" fill="#1e0e0b"/><rect x="83.2" y="22.7" width="7.9" height="7.9" fill="#1e0e0b"/><rect x="90.8" y="22.7" width="7.9" height="7.9" fill="#1e0e0b"/><rect x="98.3" y="22.7" width="7.9" height="7.9" fill="#1e0e0b"/><rect x="105.9" y="22.7" width="7.9" height="7.9" fill="#1e0e0b"/><rect x="113.4" y="22.7" width="7.9" height="7.9" fill="#321b15"/><rect x="121.0" y="22.7" width="7.9" height="7.9" fill="#1e0e0b"/><rect x="128.6" y="22.7" width="7.9" height="7.9" fill="#1e0e0b"/><rect x="136.1" y="22.7" width="7.9" height="7.9" fill="#1e0e0b"/><rect x="143.7" y="22.7" width="7.9" height="7.9" fill="#1e0e0b"/><rect x="151.2" y="22.7" width="7.9" height="7.9" fill="#1e0e0b"/><rect x="158.8" y="22.7" width="7.9" height="7.9" fill="#1e0e0b"/><rect x="166.4" y="22.7" width="7.9" height="7.9" fill="#321b15"/><rect x="173.9" y="22.7" width="7.9" height="7.9" fill="#503428"/><rect x="181.5" y="22.7" width="7.9" height="7.9" fill="#7a6250"/><rect x="189.1" y="22.7" width="7.9" height="7.9" fill="#7a6250"/><rect x="196.6" y="22.7" width="7.9" height="7.9" fill="#503428"/><rect x="204.2" y="22.7" width="7.9" height="7.9" fill="#321b15"/><rect x="211.8" y="22.7" width="7.9" height="7.9" fill="#1e0e0b"/><rect x="219.3" y="22.7" width="7.9" height="7.9" fill="#321b15"/><rect x="226.9" y="22.7" width="7.9" height="7.9" fill="#1e0e0b"/><rect x="234.4" y="22.7" width="7.9" height="7.9" fill="#1e0e0b"/><rect x="242.0" y="22.7" width="7.9" height="7.9" fill="#1e0e0b"/><rect x="-7.6" y="30.2" width="7.9" height="7.9" fill="#321b15"/><rect x="0.0" y="30.2" width="7.9" height="7.9" fill="#321b15"/><rect x="7.6" y="30.2" width="7.9" height="7.9" fill="#321b15"/><rect x="15.1" y="30.2" width="7.9" height="7.9" fill="#503428"/><rect x="22.7" y="30.2" width="7.9" height="7.9" fill="#321b15"/><rect x="30.2" y="30.2" width="7.9" height="7.9" fill="#1e0e0b"/><rect x="37.8" y="30.2" width="7.9" height="7.9" fill="#1e0e0b"/><rect x="45.4" y="30.2" width="7.9" height="7.9" fill="#1e0e0b"/><rect x="52.9" y="30.2" width="7.9" height="7.9" fill="#1e0e0b"/><rect x="60.5" y="30.2" width="7.9" height="7.9" fill="#1e0e0b"/><rect x="68.1" y="30.2" width="7.9" height="7.9" fill="#1e0e0b"/><rect x="75.6" y="30.2" width="7.9" height="7.9" fill="#1e0e0b"/><rect x="83.2" y="30.2" width="7.9" height="7.9" fill="#1e0e0b"/><rect x="90.8" y="30.2" width="7.9" height="7.9" fill="#321b15"/><rect x="98.3" y="30.2" width="7.9" height="7.9" fill="#321b15"/><rect x="105.9" y="30.2" width="7.9" height="7.9" fill="#321b15"/><rect x="113.4" y="30.2" width="7.9" height="7.9" fill="#321b15"/><rect x="121.0" y="30.2" width="7.9" height="7.9" fill="#1e0e0b"/><rect x="128.6" y="30.2" width="7.9" height="7.9" fill="#1e0e0b"/><rect x="136.1" y="30.2" width="7.9" height="7.9" fill="#1e0e0b"/><rect x="143.7" y="30.2" width="7.9" height="7.9" fill="#1e0e0b"/><rect x="151.2" y="30.2" width="7.9" height="7.9" fill="#1e0e0b"/><rect x="158.8" y="30.2" width="7.9" height="7.9" fill="#1e0e0b"/><rect x="166.4" y="30.2" width="7.9" height="7.9" fill="#321b15"/><rect x="173.9" y="30.2" width="7.9" height="7.9" fill="#503428"/><rect x="181.5" y="30.2" width="7.9" height="7.9" fill="#7a6250"/><rect x="189.1" y="30.2" width="7.9" height="7.9" fill="#503428"/><rect x="196.6" y="30.2" width="7.9" height="7.9" fill="#503428"/><rect x="204.2" y="30.2" width="7.9" height="7.9" fill="#321b15"/><rect x="211.8" y="30.2" width="7.9" height="7.9" fill="#1e0e0b"/><rect x="219.3" y="30.2" width="7.9" height="7.9" fill="#1e0e0b"/><rect x="226.9" y="30.2" width="7.9" height="7.9" fill="#1e0e0b"/><rect x="234.4" y="30.2" width="7.9" height="7.9" fill="#1e0e0b"/><rect x="242.0" y="30.2" width="7.9" height="7.9" fill="#1e0e0b"/><rect x="-7.6" y="37.8" width="7.9" height="7.9" fill="#321b15"/><rect x="0.0" y="37.8" width="7.9" height="7.9" fill="#321b15"/><rect x="7.6" y="37.8" width="7.9" height="7.9" fill="#503428"/><rect x="15.1" y="37.8" width="7.9" height="7.9" fill="#7a6250"/><rect x="22.7" y="37.8" width="7.9" height="7.9" fill="#503428"/><rect x="30.2" y="37.8" width="7.9" height="7.9" fill="#321b15"/><rect x="37.8" y="37.8" width="7.9" height="7.9" fill="#1e0e0b"/><rect x="45.4" y="37.8" width="7.9" height="7.9" fill="#1e0e0b"/><rect x="52.9" y="37.8" width="7.9" height="7.9" fill="#1e0e0b"/><rect x="60.5" y="37.8" width="7.9" height="7.9" fill="#1e0e0b"/><rect x="68.1" y="37.8" width="7.9" height="7.9" fill="#1e0e0b"/><rect x="75.6" y="37.8" width="7.9" height="7.9" fill="#1e0e0b"/><rect x="83.2" y="37.8" width="7.9" height="7.9" fill="#1e0e0b"/><rect x="90.8" y="37.8" width="7.9" height="7.9" fill="#321b15"/><rect x="98.3" y="37.8" width="7.9" height="7.9" fill="#503428"/><rect x="105.9" y="37.8" width="7.9" height="7.9" fill="#321b15"/><rect x="113.4" y="37.8" width="7.9" height="7.9" fill="#321b15"/><rect x="121.0" y="37.8" width="7.9" height="7.9" fill="#321b15"/><rect x="128.6" y="37.8" width="7.9" height="7.9" fill="#1e0e0b"/><rect x="136.1" y="37.8" width="7.9" height="7.9" fill="#1e0e0b"/><rect x="143.7" y="37.8" width="7.9" height="7.9" fill="#1e0e0b"/><rect x="151.2" y="37.8" width="7.9" height="7.9" fill="#1e0e0b"/><rect x="158.8" y="37.8" width="7.9" height="7.9" fill="#321b15"/><rect x="166.4" y="37.8" width="7.9" height="7.9" fill="#503428"/><rect x="173.9" y="37.8" width="7.9" height="7.9" fill="#503428"/><rect x="181.5" y="37.8" width="7.9" height="7.9" fill="#7a6250"/><rect x="189.1" y="37.8" width="7.9" height="7.9" fill="#503428"/><rect x="196.6" y="37.8" width="7.9" height="7.9" fill="#321b15"/><rect x="204.2" y="37.8" width="7.9" height="7.9" fill="#321b15"/><rect x="211.8" y="37.8" width="7.9" height="7.9" fill="#321b15"/><rect x="219.3" y="37.8" width="7.9" height="7.9" fill="#503428"/><rect x="226.9" y="37.8" width="7.9" height="7.9" fill="#1e0e0b"/><rect x="234.4" y="37.8" width="7.9" height="7.9" fill="#1e0e0b"/><rect x="242.0" y="37.8" width="7.9" height="7.9" fill="#1e0e0b"/><rect x="-7.6" y="45.4" width="7.9" height="7.9" fill="#503428"/><rect x="0.0" y="45.4" width="7.9" height="7.9" fill="#503428"/><rect x="7.6" y="45.4" width="7.9" height="7.9" fill="#7a6250"/><rect x="15.1" y="45.4" width="7.9" height="7.9" fill="#7a6250"/><rect x="22.7" y="45.4" width="7.9" height="7.9" fill="#7a6250"/><rect x="30.2" y="45.4" width="7.9" height="7.9" fill="#321b15"/><rect x="37.8" y="45.4" width="7.9" height="7.9" fill="#1e0e0b"/><rect x="45.4" y="45.4" width="7.9" height="7.9" fill="#1e0e0b"/><rect x="52.9" y="45.4" width="7.9" height="7.9" fill="#1e0e0b"/><rect x="60.5" y="45.4" width="7.9" height="7.9" fill="#321b15"/><rect x="68.1" y="45.4" width="7.9" height="7.9" fill="#1e0e0b"/><rect x="75.6" y="45.4" width="7.9" height="7.9" fill="#1e0e0b"/><rect x="83.2" y="45.4" width="7.9" height="7.9" fill="#1e0e0b"/><rect x="90.8" y="45.4" width="7.9" height="7.9" fill="#1e0e0b"/><rect x="98.3" y="45.4" width="7.9" height="7.9" fill="#321b15"/><rect x="105.9" y="45.4" width="7.9" height="7.9" fill="#321b15"/><rect x="113.4" y="45.4" width="7.9" height="7.9" fill="#1e0e0b"/><rect x="121.0" y="45.4" width="7.9" height="7.9" fill="#321b15"/><rect x="128.6" y="45.4" width="7.9" height="7.9" fill="#321b15"/><rect x="136.1" y="45.4" width="7.9" height="7.9" fill="#321b15"/><rect x="143.7" y="45.4" width="7.9" height="7.9" fill="#321b15"/><rect x="151.2" y="45.4" width="7.9" height="7.9" fill="#321b15"/><rect x="158.8" y="45.4" width="7.9" height="7.9" fill="#321b15"/><rect x="166.4" y="45.4" width="7.9" height="7.9" fill="#503428"/><rect x="173.9" y="45.4" width="7.9" height="7.9" fill="#7a6250"/><rect x="181.5" y="45.4" width="7.9" height="7.9" fill="#503428"/><rect x="189.1" y="45.4" width="7.9" height="7.9" fill="#503428"/><rect x="196.6" y="45.4" width="7.9" height="7.9" fill="#321b15"/><rect x="204.2" y="45.4" width="7.9" height="7.9" fill="#1e0e0b"/><rect x="211.8" y="45.4" width="7.9" height="7.9" fill="#1e0e0b"/><rect x="219.3" y="45.4" width="7.9" height="7.9" fill="#1e0e0b"/><rect x="226.9" y="45.4" width="7.9" height="7.9" fill="#1e0e0b"/><rect x="234.4" y="45.4" width="7.9" height="7.9" fill="#1e0e0b"/><rect x="242.0" y="45.4" width="7.9" height="7.9" fill="#1e0e0b"/><rect x="-7.6" y="52.9" width="7.9" height="7.9" fill="#503428"/><rect x="0.0" y="52.9" width="7.9" height="7.9" fill="#503428"/><rect x="7.6" y="52.9" width="7.9" height="7.9" fill="#7a6250"/><rect x="15.1" y="52.9" width="7.9" height="7.9" fill="#7a6250"/><rect x="22.7" y="52.9" width="7.9" height="7.9" fill="#503428"/><rect x="30.2" y="52.9" width="7.9" height="7.9" fill="#321b15"/><rect x="37.8" y="52.9" width="7.9" height="7.9" fill="#1e0e0b"/><rect x="45.4" y="52.9" width="7.9" height="7.9" fill="#1e0e0b"/><rect x="52.9" y="52.9" width="7.9" height="7.9" fill="#1e0e0b"/><rect x="60.5" y="52.9" width="7.9" height="7.9" fill="#321b15"/><rect x="68.1" y="52.9" width="7.9" height="7.9" fill="#1e0e0b"/><rect x="75.6" y="52.9" width="7.9" height="7.9" fill="#1e0e0b"/><rect x="83.2" y="52.9" width="7.9" height="7.9" fill="#1e0e0b"/><rect x="90.8" y="52.9" width="7.9" height="7.9" fill="#1e0e0b"/><rect x="98.3" y="52.9" width="7.9" height="7.9" fill="#1e0e0b"/><rect x="105.9" y="52.9" width="7.9" height="7.9" fill="#1e0e0b"/><rect x="113.4" y="52.9" width="7.9" height="7.9" fill="#1e0e0b"/><rect x="121.0" y="52.9" width="7.9" height="7.9" fill="#321b15"/><rect x="128.6" y="52.9" width="7.9" height="7.9" fill="#321b15"/><rect x="136.1" y="52.9" width="7.9" height="7.9" fill="#503428"/><rect x="143.7" y="52.9" width="7.9" height="7.9" fill="#321b15"/><rect x="151.2" y="52.9" width="7.9" height="7.9" fill="#321b15"/><rect x="158.8" y="52.9" width="7.9" height="7.9" fill="#321b15"/><rect x="166.4" y="52.9" width="7.9" height="7.9" fill="#503428"/><rect x="173.9" y="52.9" width="7.9" height="7.9" fill="#503428"/><rect x="181.5" y="52.9" width="7.9" height="7.9" fill="#503428"/><rect x="189.1" y="52.9" width="7.9" height="7.9" fill="#503428"/><rect x="196.6" y="52.9" width="7.9" height="7.9" fill="#321b15"/><rect x="204.2" y="52.9" width="7.9" height="7.9" fill="#321b15"/><rect x="211.8" y="52.9" width="7.9" height="7.9" fill="#1e0e0b"/><rect x="219.3" y="52.9" width="7.9" height="7.9" fill="#1e0e0b"/><rect x="226.9" y="52.9" width="7.9" height="7.9" fill="#321b15"/><rect x="234.4" y="52.9" width="7.9" height="7.9" fill="#503428"/><rect x="242.0" y="52.9" width="7.9" height="7.9" fill="#503428"/><rect x="-7.6" y="60.5" width="7.9" height="7.9" fill="#5c545a"/><rect x="0.0" y="60.5" width="7.9" height="7.9" fill="#5c545a"/><rect x="7.6" y="60.5" width="7.9" height="7.9" fill="#7a6250"/><rect x="15.1" y="60.5" width="7.9" height="7.9" fill="#7a6250"/><rect x="22.7" y="60.5" width="7.9" height="7.9" fill="#7a6250"/><rect x="30.2" y="60.5" width="7.9" height="7.9" fill="#7a6250"/><rect x="37.8" y="60.5" width="7.9" height="7.9" fill="#503428"/><rect x="45.4" y="60.5" width="7.9" height="7.9" fill="#321b15"/><rect x="52.9" y="60.5" width="7.9" height="7.9" fill="#321b15"/><rect x="60.5" y="60.5" width="7.9" height="7.9" fill="#1e0e0b"/><rect x="68.1" y="60.5" width="7.9" height="7.9" fill="#1e0e0b"/><rect x="75.6" y="60.5" width="7.9" height="7.9" fill="#1e0e0b"/><rect x="83.2" y="60.5" width="7.9" height="7.9" fill="#1e0e0b"/><rect x="90.8" y="60.5" width="7.9" height="7.9" fill="#1e0e0b"/><rect x="98.3" y="60.5" width="7.9" height="7.9" fill="#1e0e0b"/><rect x="105.9" y="60.5" width="7.9" height="7.9" fill="#1e0e0b"/><rect x="113.4" y="60.5" width="7.9" height="7.9" fill="#1e0e0b"/><rect x="121.0" y="60.5" width="7.9" height="7.9" fill="#1e0e0b"/><rect x="128.6" y="60.5" width="7.9" height="7.9" fill="#1e0e0b"/><rect x="136.1" y="60.5" width="7.9" height="7.9" fill="#1e0e0b"/><rect x="143.7" y="60.5" width="7.9" height="7.9" fill="#1e0e0b"/><rect x="151.2" y="60.5" width="7.9" height="7.9" fill="#503428"/><rect x="158.8" y="60.5" width="7.9" height="7.9" fill="#7a6250"/><rect x="166.4" y="60.5" width="7.9" height="7.9" fill="#503428"/><rect x="173.9" y="60.5" width="7.9" height="7.9" fill="#7a6250"/><rect x="181.5" y="60.5" width="7.9" height="7.9" fill="#503428"/><rect x="189.1" y="60.5" width="7.9" height="7.9" fill="#321b15"/><rect x="196.6" y="60.5" width="7.9" height="7.9" fill="#1e0e0b"/><rect x="204.2" y="60.5" width="7.9" height="7.9" fill="#1e0e0b"/><rect x="211.8" y="60.5" width="7.9" height="7.9" fill="#321b15"/><rect x="219.3" y="60.5" width="7.9" height="7.9" fill="#503428"/><rect x="226.9" y="60.5" width="7.9" height="7.9" fill="#7a6250"/><rect x="234.4" y="60.5" width="7.9" height="7.9" fill="#7a6250"/><rect x="242.0" y="60.5" width="7.9" height="7.9" fill="#7a6250"/><rect x="-7.6" y="68.1" width="7.9" height="7.9" fill="#5c545a"/><rect x="0.0" y="68.1" width="7.9" height="7.9" fill="#5c545a"/><rect x="7.6" y="68.1" width="7.9" height="7.9" fill="#7a6250"/><rect x="15.1" y="68.1" width="7.9" height="7.9" fill="#7a6250"/><rect x="22.7" y="68.1" width="7.9" height="7.9" fill="#503428"/><rect x="30.2" y="68.1" width="7.9" height="7.9" fill="#7a6250"/><rect x="37.8" y="68.1" width="7.9" height="7.9" fill="#7a6250"/><rect x="45.4" y="68.1" width="7.9" height="7.9" fill="#503428"/><rect x="52.9" y="68.1" width="7.9" height="7.9" fill="#503428"/><rect x="60.5" y="68.1" width="7.9" height="7.9" fill="#321b15"/><rect x="68.1" y="68.1" width="7.9" height="7.9" fill="#1e0e0b"/><rect x="75.6" y="68.1" width="7.9" height="7.9" fill="#1e0e0b"/><rect x="83.2" y="68.1" width="7.9" height="7.9" fill="#1e0e0b"/><rect x="90.8" y="68.1" width="7.9" height="7.9" fill="#1e0e0b"/><rect x="98.3" y="68.1" width="7.9" height="7.9" fill="#1e0e0b"/><rect x="105.9" y="68.1" width="7.9" height="7.9" fill="#1e0e0b"/><rect x="113.4" y="68.1" width="7.9" height="7.9" fill="#1e0e0b"/><rect x="121.0" y="68.1" width="7.9" height="7.9" fill="#1e0e0b"/><rect x="128.6" y="68.1" width="7.9" height="7.9" fill="#1e0e0b"/><rect x="136.1" y="68.1" width="7.9" height="7.9" fill="#1e0e0b"/><rect x="143.7" y="68.1" width="7.9" height="7.9" fill="#321b15"/><rect x="151.2" y="68.1" width="7.9" height="7.9" fill="#503428"/><rect x="158.8" y="68.1" width="7.9" height="7.9" fill="#7a6250"/><rect x="166.4" y="68.1" width="7.9" height="7.9" fill="#7a6250"/><rect x="173.9" y="68.1" width="7.9" height="7.9" fill="#503428"/><rect x="181.5" y="68.1" width="7.9" height="7.9" fill="#321b15"/><rect x="189.1" y="68.1" width="7.9" height="7.9" fill="#1e0e0b"/><rect x="196.6" y="68.1" width="7.9" height="7.9" fill="#1e0e0b"/><rect x="204.2" y="68.1" width="7.9" height="7.9" fill="#1e0e0b"/><rect x="211.8" y="68.1" width="7.9" height="7.9" fill="#1e0e0b"/><rect x="219.3" y="68.1" width="7.9" height="7.9" fill="#321b15"/><rect x="226.9" y="68.1" width="7.9" height="7.9" fill="#503428"/><rect x="234.4" y="68.1" width="7.9" height="7.9" fill="#503428"/><rect x="242.0" y="68.1" width="7.9" height="7.9" fill="#503428"/><rect x="-7.6" y="75.6" width="7.9" height="7.9" fill="#5c545a"/><rect x="0.0" y="75.6" width="7.9" height="7.9" fill="#5c545a"/><rect x="7.6" y="75.6" width="7.9" height="7.9" fill="#503428"/><rect x="15.1" y="75.6" width="7.9" height="7.9" fill="#321b15"/><rect x="22.7" y="75.6" width="7.9" height="7.9" fill="#503428"/><rect x="30.2" y="75.6" width="7.9" height="7.9" fill="#503428"/><rect x="37.8" y="75.6" width="7.9" height="7.9" fill="#7a6250"/><rect x="45.4" y="75.6" width="7.9" height="7.9" fill="#7a6250"/><rect x="52.9" y="75.6" width="7.9" height="7.9" fill="#7a6250"/><rect x="60.5" y="75.6" width="7.9" height="7.9" fill="#503428"/><rect x="68.1" y="75.6" width="7.9" height="7.9" fill="#7a6250"/><rect x="75.6" y="75.6" width="7.9" height="7.9" fill="#503428"/><rect x="83.2" y="75.6" width="7.9" height="7.9" fill="#321b15"/><rect x="90.8" y="75.6" width="7.9" height="7.9" fill="#1e0e0b"/><rect x="98.3" y="75.6" width="7.9" height="7.9" fill="#1e0e0b"/><rect x="105.9" y="75.6" width="7.9" height="7.9" fill="#1e0e0b"/><rect x="113.4" y="75.6" width="7.9" height="7.9" fill="#1e0e0b"/><rect x="121.0" y="75.6" width="7.9" height="7.9" fill="#321b15"/><rect x="128.6" y="75.6" width="7.9" height="7.9" fill="#1e0e0b"/><rect x="136.1" y="75.6" width="7.9" height="7.9" fill="#1e0e0b"/><rect x="143.7" y="75.6" width="7.9" height="7.9" fill="#503428"/><rect x="151.2" y="75.6" width="7.9" height="7.9" fill="#7a6250"/><rect x="158.8" y="75.6" width="7.9" height="7.9" fill="#7a6250"/><rect x="166.4" y="75.6" width="7.9" height="7.9" fill="#503428"/><rect x="173.9" y="75.6" width="7.9" height="7.9" fill="#503428"/><rect x="181.5" y="75.6" width="7.9" height="7.9" fill="#1e0e0b"/><rect x="189.1" y="75.6" width="7.9" height="7.9" fill="#1e0e0b"/><rect x="196.6" y="75.6" width="7.9" height="7.9" fill="#1e0e0b"/><rect x="204.2" y="75.6" width="7.9" height="7.9" fill="#321b15"/><rect x="211.8" y="75.6" width="7.9" height="7.9" fill="#1e0e0b"/><rect x="219.3" y="75.6" width="7.9" height="7.9" fill="#1e0e0b"/><rect x="226.9" y="75.6" width="7.9" height="7.9" fill="#321b15"/><rect x="234.4" y="75.6" width="7.9" height="7.9" fill="#321b15"/><rect x="242.0" y="75.6" width="7.9" height="7.9" fill="#321b15"/><rect x="-7.6" y="83.2" width="7.9" height="7.9" fill="#5c545a"/><rect x="0.0" y="83.2" width="7.9" height="7.9" fill="#5c545a"/><rect x="7.6" y="83.2" width="7.9" height="7.9" fill="#5c545a"/><rect x="15.1" y="83.2" width="7.9" height="7.9" fill="#321b15"/><rect x="22.7" y="83.2" width="7.9" height="7.9" fill="#321b15"/><rect x="30.2" y="83.2" width="7.9" height="7.9" fill="#503428"/><rect x="37.8" y="83.2" width="7.9" height="7.9" fill="#7a6250"/><rect x="45.4" y="83.2" width="7.9" height="7.9" fill="#503428"/><rect x="52.9" y="83.2" width="7.9" height="7.9" fill="#321b15"/><rect x="60.5" y="83.2" width="7.9" height="7.9" fill="#321b15"/><rect x="68.1" y="83.2" width="7.9" height="7.9" fill="#7a6250"/><rect x="75.6" y="83.2" width="7.9" height="7.9" fill="#7a6250"/><rect x="83.2" y="83.2" width="7.9" height="7.9" fill="#7a6250"/><rect x="90.8" y="83.2" width="7.9" height="7.9" fill="#503428"/><rect x="98.3" y="83.2" width="7.9" height="7.9" fill="#321b15"/><rect x="105.9" y="83.2" width="7.9" height="7.9" fill="#1e0e0b"/><rect x="113.4" y="83.2" width="7.9" height="7.9" fill="#1e0e0b"/><rect x="121.0" y="83.2" width="7.9" height="7.9" fill="#321b15"/><rect x="128.6" y="83.2" width="7.9" height="7.9" fill="#1e0e0b"/><rect x="136.1" y="83.2" width="7.9" height="7.9" fill="#321b15"/><rect x="143.7" y="83.2" width="7.9" height="7.9" fill="#7a6250"/><rect x="151.2" y="83.2" width="7.9" height="7.9" fill="#7a6250"/><rect x="158.8" y="83.2" width="7.9" height="7.9" fill="#503428"/><rect x="166.4" y="83.2" width="7.9" height="7.9" fill="#321b15"/><rect x="173.9" y="83.2" width="7.9" height="7.9" fill="#503428"/><rect x="181.5" y="83.2" width="7.9" height="7.9" fill="#1e0e0b"/><rect x="189.1" y="83.2" width="7.9" height="7.9" fill="#1e0e0b"/><rect x="196.6" y="83.2" width="7.9" height="7.9" fill="#1e0e0b"/><rect x="204.2" y="83.2" width="7.9" height="7.9" fill="#1e0e0b"/><rect x="211.8" y="83.2" width="7.9" height="7.9" fill="#1e0e0b"/><rect x="219.3" y="83.2" width="7.9" height="7.9" fill="#1e0e0b"/><rect x="226.9" y="83.2" width="7.9" height="7.9" fill="#1e0e0b"/><rect x="234.4" y="83.2" width="7.9" height="7.9" fill="#321b15"/><rect x="242.0" y="83.2" width="7.9" height="7.9" fill="#321b15"/><rect x="-7.6" y="90.8" width="7.9" height="7.9" fill="#5c545a"/><rect x="0.0" y="90.8" width="7.9" height="7.9" fill="#5c545a"/><rect x="7.6" y="90.8" width="7.9" height="7.9" fill="#503428"/><rect x="15.1" y="90.8" width="7.9" height="7.9" fill="#321b15"/><rect x="22.7" y="90.8" width="7.9" height="7.9" fill="#503428"/><rect x="30.2" y="90.8" width="7.9" height="7.9" fill="#503428"/><rect x="37.8" y="90.8" width="7.9" height="7.9" fill="#321b15"/><rect x="45.4" y="90.8" width="7.9" height="7.9" fill="#1e0e0b"/><rect x="52.9" y="90.8" width="7.9" height="7.9" fill="#1e0e0b"/><rect x="60.5" y="90.8" width="7.9" height="7.9" fill="#1e0e0b"/><rect x="68.1" y="90.8" width="7.9" height="7.9" fill="#321b15"/><rect x="75.6" y="90.8" width="7.9" height="7.9" fill="#503428"/><rect x="83.2" y="90.8" width="7.9" height="7.9" fill="#7a6250"/><rect x="90.8" y="90.8" width="7.9" height="7.9" fill="#7a6250"/><rect x="98.3" y="90.8" width="7.9" height="7.9" fill="#7a6250"/><rect x="105.9" y="90.8" width="7.9" height="7.9" fill="#503428"/><rect x="113.4" y="90.8" width="7.9" height="7.9" fill="#1e0e0b"/><rect x="121.0" y="90.8" width="7.9" height="7.9" fill="#503428"/><rect x="128.6" y="90.8" width="7.9" height="7.9" fill="#321b15"/><rect x="136.1" y="90.8" width="7.9" height="7.9" fill="#321b15"/><rect x="143.7" y="90.8" width="7.9" height="7.9" fill="#503428"/><rect x="151.2" y="90.8" width="7.9" height="7.9" fill="#7a6250"/><rect x="158.8" y="90.8" width="7.9" height="7.9" fill="#7a6250"/><rect x="166.4" y="90.8" width="7.9" height="7.9" fill="#503428"/><rect x="173.9" y="90.8" width="7.9" height="7.9" fill="#321b15"/><rect x="181.5" y="90.8" width="7.9" height="7.9" fill="#321b15"/><rect x="189.1" y="90.8" width="7.9" height="7.9" fill="#503428"/><rect x="196.6" y="90.8" width="7.9" height="7.9" fill="#321b15"/><rect x="204.2" y="90.8" width="7.9" height="7.9" fill="#321b15"/><rect x="211.8" y="90.8" width="7.9" height="7.9" fill="#503428"/><rect x="219.3" y="90.8" width="7.9" height="7.9" fill="#321b15"/><rect x="226.9" y="90.8" width="7.9" height="7.9" fill="#321b15"/><rect x="234.4" y="90.8" width="7.9" height="7.9" fill="#321b15"/><rect x="242.0" y="90.8" width="7.9" height="7.9" fill="#321b15"/><rect x="-7.6" y="98.3" width="7.9" height="7.9" fill="#5c545a"/><rect x="0.0" y="98.3" width="7.9" height="7.9" fill="#5c545a"/><rect x="7.6" y="98.3" width="7.9" height="7.9" fill="#503428"/><rect x="15.1" y="98.3" width="7.9" height="7.9" fill="#503428"/><rect x="22.7" y="98.3" width="7.9" height="7.9" fill="#503428"/><rect x="30.2" y="98.3" width="7.9" height="7.9" fill="#321b15"/><rect x="37.8" y="98.3" width="7.9" height="7.9" fill="#1e0e0b"/><rect x="45.4" y="98.3" width="7.9" height="7.9" fill="#1e0e0b"/><rect x="52.9" y="98.3" width="7.9" height="7.9" fill="#1e0e0b"/><rect x="60.5" y="98.3" width="7.9" height="7.9" fill="#1e0e0b"/><rect x="68.1" y="98.3" width="7.9" height="7.9" fill="#1e0e0b"/><rect x="75.6" y="98.3" width="7.9" height="7.9" fill="#321b15"/><rect x="83.2" y="98.3" width="7.9" height="7.9" fill="#503428"/><rect x="90.8" y="98.3" width="7.9" height="7.9" fill="#6e6987"/><rect x="98.3" y="98.3" width="7.9" height="7.9" fill="#7a6250"/><rect x="105.9" y="98.3" width="7.9" height="7.9" fill="#7a6250"/><rect x="113.4" y="98.3" width="7.9" height="7.9" fill="#503428"/><rect x="121.0" y="98.3" width="7.9" height="7.9" fill="#7a6250"/><rect x="128.6" y="98.3" width="7.9" height="7.9" fill="#503428"/><rect x="136.1" y="98.3" width="7.9" height="7.9" fill="#321b15"/><rect x="143.7" y="98.3" width="7.9" height="7.9" fill="#503428"/><rect x="151.2" y="98.3" width="7.9" height="7.9" fill="#7a6250"/><rect x="158.8" y="98.3" width="7.9" height="7.9" fill="#7a6250"/><rect x="166.4" y="98.3" width="7.9" height="7.9" fill="#503428"/><rect x="173.9" y="98.3" width="7.9" height="7.9" fill="#321b15"/><rect x="181.5" y="98.3" width="7.9" height="7.9" fill="#321b15"/><rect x="189.1" y="98.3" width="7.9" height="7.9" fill="#321b15"/><rect x="196.6" y="98.3" width="7.9" height="7.9" fill="#503428"/><rect x="204.2" y="98.3" width="7.9" height="7.9" fill="#503428"/><rect x="211.8" y="98.3" width="7.9" height="7.9" fill="#321b15"/><rect x="219.3" y="98.3" width="7.9" height="7.9" fill="#321b15"/><rect x="226.9" y="98.3" width="7.9" height="7.9" fill="#1e0e0b"/><rect x="234.4" y="98.3" width="7.9" height="7.9" fill="#321b15"/><rect x="242.0" y="98.3" width="7.9" height="7.9" fill="#321b15"/><rect x="-7.6" y="105.9" width="7.9" height="7.9" fill="#503428"/><rect x="0.0" y="105.9" width="7.9" height="7.9" fill="#503428"/><rect x="7.6" y="105.9" width="7.9" height="7.9" fill="#503428"/><rect x="15.1" y="105.9" width="7.9" height="7.9" fill="#503428"/><rect x="22.7" y="105.9" width="7.9" height="7.9" fill="#321b15"/><rect x="30.2" y="105.9" width="7.9" height="7.9" fill="#1e0e0b"/><rect x="37.8" y="105.9" width="7.9" height="7.9" fill="#1e0e0b"/><rect x="45.4" y="105.9" width="7.9" height="7.9" fill="#1e0e0b"/><rect x="52.9" y="105.9" width="7.9" height="7.9" fill="#1e0e0b"/><rect x="60.5" y="105.9" width="7.9" height="7.9" fill="#1e0e0b"/><rect x="68.1" y="105.9" width="7.9" height="7.9" fill="#1e0e0b"/><rect x="75.6" y="105.9" width="7.9" height="7.9" fill="#1e0e0b"/><rect x="83.2" y="105.9" width="7.9" height="7.9" fill="#321b15"/><rect x="90.8" y="105.9" width="7.9" height="7.9" fill="#6e6987"/><rect x="98.3" y="105.9" width="7.9" height="7.9" fill="#6e6987"/><rect x="105.9" y="105.9" width="7.9" height="7.9" fill="#6e6987"/><rect x="113.4" y="105.9" width="7.9" height="7.9" fill="#503428"/><rect x="121.0" y="105.9" width="7.9" height="7.9" fill="#7a6250"/><rect x="128.6" y="105.9" width="7.9" height="7.9" fill="#7a6250"/><rect x="136.1" y="105.9" width="7.9" height="7.9" fill="#321b15"/><rect x="143.7" y="105.9" width="7.9" height="7.9" fill="#503428"/><rect x="151.2" y="105.9" width="7.9" height="7.9" fill="#7a6250"/><rect x="158.8" y="105.9" width="7.9" height="7.9" fill="#7a6250"/><rect x="166.4" y="105.9" width="7.9" height="7.9" fill="#321b15"/><rect x="173.9" y="105.9" width="7.9" height="7.9" fill="#321b15"/><rect x="181.5" y="105.9" width="7.9" height="7.9" fill="#321b15"/><rect x="189.1" y="105.9" width="7.9" height="7.9" fill="#321b15"/><rect x="196.6" y="105.9" width="7.9" height="7.9" fill="#1e0e0b"/><rect x="204.2" y="105.9" width="7.9" height="7.9" fill="#321b15"/><rect x="211.8" y="105.9" width="7.9" height="7.9" fill="#503428"/><rect x="219.3" y="105.9" width="7.9" height="7.9" fill="#321b15"/><rect x="226.9" y="105.9" width="7.9" height="7.9" fill="#321b15"/><rect x="234.4" y="105.9" width="7.9" height="7.9" fill="#321b15"/><rect x="242.0" y="105.9" width="7.9" height="7.9" fill="#321b15"/><rect x="-7.6" y="113.4" width="7.9" height="7.9" fill="#503428"/><rect x="0.0" y="113.4" width="7.9" height="7.9" fill="#503428"/><rect x="7.6" y="113.4" width="7.9" height="7.9" fill="#503428"/><rect x="15.1" y="113.4" width="7.9" height="7.9" fill="#321b15"/><rect x="22.7" y="113.4" width="7.9" height="7.9" fill="#1e0e0b"/><rect x="30.2" y="113.4" width="7.9" height="7.9" fill="#1e0e0b"/><rect x="37.8" y="113.4" width="7.9" height="7.9" fill="#1e0e0b"/><rect x="45.4" y="113.4" width="7.9" height="7.9" fill="#1e0e0b"/><rect x="52.9" y="113.4" width="7.9" height="7.9" fill="#1e0e0b"/><rect x="60.5" y="113.4" width="7.9" height="7.9" fill="#1e0e0b"/><rect x="68.1" y="113.4" width="7.9" height="7.9" fill="#1e0e0b"/><rect x="75.6" y="113.4" width="7.9" height="7.9" fill="#1e0e0b"/><rect x="83.2" y="113.4" width="7.9" height="7.9" fill="#321b15"/><rect x="90.8" y="113.4" width="7.9" height="7.9" fill="#6e6987"/><rect x="98.3" y="113.4" width="7.9" height="7.9" fill="#6e6987"/><rect x="105.9" y="113.4" width="7.9" height="7.9" fill="#6e6987"/><rect x="113.4" y="113.4" width="7.9" height="7.9" fill="#6e6987"/><rect x="121.0" y="113.4" width="7.9" height="7.9" fill="#503428"/><rect x="128.6" y="113.4" width="7.9" height="7.9" fill="#7a6250"/><rect x="136.1" y="113.4" width="7.9" height="7.9" fill="#321b15"/><rect x="143.7" y="113.4" width="7.9" height="7.9" fill="#503428"/><rect x="151.2" y="113.4" width="7.9" height="7.9" fill="#7a6250"/><rect x="158.8" y="113.4" width="7.9" height="7.9" fill="#503428"/><rect x="166.4" y="113.4" width="7.9" height="7.9" fill="#321b15"/><rect x="173.9" y="113.4" width="7.9" height="7.9" fill="#321b15"/><rect x="181.5" y="113.4" width="7.9" height="7.9" fill="#503428"/><rect x="189.1" y="113.4" width="7.9" height="7.9" fill="#503428"/><rect x="196.6" y="113.4" width="7.9" height="7.9" fill="#321b15"/><rect x="204.2" y="113.4" width="7.9" height="7.9" fill="#321b15"/><rect x="211.8" y="113.4" width="7.9" height="7.9" fill="#321b15"/><rect x="219.3" y="113.4" width="7.9" height="7.9" fill="#503428"/><rect x="226.9" y="113.4" width="7.9" height="7.9" fill="#321b15"/><rect x="234.4" y="113.4" width="7.9" height="7.9" fill="#321b15"/><rect x="242.0" y="113.4" width="7.9" height="7.9" fill="#321b15"/><rect x="-7.6" y="121.0" width="7.9" height="7.9" fill="#503428"/><rect x="0.0" y="121.0" width="7.9" height="7.9" fill="#503428"/><rect x="7.6" y="121.0" width="7.9" height="7.9" fill="#1e0e0b"/><rect x="15.1" y="121.0" width="7.9" height="7.9" fill="#1e0e0b"/><rect x="22.7" y="121.0" width="7.9" height="7.9" fill="#1e0e0b"/><rect x="30.2" y="121.0" width="7.9" height="7.9" fill="#1e0e0b"/><rect x="37.8" y="121.0" width="7.9" height="7.9" fill="#1e0e0b"/><rect x="45.4" y="121.0" width="7.9" height="7.9" fill="#1e0e0b"/><rect x="52.9" y="121.0" width="7.9" height="7.9" fill="#1e0e0b"/><rect x="60.5" y="121.0" width="7.9" height="7.9" fill="#321b15"/><rect x="68.1" y="121.0" width="7.9" height="7.9" fill="#503428"/><rect x="75.6" y="121.0" width="7.9" height="7.9" fill="#6e6987"/><rect x="83.2" y="121.0" width="7.9" height="7.9" fill="#6e6987"/><rect x="90.8" y="121.0" width="7.9" height="7.9" fill="#6e6987"/><rect x="98.3" y="121.0" width="7.9" height="7.9" fill="#6e6987"/><rect x="105.9" y="121.0" width="7.9" height="7.9" fill="#6e6987"/><rect x="113.4" y="121.0" width="7.9" height="7.9" fill="#503428"/><rect x="121.0" y="121.0" width="7.9" height="7.9" fill="#7a6250"/><rect x="128.6" y="121.0" width="7.9" height="7.9" fill="#503428"/><rect x="136.1" y="121.0" width="7.9" height="7.9" fill="#503428"/><rect x="143.7" y="121.0" width="7.9" height="7.9" fill="#7a6250"/><rect x="151.2" y="121.0" width="7.9" height="7.9" fill="#321b15"/><rect x="158.8" y="121.0" width="7.9" height="7.9" fill="#1e0e0b"/><rect x="166.4" y="121.0" width="7.9" height="7.9" fill="#1e0e0b"/><rect x="173.9" y="121.0" width="7.9" height="7.9" fill="#503428"/><rect x="181.5" y="121.0" width="7.9" height="7.9" fill="#503428"/><rect x="189.1" y="121.0" width="7.9" height="7.9" fill="#503428"/><rect x="196.6" y="121.0" width="7.9" height="7.9" fill="#7a6250"/><rect x="204.2" y="121.0" width="7.9" height="7.9" fill="#503428"/><rect x="211.8" y="121.0" width="7.9" height="7.9" fill="#503428"/><rect x="219.3" y="121.0" width="7.9" height="7.9" fill="#503428"/><rect x="226.9" y="121.0" width="7.9" height="7.9" fill="#321b15"/><rect x="234.4" y="121.0" width="7.9" height="7.9" fill="#503428"/><rect x="242.0" y="121.0" width="7.9" height="7.9" fill="#503428"/><rect x="-7.6" y="128.6" width="7.9" height="7.9" fill="#321b15"/><rect x="0.0" y="128.6" width="7.9" height="7.9" fill="#321b15"/><rect x="7.6" y="128.6" width="7.9" height="7.9" fill="#1e0e0b"/><rect x="15.1" y="128.6" width="7.9" height="7.9" fill="#1e0e0b"/><rect x="22.7" y="128.6" width="7.9" height="7.9" fill="#1e0e0b"/><rect x="30.2" y="128.6" width="7.9" height="7.9" fill="#1e0e0b"/><rect x="37.8" y="128.6" width="7.9" height="7.9" fill="#1e0e0b"/><rect x="45.4" y="128.6" width="7.9" height="7.9" fill="#1e0e0b"/><rect x="52.9" y="128.6" width="7.9" height="7.9" fill="#1e0e0b"/><rect x="60.5" y="128.6" width="7.9" height="7.9" fill="#321b15"/><rect x="68.1" y="128.6" width="7.9" height="7.9" fill="#503428"/><rect x="75.6" y="128.6" width="7.9" height="7.9" fill="#503428"/><rect x="83.2" y="128.6" width="7.9" height="7.9" fill="#6e6987"/><rect x="90.8" y="128.6" width="7.9" height="7.9" fill="#6e6987"/><rect x="98.3" y="128.6" width="7.9" height="7.9" fill="#503428"/><rect x="105.9" y="128.6" width="7.9" height="7.9" fill="#321b15"/><rect x="113.4" y="128.6" width="7.9" height="7.9" fill="#321b15"/><rect x="121.0" y="128.6" width="7.9" height="7.9" fill="#7a6250"/><rect x="128.6" y="128.6" width="7.9" height="7.9" fill="#503428"/><rect x="136.1" y="128.6" width="7.9" height="7.9" fill="#321b15"/><rect x="143.7" y="128.6" width="7.9" height="7.9" fill="#321b15"/><rect x="151.2" y="128.6" width="7.9" height="7.9" fill="#1e0e0b"/><rect x="158.8" y="128.6" width="7.9" height="7.9" fill="#1e0e0b"/><rect x="166.4" y="128.6" width="7.9" height="7.9" fill="#1e0e0b"/><rect x="173.9" y="128.6" width="7.9" height="7.9" fill="#503428"/><rect x="181.5" y="128.6" width="7.9" height="7.9" fill="#321b15"/><rect x="189.1" y="128.6" width="7.9" height="7.9" fill="#503428"/><rect x="196.6" y="128.6" width="7.9" height="7.9" fill="#503428"/><rect x="204.2" y="128.6" width="7.9" height="7.9" fill="#7a6250"/><rect x="211.8" y="128.6" width="7.9" height="7.9" fill="#503428"/><rect x="219.3" y="128.6" width="7.9" height="7.9" fill="#503428"/><rect x="226.9" y="128.6" width="7.9" height="7.9" fill="#503428"/><rect x="234.4" y="128.6" width="7.9" height="7.9" fill="#503428"/><rect x="242.0" y="128.6" width="7.9" height="7.9" fill="#503428"/><rect x="-7.6" y="136.1" width="7.9" height="7.9" fill="#321b15"/><rect x="0.0" y="136.1" width="7.9" height="7.9" fill="#321b15"/><rect x="7.6" y="136.1" width="7.9" height="7.9" fill="#503428"/><rect x="15.1" y="136.1" width="7.9" height="7.9" fill="#1e0e0b"/><rect x="22.7" y="136.1" width="7.9" height="7.9" fill="#1e0e0b"/><rect x="30.2" y="136.1" width="7.9" height="7.9" fill="#1e0e0b"/><rect x="37.8" y="136.1" width="7.9" height="7.9" fill="#1e0e0b"/><rect x="45.4" y="136.1" width="7.9" height="7.9" fill="#1e0e0b"/><rect x="52.9" y="136.1" width="7.9" height="7.9" fill="#1e0e0b"/><rect x="60.5" y="136.1" width="7.9" height="7.9" fill="#1e0e0b"/><rect x="68.1" y="136.1" width="7.9" height="7.9" fill="#1e0e0b"/><rect x="75.6" y="136.1" width="7.9" height="7.9" fill="#503428"/><rect x="83.2" y="136.1" width="7.9" height="7.9" fill="#1e0e0b"/><rect x="90.8" y="136.1" width="7.9" height="7.9" fill="#1e0e0b"/><rect x="98.3" y="136.1" width="7.9" height="7.9" fill="#1e0e0b"/><rect x="105.9" y="136.1" width="7.9" height="7.9" fill="#1e0e0b"/><rect x="113.4" y="136.1" width="7.9" height="7.9" fill="#1e0e0b"/><rect x="121.0" y="136.1" width="7.9" height="7.9" fill="#503428"/><rect x="128.6" y="136.1" width="7.9" height="7.9" fill="#321b15"/><rect x="136.1" y="136.1" width="7.9" height="7.9" fill="#503428"/><rect x="143.7" y="136.1" width="7.9" height="7.9" fill="#321b15"/><rect x="151.2" y="136.1" width="7.9" height="7.9" fill="#1e0e0b"/><rect x="158.8" y="136.1" width="7.9" height="7.9" fill="#1e0e0b"/><rect x="166.4" y="136.1" width="7.9" height="7.9" fill="#1e0e0b"/><rect x="173.9" y="136.1" width="7.9" height="7.9" fill="#503428"/><rect x="181.5" y="136.1" width="7.9" height="7.9" fill="#503428"/><rect x="189.1" y="136.1" width="7.9" height="7.9" fill="#7a6250"/><rect x="196.6" y="136.1" width="7.9" height="7.9" fill="#503428"/><rect x="204.2" y="136.1" width="7.9" height="7.9" fill="#503428"/><rect x="211.8" y="136.1" width="7.9" height="7.9" fill="#7a6250"/><rect x="219.3" y="136.1" width="7.9" height="7.9" fill="#503428"/><rect x="226.9" y="136.1" width="7.9" height="7.9" fill="#503428"/><rect x="234.4" y="136.1" width="7.9" height="7.9" fill="#7a6250"/><rect x="242.0" y="136.1" width="7.9" height="7.9" fill="#7a6250"/><rect x="-7.6" y="143.7" width="7.9" height="7.9" fill="#1e0e0b"/><rect x="0.0" y="143.7" width="7.9" height="7.9" fill="#1e0e0b"/><rect x="7.6" y="143.7" width="7.9" height="7.9" fill="#321b15"/><rect x="15.1" y="143.7" width="7.9" height="7.9" fill="#1e0e0b"/><rect x="22.7" y="143.7" width="7.9" height="7.9" fill="#1e0e0b"/><rect x="30.2" y="143.7" width="7.9" height="7.9" fill="#1e0e0b"/><rect x="37.8" y="143.7" width="7.9" height="7.9" fill="#1e0e0b"/><rect x="45.4" y="143.7" width="7.9" height="7.9" fill="#1e0e0b"/><rect x="52.9" y="143.7" width="7.9" height="7.9" fill="#1e0e0b"/><rect x="60.5" y="143.7" width="7.9" height="7.9" fill="#1e0e0b"/><rect x="68.1" y="143.7" width="7.9" height="7.9" fill="#1e0e0b"/><rect x="75.6" y="143.7" width="7.9" height="7.9" fill="#1e0e0b"/><rect x="83.2" y="143.7" width="7.9" height="7.9" fill="#503428"/><rect x="90.8" y="143.7" width="7.9" height="7.9" fill="#1e0e0b"/><rect x="98.3" y="143.7" width="7.9" height="7.9" fill="#1e0e0b"/><rect x="105.9" y="143.7" width="7.9" height="7.9" fill="#1e0e0b"/><rect x="113.4" y="143.7" width="7.9" height="7.9" fill="#1e0e0b"/><rect x="121.0" y="143.7" width="7.9" height="7.9" fill="#7a6250"/><rect x="128.6" y="143.7" width="7.9" height="7.9" fill="#503428"/><rect x="136.1" y="143.7" width="7.9" height="7.9" fill="#1e0e0b"/><rect x="143.7" y="143.7" width="7.9" height="7.9" fill="#1e0e0b"/><rect x="151.2" y="143.7" width="7.9" height="7.9" fill="#1e0e0b"/><rect x="158.8" y="143.7" width="7.9" height="7.9" fill="#1e0e0b"/><rect x="166.4" y="143.7" width="7.9" height="7.9" fill="#1e0e0b"/><rect x="173.9" y="143.7" width="7.9" height="7.9" fill="#503428"/><rect x="181.5" y="143.7" width="7.9" height="7.9" fill="#321b15"/><rect x="189.1" y="143.7" width="7.9" height="7.9" fill="#503428"/><rect x="196.6" y="143.7" width="7.9" height="7.9" fill="#503428"/><rect x="204.2" y="143.7" width="7.9" height="7.9" fill="#503428"/><rect x="211.8" y="143.7" width="7.9" height="7.9" fill="#503428"/><rect x="219.3" y="143.7" width="7.9" height="7.9" fill="#7a6250"/><rect x="226.9" y="143.7" width="7.9" height="7.9" fill="#503428"/><rect x="234.4" y="143.7" width="7.9" height="7.9" fill="#503428"/><rect x="242.0" y="143.7" width="7.9" height="7.9" fill="#503428"/><rect x="-7.6" y="151.2" width="7.9" height="7.9" fill="#503428"/><rect x="0.0" y="151.2" width="7.9" height="7.9" fill="#503428"/><rect x="7.6" y="151.2" width="7.9" height="7.9" fill="#503428"/><rect x="15.1" y="151.2" width="7.9" height="7.9" fill="#321b15"/><rect x="22.7" y="151.2" width="7.9" height="7.9" fill="#1e0e0b"/><rect x="30.2" y="151.2" width="7.9" height="7.9" fill="#1e0e0b"/><rect x="37.8" y="151.2" width="7.9" height="7.9" fill="#1e0e0b"/><rect x="45.4" y="151.2" width="7.9" height="7.9" fill="#321b15"/><rect x="52.9" y="151.2" width="7.9" height="7.9" fill="#503428"/><rect x="60.5" y="151.2" width="7.9" height="7.9" fill="#1e0e0b"/><rect x="68.1" y="151.2" width="7.9" height="7.9" fill="#1e0e0b"/><rect x="75.6" y="151.2" width="7.9" height="7.9" fill="#1e0e0b"/><rect x="83.2" y="151.2" width="7.9" height="7.9" fill="#503428"/><rect x="90.8" y="151.2" width="7.9" height="7.9" fill="#1e0e0b"/><rect x="98.3" y="151.2" width="7.9" height="7.9" fill="#1e0e0b"/><rect x="105.9" y="151.2" width="7.9" height="7.9" fill="#1e0e0b"/><rect x="113.4" y="151.2" width="7.9" height="7.9" fill="#1e0e0b"/><rect x="121.0" y="151.2" width="7.9" height="7.9" fill="#503428"/><rect x="128.6" y="151.2" width="7.9" height="7.9" fill="#503428"/><rect x="136.1" y="151.2" width="7.9" height="7.9" fill="#1e0e0b"/><rect x="143.7" y="151.2" width="7.9" height="7.9" fill="#503428"/><rect x="151.2" y="151.2" width="7.9" height="7.9" fill="#503428"/><rect x="158.8" y="151.2" width="7.9" height="7.9" fill="#503428"/><rect x="166.4" y="151.2" width="7.9" height="7.9" fill="#321b15"/><rect x="173.9" y="151.2" width="7.9" height="7.9" fill="#321b15"/><rect x="181.5" y="151.2" width="7.9" height="7.9" fill="#503428"/><rect x="189.1" y="151.2" width="7.9" height="7.9" fill="#503428"/><rect x="196.6" y="151.2" width="7.9" height="7.9" fill="#7a6250"/><rect x="204.2" y="151.2" width="7.9" height="7.9" fill="#503428"/><rect x="211.8" y="151.2" width="7.9" height="7.9" fill="#503428"/><rect x="219.3" y="151.2" width="7.9" height="7.9" fill="#503428"/><rect x="226.9" y="151.2" width="7.9" height="7.9" fill="#7a6250"/><rect x="234.4" y="151.2" width="7.9" height="7.9" fill="#503428"/><rect x="242.0" y="151.2" width="7.9" height="7.9" fill="#503428"/><rect x="-7.6" y="158.8" width="7.9" height="7.9" fill="#503428"/><rect x="0.0" y="158.8" width="7.9" height="7.9" fill="#503428"/><rect x="7.6" y="158.8" width="7.9" height="7.9" fill="#7a6250"/><rect x="15.1" y="158.8" width="7.9" height="7.9" fill="#503428"/><rect x="22.7" y="158.8" width="7.9" height="7.9" fill="#321b15"/><rect x="30.2" y="158.8" width="7.9" height="7.9" fill="#321b15"/><rect x="37.8" y="158.8" width="7.9" height="7.9" fill="#321b15"/><rect x="45.4" y="158.8" width="7.9" height="7.9" fill="#503428"/><rect x="52.9" y="158.8" width="7.9" height="7.9" fill="#503428"/><rect x="60.5" y="158.8" width="7.9" height="7.9" fill="#1e0e0b"/><rect x="68.1" y="158.8" width="7.9" height="7.9" fill="#1e0e0b"/><rect x="75.6" y="158.8" width="7.9" height="7.9" fill="#1e0e0b"/><rect x="83.2" y="158.8" width="7.9" height="7.9" fill="#1e0e0b"/><rect x="90.8" y="158.8" width="7.9" height="7.9" fill="#503428"/><rect x="98.3" y="158.8" width="7.9" height="7.9" fill="#1e0e0b"/><rect x="105.9" y="158.8" width="7.9" height="7.9" fill="#1e0e0b"/><rect x="113.4" y="158.8" width="7.9" height="7.9" fill="#1e0e0b"/><rect x="121.0" y="158.8" width="7.9" height="7.9" fill="#7a6250"/><rect x="128.6" y="158.8" width="7.9" height="7.9" fill="#503428"/><rect x="136.1" y="158.8" width="7.9" height="7.9" fill="#503428"/><rect x="143.7" y="158.8" width="7.9" height="7.9" fill="#503428"/><rect x="151.2" y="158.8" width="7.9" height="7.9" fill="#503428"/><rect x="158.8" y="158.8" width="7.9" height="7.9" fill="#503428"/><rect x="166.4" y="158.8" width="7.9" height="7.9" fill="#321b15"/><rect x="173.9" y="158.8" width="7.9" height="7.9" fill="#321b15"/><rect x="181.5" y="158.8" width="7.9" height="7.9" fill="#321b15"/><rect x="189.1" y="158.8" width="7.9" height="7.9" fill="#503428"/><rect x="196.6" y="158.8" width="7.9" height="7.9" fill="#503428"/><rect x="204.2" y="158.8" width="7.9" height="7.9" fill="#7a6250"/><rect x="211.8" y="158.8" width="7.9" height="7.9" fill="#503428"/><rect x="219.3" y="158.8" width="7.9" height="7.9" fill="#503428"/><rect x="226.9" y="158.8" width="7.9" height="7.9" fill="#503428"/><rect x="234.4" y="158.8" width="7.9" height="7.9" fill="#7a6250"/><rect x="242.0" y="158.8" width="7.9" height="7.9" fill="#7a6250"/><rect x="-7.6" y="166.4" width="7.9" height="7.9" fill="#503428"/><rect x="0.0" y="166.4" width="7.9" height="7.9" fill="#503428"/><rect x="7.6" y="166.4" width="7.9" height="7.9" fill="#503428"/><rect x="15.1" y="166.4" width="7.9" height="7.9" fill="#503428"/><rect x="22.7" y="166.4" width="7.9" height="7.9" fill="#503428"/><rect x="30.2" y="166.4" width="7.9" height="7.9" fill="#503428"/><rect x="37.8" y="166.4" width="7.9" height="7.9" fill="#503428"/><rect x="45.4" y="166.4" width="7.9" height="7.9" fill="#503428"/><rect x="52.9" y="166.4" width="7.9" height="7.9" fill="#503428"/><rect x="60.5" y="166.4" width="7.9" height="7.9" fill="#503428"/><rect x="68.1" y="166.4" width="7.9" height="7.9" fill="#1e0e0b"/><rect x="75.6" y="166.4" width="7.9" height="7.9" fill="#1e0e0b"/><rect x="83.2" y="166.4" width="7.9" height="7.9" fill="#1e0e0b"/><rect x="90.8" y="166.4" width="7.9" height="7.9" fill="#503428"/><rect x="98.3" y="166.4" width="7.9" height="7.9" fill="#321b15"/><rect x="105.9" y="166.4" width="7.9" height="7.9" fill="#1e0e0b"/><rect x="113.4" y="166.4" width="7.9" height="7.9" fill="#1e0e0b"/><rect x="121.0" y="166.4" width="7.9" height="7.9" fill="#503428"/><rect x="128.6" y="166.4" width="7.9" height="7.9" fill="#503428"/><rect x="136.1" y="166.4" width="7.9" height="7.9" fill="#321b15"/><rect x="143.7" y="166.4" width="7.9" height="7.9" fill="#321b15"/><rect x="151.2" y="166.4" width="7.9" height="7.9" fill="#503428"/><rect x="158.8" y="166.4" width="7.9" height="7.9" fill="#321b15"/><rect x="166.4" y="166.4" width="7.9" height="7.9" fill="#503428"/><rect x="173.9" y="166.4" width="7.9" height="7.9" fill="#503428"/><rect x="181.5" y="166.4" width="7.9" height="7.9" fill="#503428"/><rect x="189.1" y="166.4" width="7.9" height="7.9" fill="#321b15"/><rect x="196.6" y="166.4" width="7.9" height="7.9" fill="#503428"/><rect x="204.2" y="166.4" width="7.9" height="7.9" fill="#503428"/><rect x="211.8" y="166.4" width="7.9" height="7.9" fill="#7a6250"/><rect x="219.3" y="166.4" width="7.9" height="7.9" fill="#503428"/><rect x="226.9" y="166.4" width="7.9" height="7.9" fill="#503428"/><rect x="234.4" y="166.4" width="7.9" height="7.9" fill="#503428"/><rect x="242.0" y="166.4" width="7.9" height="7.9" fill="#503428"/><rect x="-7.6" y="173.9" width="7.9" height="7.9" fill="#321b15"/><rect x="0.0" y="173.9" width="7.9" height="7.9" fill="#321b15"/><rect x="7.6" y="173.9" width="7.9" height="7.9" fill="#623824"/><rect x="15.1" y="173.9" width="7.9" height="7.9" fill="#623824"/><rect x="22.7" y="173.9" width="7.9" height="7.9" fill="#623824"/><rect x="30.2" y="173.9" width="7.9" height="7.9" fill="#503428"/><rect x="37.8" y="173.9" width="7.9" height="7.9" fill="#503428"/><rect x="45.4" y="173.9" width="7.9" height="7.9" fill="#321b15"/><rect x="52.9" y="173.9" width="7.9" height="7.9" fill="#503428"/><rect x="60.5" y="173.9" width="7.9" height="7.9" fill="#503428"/><rect x="68.1" y="173.9" width="7.9" height="7.9" fill="#503428"/><rect x="75.6" y="173.9" width="7.9" height="7.9" fill="#321b15"/><rect x="83.2" y="173.9" width="7.9" height="7.9" fill="#321b15"/><rect x="90.8" y="173.9" width="7.9" height="7.9" fill="#321b15"/><rect x="98.3" y="173.9" width="7.9" height="7.9" fill="#503428"/><rect x="105.9" y="173.9" width="7.9" height="7.9" fill="#321b15"/><rect x="113.4" y="173.9" width="7.9" height="7.9" fill="#321b15"/><rect x="121.0" y="173.9" width="7.9" height="7.9" fill="#7a6250"/><rect x="128.6" y="173.9" width="7.9" height="7.9" fill="#503428"/><rect x="136.1" y="173.9" width="7.9" height="7.9" fill="#321b15"/><rect x="143.7" y="173.9" width="7.9" height="7.9" fill="#321b15"/><rect x="151.2" y="173.9" width="7.9" height="7.9" fill="#503428"/><rect x="158.8" y="173.9" width="7.9" height="7.9" fill="#503428"/><rect x="166.4" y="173.9" width="7.9" height="7.9" fill="#503428"/><rect x="173.9" y="173.9" width="7.9" height="7.9" fill="#503428"/><rect x="181.5" y="173.9" width="7.9" height="7.9" fill="#503428"/><rect x="189.1" y="173.9" width="7.9" height="7.9" fill="#503428"/><rect x="196.6" y="173.9" width="7.9" height="7.9" fill="#321b15"/><rect x="204.2" y="173.9" width="7.9" height="7.9" fill="#503428"/><rect x="211.8" y="173.9" width="7.9" height="7.9" fill="#503428"/><rect x="219.3" y="173.9" width="7.9" height="7.9" fill="#7a6250"/><rect x="226.9" y="173.9" width="7.9" height="7.9" fill="#503428"/><rect x="234.4" y="173.9" width="7.9" height="7.9" fill="#503428"/><rect x="242.0" y="173.9" width="7.9" height="7.9" fill="#503428"/><rect x="-7.6" y="181.5" width="7.9" height="7.9" fill="#503428"/><rect x="0.0" y="181.5" width="7.9" height="7.9" fill="#503428"/><rect x="7.6" y="181.5" width="7.9" height="7.9" fill="#623824"/><rect x="15.1" y="181.5" width="7.9" height="7.9" fill="#623824"/><rect x="22.7" y="181.5" width="7.9" height="7.9" fill="#623824"/><rect x="30.2" y="181.5" width="7.9" height="7.9" fill="#623824"/><rect x="37.8" y="181.5" width="7.9" height="7.9" fill="#623824"/><rect x="45.4" y="181.5" width="7.9" height="7.9" fill="#623824"/><rect x="52.9" y="181.5" width="7.9" height="7.9" fill="#503428"/><rect x="60.5" y="181.5" width="7.9" height="7.9" fill="#503428"/><rect x="68.1" y="181.5" width="7.9" height="7.9" fill="#623824"/><rect x="75.6" y="181.5" width="7.9" height="7.9" fill="#503428"/><rect x="83.2" y="181.5" width="7.9" height="7.9" fill="#623824"/><rect x="90.8" y="181.5" width="7.9" height="7.9" fill="#7a6250"/><rect x="98.3" y="181.5" width="7.9" height="7.9" fill="#503428"/><rect x="105.9" y="181.5" width="7.9" height="7.9" fill="#503428"/><rect x="113.4" y="181.5" width="7.9" height="7.9" fill="#7a6250"/><rect x="121.0" y="181.5" width="7.9" height="7.9" fill="#7a6250"/><rect x="128.6" y="181.5" width="7.9" height="7.9" fill="#503428"/><rect x="136.1" y="181.5" width="7.9" height="7.9" fill="#503428"/><rect x="143.7" y="181.5" width="7.9" height="7.9" fill="#321b15"/><rect x="151.2" y="181.5" width="7.9" height="7.9" fill="#321b15"/><rect x="158.8" y="181.5" width="7.9" height="7.9" fill="#503428"/><rect x="166.4" y="181.5" width="7.9" height="7.9" fill="#503428"/><rect x="173.9" y="181.5" width="7.9" height="7.9" fill="#503428"/><rect x="181.5" y="181.5" width="7.9" height="7.9" fill="#503428"/><rect x="189.1" y="181.5" width="7.9" height="7.9" fill="#503428"/><rect x="196.6" y="181.5" width="7.9" height="7.9" fill="#503428"/><rect x="204.2" y="181.5" width="7.9" height="7.9" fill="#503428"/><rect x="211.8" y="181.5" width="7.9" height="7.9" fill="#503428"/><rect x="219.3" y="181.5" width="7.9" height="7.9" fill="#503428"/><rect x="226.9" y="181.5" width="7.9" height="7.9" fill="#7a6250"/><rect x="234.4" y="181.5" width="7.9" height="7.9" fill="#503428"/><rect x="242.0" y="181.5" width="7.9" height="7.9" fill="#503428"/><rect x="-7.6" y="189.1" width="7.9" height="7.9" fill="#321b15"/><rect x="0.0" y="189.1" width="7.9" height="7.9" fill="#321b15"/><rect x="7.6" y="189.1" width="7.9" height="7.9" fill="#623824"/><rect x="15.1" y="189.1" width="7.9" height="7.9" fill="#623824"/><rect x="22.7" y="189.1" width="7.9" height="7.9" fill="#623824"/><rect x="30.2" y="189.1" width="7.9" height="7.9" fill="#321b15"/><rect x="37.8" y="189.1" width="7.9" height="7.9" fill="#623824"/><rect x="45.4" y="189.1" width="7.9" height="7.9" fill="#321b15"/><rect x="52.9" y="189.1" width="7.9" height="7.9" fill="#321b15"/><rect x="60.5" y="189.1" width="7.9" height="7.9" fill="#623824"/><rect x="68.1" y="189.1" width="7.9" height="7.9" fill="#503428"/><rect x="75.6" y="189.1" width="7.9" height="7.9" fill="#623824"/><rect x="83.2" y="189.1" width="7.9" height="7.9" fill="#623824"/><rect x="90.8" y="189.1" width="7.9" height="7.9" fill="#7a6250"/><rect x="98.3" y="189.1" width="7.9" height="7.9" fill="#503428"/><rect x="105.9" y="189.1" width="7.9" height="7.9" fill="#503428"/><rect x="113.4" y="189.1" width="7.9" height="7.9" fill="#503428"/><rect x="121.0" y="189.1" width="7.9" height="7.9" fill="#503428"/><rect x="128.6" y="189.1" width="7.9" height="7.9" fill="#321b15"/><rect x="136.1" y="189.1" width="7.9" height="7.9" fill="#503428"/><rect x="143.7" y="189.1" width="7.9" height="7.9" fill="#321b15"/><rect x="151.2" y="189.1" width="7.9" height="7.9" fill="#321b15"/><rect x="158.8" y="189.1" width="7.9" height="7.9" fill="#503428"/><rect x="166.4" y="189.1" width="7.9" height="7.9" fill="#503428"/><rect x="173.9" y="189.1" width="7.9" height="7.9" fill="#7a6250"/><rect x="181.5" y="189.1" width="7.9" height="7.9" fill="#503428"/><rect x="189.1" y="189.1" width="7.9" height="7.9" fill="#321b15"/><rect x="196.6" y="189.1" width="7.9" height="7.9" fill="#503428"/><rect x="204.2" y="189.1" width="7.9" height="7.9" fill="#503428"/><rect x="211.8" y="189.1" width="7.9" height="7.9" fill="#503428"/><rect x="219.3" y="189.1" width="7.9" height="7.9" fill="#7a6250"/><rect x="226.9" y="189.1" width="7.9" height="7.9" fill="#503428"/><rect x="234.4" y="189.1" width="7.9" height="7.9" fill="#503428"/><rect x="242.0" y="189.1" width="7.9" height="7.9" fill="#503428"/><rect x="-7.6" y="196.6" width="7.9" height="7.9" fill="#321b15"/><rect x="0.0" y="196.6" width="7.9" height="7.9" fill="#321b15"/><rect x="7.6" y="196.6" width="7.9" height="7.9" fill="#623824"/><rect x="15.1" y="196.6" width="7.9" height="7.9" fill="#623824"/><rect x="22.7" y="196.6" width="7.9" height="7.9" fill="#321b15"/><rect x="30.2" y="196.6" width="7.9" height="7.9" fill="#321b15"/><rect x="37.8" y="196.6" width="7.9" height="7.9" fill="#623824"/><rect x="45.4" y="196.6" width="7.9" height="7.9" fill="#1e0e0b"/><rect x="52.9" y="196.6" width="7.9" height="7.9" fill="#623824"/><rect x="60.5" y="196.6" width="7.9" height="7.9" fill="#623824"/><rect x="68.1" y="196.6" width="7.9" height="7.9" fill="#623824"/><rect x="75.6" y="196.6" width="7.9" height="7.9" fill="#623824"/><rect x="83.2" y="196.6" width="7.9" height="7.9" fill="#503428"/><rect x="90.8" y="196.6" width="7.9" height="7.9" fill="#503428"/><rect x="98.3" y="196.6" width="7.9" height="7.9" fill="#7a6250"/><rect x="105.9" y="196.6" width="7.9" height="7.9" fill="#503428"/><rect x="113.4" y="196.6" width="7.9" height="7.9" fill="#503428"/><rect x="121.0" y="196.6" width="7.9" height="7.9" fill="#503428"/><rect x="128.6" y="196.6" width="7.9" height="7.9" fill="#503428"/><rect x="136.1" y="196.6" width="7.9" height="7.9" fill="#503428"/><rect x="143.7" y="196.6" width="7.9" height="7.9" fill="#503428"/><rect x="151.2" y="196.6" width="7.9" height="7.9" fill="#321b15"/><rect x="158.8" y="196.6" width="7.9" height="7.9" fill="#503428"/><rect x="166.4" y="196.6" width="7.9" height="7.9" fill="#503428"/><rect x="173.9" y="196.6" width="7.9" height="7.9" fill="#503428"/><rect x="181.5" y="196.6" width="7.9" height="7.9" fill="#503428"/><rect x="189.1" y="196.6" width="7.9" height="7.9" fill="#503428"/><rect x="196.6" y="196.6" width="7.9" height="7.9" fill="#503428"/><rect x="204.2" y="196.6" width="7.9" height="7.9" fill="#503428"/><rect x="211.8" y="196.6" width="7.9" height="7.9" fill="#7a6250"/><rect x="219.3" y="196.6" width="7.9" height="7.9" fill="#503428"/><rect x="226.9" y="196.6" width="7.9" height="7.9" fill="#503428"/><rect x="234.4" y="196.6" width="7.9" height="7.9" fill="#6e6987"/><rect x="242.0" y="196.6" width="7.9" height="7.9" fill="#6e6987"/><rect x="-7.6" y="204.2" width="7.9" height="7.9" fill="#623824"/><rect x="0.0" y="204.2" width="7.9" height="7.9" fill="#623824"/><rect x="7.6" y="204.2" width="7.9" height="7.9" fill="#623824"/><rect x="15.1" y="204.2" width="7.9" height="7.9" fill="#623824"/><rect x="22.7" y="204.2" width="7.9" height="7.9" fill="#321b15"/><rect x="30.2" y="204.2" width="7.9" height="7.9" fill="#321b15"/><rect x="37.8" y="204.2" width="7.9" height="7.9" fill="#321b15"/><rect x="45.4" y="204.2" width="7.9" height="7.9" fill="#1e0e0b"/><rect x="52.9" y="204.2" width="7.9" height="7.9" fill="#1e0e0b"/><rect x="60.5" y="204.2" width="7.9" height="7.9" fill="#623824"/><rect x="68.1" y="204.2" width="7.9" height="7.9" fill="#623824"/><rect x="75.6" y="204.2" width="7.9" height="7.9" fill="#623824"/><rect x="83.2" y="204.2" width="7.9" height="7.9" fill="#503428"/><rect x="90.8" y="204.2" width="7.9" height="7.9" fill="#503428"/><rect x="98.3" y="204.2" width="7.9" height="7.9" fill="#503428"/><rect x="105.9" y="204.2" width="7.9" height="7.9" fill="#7a6250"/><rect x="113.4" y="204.2" width="7.9" height="7.9" fill="#503428"/><rect x="121.0" y="204.2" width="7.9" height="7.9" fill="#7a6250"/><rect x="128.6" y="204.2" width="7.9" height="7.9" fill="#503428"/><rect x="136.1" y="204.2" width="7.9" height="7.9" fill="#503428"/><rect x="143.7" y="204.2" width="7.9" height="7.9" fill="#503428"/><rect x="151.2" y="204.2" width="7.9" height="7.9" fill="#503428"/><rect x="158.8" y="204.2" width="7.9" height="7.9" fill="#7a6250"/><rect x="166.4" y="204.2" width="7.9" height="7.9" fill="#503428"/><rect x="173.9" y="204.2" width="7.9" height="7.9" fill="#503428"/><rect x="181.5" y="204.2" width="7.9" height="7.9" fill="#321b15"/><rect x="189.1" y="204.2" width="7.9" height="7.9" fill="#503428"/><rect x="196.6" y="204.2" width="7.9" height="7.9" fill="#321b15"/><rect x="204.2" y="204.2" width="7.9" height="7.9" fill="#503428"/><rect x="211.8" y="204.2" width="7.9" height="7.9" fill="#7a6250"/><rect x="219.3" y="204.2" width="7.9" height="7.9" fill="#503428"/><rect x="226.9" y="204.2" width="7.9" height="7.9" fill="#503428"/><rect x="234.4" y="204.2" width="7.9" height="7.9" fill="#6e6987"/><rect x="242.0" y="204.2" width="7.9" height="7.9" fill="#6e6987"/><rect x="-7.6" y="211.8" width="7.9" height="7.9" fill="#623824"/><rect x="0.0" y="211.8" width="7.9" height="7.9" fill="#623824"/><rect x="7.6" y="211.8" width="7.9" height="7.9" fill="#623824"/><rect x="15.1" y="211.8" width="7.9" height="7.9" fill="#623824"/><rect x="22.7" y="211.8" width="7.9" height="7.9" fill="#623824"/><rect x="30.2" y="211.8" width="7.9" height="7.9" fill="#623824"/><rect x="37.8" y="211.8" width="7.9" height="7.9" fill="#623824"/><rect x="45.4" y="211.8" width="7.9" height="7.9" fill="#623824"/><rect x="52.9" y="211.8" width="7.9" height="7.9" fill="#623824"/><rect x="60.5" y="211.8" width="7.9" height="7.9" fill="#623824"/><rect x="68.1" y="211.8" width="7.9" height="7.9" fill="#623824"/><rect x="75.6" y="211.8" width="7.9" height="7.9" fill="#321b15"/><rect x="83.2" y="211.8" width="7.9" height="7.9" fill="#503428"/><rect x="90.8" y="211.8" width="7.9" height="7.9" fill="#321b15"/><rect x="98.3" y="211.8" width="7.9" height="7.9" fill="#503428"/><rect x="105.9" y="211.8" width="7.9" height="7.9" fill="#503428"/><rect x="113.4" y="211.8" width="7.9" height="7.9" fill="#7a6250"/><rect x="121.0" y="211.8" width="7.9" height="7.9" fill="#503428"/><rect x="128.6" y="211.8" width="7.9" height="7.9" fill="#321b15"/><rect x="136.1" y="211.8" width="7.9" height="7.9" fill="#503428"/><rect x="143.7" y="211.8" width="7.9" height="7.9" fill="#503428"/><rect x="151.2" y="211.8" width="7.9" height="7.9" fill="#321b15"/><rect x="158.8" y="211.8" width="7.9" height="7.9" fill="#503428"/><rect x="166.4" y="211.8" width="7.9" height="7.9" fill="#7a6250"/><rect x="173.9" y="211.8" width="7.9" height="7.9" fill="#503428"/><rect x="181.5" y="211.8" width="7.9" height="7.9" fill="#7a6250"/><rect x="189.1" y="211.8" width="7.9" height="7.9" fill="#503428"/><rect x="196.6" y="211.8" width="7.9" height="7.9" fill="#503428"/><rect x="204.2" y="211.8" width="7.9" height="7.9" fill="#7a6250"/><rect x="211.8" y="211.8" width="7.9" height="7.9" fill="#503428"/><rect x="219.3" y="211.8" width="7.9" height="7.9" fill="#503428"/><rect x="226.9" y="211.8" width="7.9" height="7.9" fill="#321b15"/><rect x="234.4" y="211.8" width="7.9" height="7.9" fill="#503428"/><rect x="242.0" y="211.8" width="7.9" height="7.9" fill="#503428"/><rect x="-7.6" y="219.3" width="7.9" height="7.9" fill="#623824"/><rect x="0.0" y="219.3" width="7.9" height="7.9" fill="#623824"/><rect x="7.6" y="219.3" width="7.9" height="7.9" fill="#623824"/><rect x="15.1" y="219.3" width="7.9" height="7.9" fill="#321b15"/><rect x="22.7" y="219.3" width="7.9" height="7.9" fill="#623824"/><rect x="30.2" y="219.3" width="7.9" height="7.9" fill="#623824"/><rect x="37.8" y="219.3" width="7.9" height="7.9" fill="#623824"/><rect x="45.4" y="219.3" width="7.9" height="7.9" fill="#321b15"/><rect x="52.9" y="219.3" width="7.9" height="7.9" fill="#623824"/><rect x="60.5" y="219.3" width="7.9" height="7.9" fill="#623824"/><rect x="68.1" y="219.3" width="7.9" height="7.9" fill="#321b15"/><rect x="75.6" y="219.3" width="7.9" height="7.9" fill="#321b15"/><rect x="83.2" y="219.3" width="7.9" height="7.9" fill="#321b15"/><rect x="90.8" y="219.3" width="7.9" height="7.9" fill="#503428"/><rect x="98.3" y="219.3" width="7.9" height="7.9" fill="#321b15"/><rect x="105.9" y="219.3" width="7.9" height="7.9" fill="#503428"/><rect x="113.4" y="219.3" width="7.9" height="7.9" fill="#503428"/><rect x="121.0" y="219.3" width="7.9" height="7.9" fill="#321b15"/><rect x="128.6" y="219.3" width="7.9" height="7.9" fill="#321b15"/><rect x="136.1" y="219.3" width="7.9" height="7.9" fill="#503428"/><rect x="143.7" y="219.3" width="7.9" height="7.9" fill="#321b15"/><rect x="151.2" y="219.3" width="7.9" height="7.9" fill="#321b15"/><rect x="158.8" y="219.3" width="7.9" height="7.9" fill="#321b15"/><rect x="166.4" y="219.3" width="7.9" height="7.9" fill="#503428"/><rect x="173.9" y="219.3" width="7.9" height="7.9" fill="#503428"/><rect x="181.5" y="219.3" width="7.9" height="7.9" fill="#503428"/><rect x="189.1" y="219.3" width="7.9" height="7.9" fill="#7a6250"/><rect x="196.6" y="219.3" width="7.9" height="7.9" fill="#503428"/><rect x="204.2" y="219.3" width="7.9" height="7.9" fill="#503428"/><rect x="211.8" y="219.3" width="7.9" height="7.9" fill="#321b15"/><rect x="219.3" y="219.3" width="7.9" height="7.9" fill="#503428"/><rect x="226.9" y="219.3" width="7.9" height="7.9" fill="#321b15"/><rect x="234.4" y="219.3" width="7.9" height="7.9" fill="#503428"/><rect x="242.0" y="219.3" width="7.9" height="7.9" fill="#503428"/><rect x="-7.6" y="226.9" width="7.9" height="7.9" fill="#623824"/><rect x="0.0" y="226.9" width="7.9" height="7.9" fill="#623824"/><rect x="7.6" y="226.9" width="7.9" height="7.9" fill="#321b15"/><rect x="15.1" y="226.9" width="7.9" height="7.9" fill="#1e0e0b"/><rect x="22.7" y="226.9" width="7.9" height="7.9" fill="#623824"/><rect x="30.2" y="226.9" width="7.9" height="7.9" fill="#623824"/><rect x="37.8" y="226.9" width="7.9" height="7.9" fill="#1e0e0b"/><rect x="45.4" y="226.9" width="7.9" height="7.9" fill="#623824"/><rect x="52.9" y="226.9" width="7.9" height="7.9" fill="#321b15"/><rect x="60.5" y="226.9" width="7.9" height="7.9" fill="#503428"/><rect x="68.1" y="226.9" width="7.9" height="7.9" fill="#503428"/><rect x="75.6" y="226.9" width="7.9" height="7.9" fill="#503428"/><rect x="83.2" y="226.9" width="7.9" height="7.9" fill="#321b15"/><rect x="90.8" y="226.9" width="7.9" height="7.9" fill="#321b15"/><rect x="98.3" y="226.9" width="7.9" height="7.9" fill="#503428"/><rect x="105.9" y="226.9" width="7.9" height="7.9" fill="#321b15"/><rect x="113.4" y="226.9" width="7.9" height="7.9" fill="#503428"/><rect x="121.0" y="226.9" width="7.9" height="7.9" fill="#321b15"/><rect x="128.6" y="226.9" width="7.9" height="7.9" fill="#321b15"/><rect x="136.1" y="226.9" width="7.9" height="7.9" fill="#321b15"/><rect x="143.7" y="226.9" width="7.9" height="7.9" fill="#321b15"/><rect x="151.2" y="226.9" width="7.9" height="7.9" fill="#321b15"/><rect x="158.8" y="226.9" width="7.9" height="7.9" fill="#321b15"/><rect x="166.4" y="226.9" width="7.9" height="7.9" fill="#321b15"/><rect x="173.9" y="226.9" width="7.9" height="7.9" fill="#321b15"/><rect x="181.5" y="226.9" width="7.9" height="7.9" fill="#321b15"/><rect x="189.1" y="226.9" width="7.9" height="7.9" fill="#321b15"/><rect x="196.6" y="226.9" width="7.9" height="7.9" fill="#321b15"/><rect x="204.2" y="226.9" width="7.9" height="7.9" fill="#503428"/><rect x="211.8" y="226.9" width="7.9" height="7.9" fill="#321b15"/><rect x="219.3" y="226.9" width="7.9" height="7.9" fill="#321b15"/><rect x="226.9" y="226.9" width="7.9" height="7.9" fill="#321b15"/><rect x="234.4" y="226.9" width="7.9" height="7.9" fill="#503428"/><rect x="242.0" y="226.9" width="7.9" height="7.9" fill="#503428"/><rect x="-7.6" y="234.4" width="7.9" height="7.9" fill="#623824"/><rect x="0.0" y="234.4" width="7.9" height="7.9" fill="#623824"/><rect x="7.6" y="234.4" width="7.9" height="7.9" fill="#321b15"/><rect x="15.1" y="234.4" width="7.9" height="7.9" fill="#1e0e0b"/><rect x="22.7" y="234.4" width="7.9" height="7.9" fill="#623824"/><rect x="30.2" y="234.4" width="7.9" height="7.9" fill="#623824"/><rect x="37.8" y="234.4" width="7.9" height="7.9" fill="#1e0e0b"/><rect x="45.4" y="234.4" width="7.9" height="7.9" fill="#623824"/><rect x="52.9" y="234.4" width="7.9" height="7.9" fill="#1e0e0b"/><rect x="60.5" y="234.4" width="7.9" height="7.9" fill="#503428"/><rect x="68.1" y="234.4" width="7.9" height="7.9" fill="#503428"/><rect x="75.6" y="234.4" width="7.9" height="7.9" fill="#503428"/><rect x="83.2" y="234.4" width="7.9" height="7.9" fill="#321b15"/><rect x="90.8" y="234.4" width="7.9" height="7.9" fill="#503428"/><rect x="98.3" y="234.4" width="7.9" height="7.9" fill="#321b15"/><rect x="105.9" y="234.4" width="7.9" height="7.9" fill="#503428"/><rect x="113.4" y="234.4" width="7.9" height="7.9" fill="#503428"/><rect x="121.0" y="234.4" width="7.9" height="7.9" fill="#321b15"/><rect x="128.6" y="234.4" width="7.9" height="7.9" fill="#1e0e0b"/><rect x="136.1" y="234.4" width="7.9" height="7.9" fill="#321b15"/><rect x="143.7" y="234.4" width="7.9" height="7.9" fill="#321b15"/><rect x="151.2" y="234.4" width="7.9" height="7.9" fill="#321b15"/><rect x="158.8" y="234.4" width="7.9" height="7.9" fill="#321b15"/><rect x="166.4" y="234.4" width="7.9" height="7.9" fill="#321b15"/><rect x="173.9" y="234.4" width="7.9" height="7.9" fill="#321b15"/><rect x="181.5" y="234.4" width="7.9" height="7.9" fill="#321b15"/><rect x="189.1" y="234.4" width="7.9" height="7.9" fill="#321b15"/><rect x="196.6" y="234.4" width="7.9" height="7.9" fill="#321b15"/><rect x="204.2" y="234.4" width="7.9" height="7.9" fill="#321b15"/><rect x="211.8" y="234.4" width="7.9" height="7.9" fill="#503428"/><rect x="219.3" y="234.4" width="7.9" height="7.9" fill="#321b15"/><rect x="226.9" y="234.4" width="7.9" height="7.9" fill="#321b15"/><rect x="234.4" y="234.4" width="7.9" height="7.9" fill="#321b15"/><rect x="242.0" y="234.4" width="7.9" height="7.9" fill="#321b15"/><rect x="-7.6" y="242.0" width="7.9" height="7.9" fill="#623824"/><rect x="0.0" y="242.0" width="7.9" height="7.9" fill="#623824"/><rect x="7.6" y="242.0" width="7.9" height="7.9" fill="#321b15"/><rect x="15.1" y="242.0" width="7.9" height="7.9" fill="#1e0e0b"/><rect x="22.7" y="242.0" width="7.9" height="7.9" fill="#623824"/><rect x="30.2" y="242.0" width="7.9" height="7.9" fill="#623824"/><rect x="37.8" y="242.0" width="7.9" height="7.9" fill="#1e0e0b"/><rect x="45.4" y="242.0" width="7.9" height="7.9" fill="#623824"/><rect x="52.9" y="242.0" width="7.9" height="7.9" fill="#1e0e0b"/><rect x="60.5" y="242.0" width="7.9" height="7.9" fill="#503428"/><rect x="68.1" y="242.0" width="7.9" height="7.9" fill="#503428"/><rect x="75.6" y="242.0" width="7.9" height="7.9" fill="#503428"/><rect x="83.2" y="242.0" width="7.9" height="7.9" fill="#321b15"/><rect x="90.8" y="242.0" width="7.9" height="7.9" fill="#503428"/><rect x="98.3" y="242.0" width="7.9" height="7.9" fill="#321b15"/><rect x="105.9" y="242.0" width="7.9" height="7.9" fill="#503428"/><rect x="113.4" y="242.0" width="7.9" height="7.9" fill="#503428"/><rect x="121.0" y="242.0" width="7.9" height="7.9" fill="#321b15"/><rect x="128.6" y="242.0" width="7.9" height="7.9" fill="#1e0e0b"/><rect x="136.1" y="242.0" width="7.9" height="7.9" fill="#321b15"/><rect x="143.7" y="242.0" width="7.9" height="7.9" fill="#321b15"/><rect x="151.2" y="242.0" width="7.9" height="7.9" fill="#321b15"/><rect x="158.8" y="242.0" width="7.9" height="7.9" fill="#321b15"/><rect x="166.4" y="242.0" width="7.9" height="7.9" fill="#321b15"/><rect x="173.9" y="242.0" width="7.9" height="7.9" fill="#321b15"/><rect x="181.5" y="242.0" width="7.9" height="7.9" fill="#321b15"/><rect x="189.1" y="242.0" width="7.9" height="7.9" fill="#321b15"/><rect x="196.6" y="242.0" width="7.9" height="7.9" fill="#321b15"/><rect x="204.2" y="242.0" width="7.9" height="7.9" fill="#321b15"/><rect x="211.8" y="242.0" width="7.9" height="7.9" fill="#503428"/><rect x="219.3" y="242.0" width="7.9" height="7.9" fill="#321b15"/><rect x="226.9" y="242.0" width="7.9" height="7.9" fill="#321b15"/><rect x="234.4" y="242.0" width="7.9" height="7.9" fill="#321b15"/><rect x="242.0" y="242.0" width="7.9" height="7.9" fill="#321b15"/></g><g filter="url(#p3b2)"><polyline points="182.8,-2.4 178.8,23.6 170.8,73.6 164.8,111.6" fill="none" stroke="#a08a74" stroke-opacity="0.50" stroke-width="2.0" stroke-linejoin="round" stroke-linecap="round"/><polyline points="199.8,-2.4 195.4,23.6 186.3,73.6 179.8,111.6" fill="none" stroke="#a08a74" stroke-opacity="0.50" stroke-width="2.0" stroke-linejoin="round" stroke-linecap="round"/><polyline points="76.8,134.6 85.8,150.6 94.8,167.6" fill="none" stroke="#a08a78" stroke-opacity="0.40" stroke-width="2.0" stroke-linejoin="round" stroke-linecap="round"/><polyline points="17.8,99.6 27.8,90.6 37.8,83.6 47.8,78.6 59.8,75.6 77.8,78.6 92.8,85.6 107.8,94.6 121.8,102.6 133.8,110.6" fill="none" stroke="#a08a78" stroke-opacity="0.55" stroke-width="3.5" stroke-linejoin="round" stroke-linecap="round"/><polygon points="8.3,176.6 17.3,176.6 17.3,210.1 8.3,210.1" fill="#dcd8bc"/><polygon points="16.8,177.9 35.8,177.9 35.8,184.6 16.8,184.6" fill="#aab0e4"/><polygon points="23.6,183.6 34.8,183.6 34.8,242.1 23.6,242.1" fill="#9ea2d8"/><polygon points="34.8,186.6 41.8,188.1 85.4,197.1 88.3,198.6 84.8,203.1 79.2,204.6 41.8,195.4 34.8,193.6" fill="#b0b2ea"/><polygon points="78.8,197.1 88.3,198.1 79.8,219.6 70.3,219.6" fill="#aaaee6"/><polygon points="-1.2,217.6 79.2,217.6 79.2,227.6 -1.2,227.6" fill="#b4b6ec"/><polygon points="-1.2,219.6 6.3,219.6 6.3,242.6 -1.2,242.6" fill="#9a9ed8"/></g><rect width="242" height="242" fill="#000" fill-opacity="0.28"/></g></svg></div>
<svg width="550" height="276" viewBox="0 0 396 198.72" style="position:absolute;left:0;top:0"><g id="dots3d"><circle cx="311.954595" cy="95.834385" r="0.936" fill="#2393dc" fill-opacity="0.700"/><circle cx="308.013633" cy="97.802709" r="0.936" fill="#2393dc" fill-opacity="0.709"/><circle cx="315.895556" cy="97.802709" r="0.936" fill="#2393dc" fill-opacity="0.709"/><circle cx="304.044006" cy="99.785351" r="0.936" fill="#2393dc" fill-opacity="0.718"/><circle cx="311.954595" cy="99.785351" r="0.936" fill="#2393dc" fill-opacity="0.718"/><circle cx="319.865183" cy="99.785351" r="0.936" fill="#2393dc" fill-opacity="0.718"/><circle cx="300.0454" cy="101.782466" r="0.936" fill="#2393dc" fill-opacity="0.727"/><circle cx="307.984863" cy="101.782466" r="0.936" fill="#2393dc" fill-opacity="0.727"/><circle cx="315.924326" cy="101.782466" r="0.936" fill="#2393dc" fill-opacity="0.727"/><circle cx="323.86379" cy="101.782466" r="0.936" fill="#2393dc" fill-opacity="0.727"/><circle cx="303.986045" cy="103.794215" r="0.936" fill="#2393dc" fill-opacity="0.736"/><circle cx="319.923145" cy="103.794215" r="0.936" fill="#2393dc" fill-opacity="0.736"/><circle cx="311.954595" cy="103.794215" r="0.936" fill="#2393dc" fill-opacity="0.736"/><circle cx="296.017495" cy="103.794215" r="0.936" fill="#2393dc" fill-opacity="0.736"/><circle cx="327.891695" cy="103.794215" r="0.936" fill="#2393dc" fill-opacity="0.736"/><circle cx="299.957819" cy="105.820759" r="0.936" fill="#2393dc" fill-opacity="0.745"/><circle cx="315.95352" cy="105.820759" r="0.936" fill="#2393dc" fill-opacity="0.745"/><circle cx="307.955669" cy="105.820759" r="0.936" fill="#2393dc" fill-opacity="0.745"/><circle cx="323.951371" cy="105.820759" r="0.936" fill="#2393dc" fill-opacity="0.745"/><circle cx="291.959968" cy="105.820759" r="0.936" fill="#2393dc" fill-opacity="0.745"/><circle cx="331.949221" cy="105.820759" r="0.936" fill="#2393dc" fill-opacity="0.745"/><circle cx="287.872492" cy="107.86226" r="0.936" fill="#2393dc" fill-opacity="0.755"/><circle cx="303.927227" cy="107.86226" r="0.936" fill="#2393dc" fill-opacity="0.755"/><circle cx="295.899859" cy="107.86226" r="0.936" fill="#2393dc" fill-opacity="0.755"/><circle cx="319.981962" cy="107.86226" r="0.936" fill="#2393dc" fill-opacity="0.755"/><circle cx="311.954595" cy="107.86226" r="0.936" fill="#2393dc" fill-opacity="0.755"/><circle cx="336.036697" cy="107.86226" r="0.936" fill="#2393dc" fill-opacity="0.755"/><circle cx="328.00933" cy="107.86226" r="0.936" fill="#2393dc" fill-opacity="0.755"/><circle cx="283.754733" cy="109.918886" r="0.936" fill="#2393dc" fill-opacity="0.764"/><circle cx="291.811837" cy="109.918886" r="0.936" fill="#2393dc" fill-opacity="0.764"/><circle cx="299.86894" cy="109.918886" r="0.936" fill="#2393dc" fill-opacity="0.764"/><circle cx="307.926043" cy="109.918886" r="0.936" fill="#2393dc" fill-opacity="0.764"/><circle cx="324.040249" cy="109.918886" r="0.936" fill="#2393dc" fill-opacity="0.764"/><circle cx="315.983146" cy="109.918886" r="0.936" fill="#2393dc" fill-opacity="0.764"/><circle cx="340.154456" cy="109.918886" r="0.936" fill="#2393dc" fill-opacity="0.764"/><circle cx="332.097353" cy="109.918886" r="0.936" fill="#2393dc" fill-opacity="0.764"/><circle cx="336.215774" cy="111.990806" r="0.936" fill="#2393dc" fill-opacity="0.773"/><circle cx="320.041654" cy="111.990806" r="0.936" fill="#2393dc" fill-opacity="0.773"/><circle cx="311.954595" cy="111.990806" r="0.936" fill="#2393dc" fill-opacity="0.773"/><circle cx="328.128714" cy="111.990806" r="0.936" fill="#2393dc" fill-opacity="0.773"/><circle cx="303.867535" cy="111.990806" r="0.936" fill="#2393dc" fill-opacity="0.773"/><circle cx="279.606355" cy="111.990806" r="0.936" fill="#2393dc" fill-opacity="0.773"/><circle cx="287.693415" cy="111.990806" r="0.936" fill="#2393dc" fill-opacity="0.773"/><circle cx="295.780475" cy="111.990806" r="0.936" fill="#2393dc" fill-opacity="0.773"/><circle cx="344.302834" cy="111.990806" r="0.936" fill="#2393dc" fill-opacity="0.773"/><circle cx="291.661494" cy="114.07819" r="0.936" fill="#2393dc" fill-opacity="0.783"/><circle cx="324.130455" cy="114.07819" r="0.936" fill="#2393dc" fill-opacity="0.783"/><circle cx="299.778734" cy="114.07819" r="0.936" fill="#2393dc" fill-opacity="0.783"/><circle cx="307.895975" cy="114.07819" r="0.936" fill="#2393dc" fill-opacity="0.783"/><circle cx="316.013215" cy="114.07819" r="0.936" fill="#2393dc" fill-opacity="0.783"/><circle cx="275.427014" cy="114.07819" r="0.936" fill="#2393dc" fill-opacity="0.783"/><circle cx="283.544254" cy="114.07819" r="0.936" fill="#2393dc" fill-opacity="0.783"/><circle cx="340.364935" cy="114.07819" r="0.936" fill="#2393dc" fill-opacity="0.783"/><circle cx="348.482175" cy="114.07819" r="0.936" fill="#2393dc" fill-opacity="0.783"/><circle cx="332.247695" cy="114.07819" r="0.936" fill="#2393dc" fill-opacity="0.783"/><circle cx="279.364008" cy="116.181212" r="0.936" fill="#2393dc" fill-opacity="0.793"/><circle cx="311.954595" cy="116.181212" r="0.936" fill="#2393dc" fill-opacity="0.793"/><circle cx="320.102241" cy="116.181212" r="0.936" fill="#2393dc" fill-opacity="0.793"/><circle cx="328.249888" cy="116.181212" r="0.936" fill="#2393dc" fill-opacity="0.793"/><circle cx="303.806948" cy="116.181212" r="0.936" fill="#2393dc" fill-opacity="0.793"/><circle cx="336.397534" cy="116.181212" r="0.936" fill="#2393dc" fill-opacity="0.793"/><circle cx="287.511655" cy="116.181212" r="0.936" fill="#2393dc" fill-opacity="0.793"/><circle cx="295.659301" cy="116.181212" r="0.936" fill="#2393dc" fill-opacity="0.793"/><circle cx="271.216362" cy="116.181212" r="0.936" fill="#2393dc" fill-opacity="0.793"/><circle cx="352.692828" cy="116.181212" r="0.936" fill="#2393dc" fill-opacity="0.793"/><circle cx="344.545181" cy="116.181212" r="0.936" fill="#2393dc" fill-opacity="0.793"/><circle cx="299.687172" cy="118.300049" r="0.936" fill="#2393dc" fill-opacity="0.802"/><circle cx="307.865454" cy="118.300049" r="0.936" fill="#2393dc" fill-opacity="0.802"/><circle cx="266.974045" cy="118.300049" r="0.936" fill="#2393dc" fill-opacity="0.802"/><circle cx="275.152327" cy="118.300049" r="0.936" fill="#2393dc" fill-opacity="0.802"/><circle cx="356.935144" cy="118.300049" r="0.936" fill="#2393dc" fill-opacity="0.802"/><circle cx="348.756862" cy="118.300049" r="0.936" fill="#2393dc" fill-opacity="0.802"/><circle cx="340.57858" cy="118.300049" r="0.936" fill="#2393dc" fill-opacity="0.802"/><circle cx="332.400299" cy="118.300049" r="0.936" fill="#2393dc" fill-opacity="0.802"/><circle cx="316.043735" cy="118.300049" r="0.936" fill="#2393dc" fill-opacity="0.802"/><circle cx="324.222017" cy="118.300049" r="0.936" fill="#2393dc" fill-opacity="0.802"/><circle cx="283.330609" cy="118.300049" r="0.936" fill="#2393dc" fill-opacity="0.802"/><circle cx="291.50889" cy="118.300049" r="0.936" fill="#2393dc" fill-opacity="0.802"/><circle cx="287.327151" cy="120.43488" r="0.936" fill="#2393dc" fill-opacity="0.812"/><circle cx="262.699707" cy="120.43488" r="0.936" fill="#2393dc" fill-opacity="0.812"/><circle cx="320.163743" cy="120.43488" r="0.936" fill="#2393dc" fill-opacity="0.812"/><circle cx="361.209482" cy="120.43488" r="0.936" fill="#2393dc" fill-opacity="0.812"/><circle cx="328.372891" cy="120.43488" r="0.936" fill="#2393dc" fill-opacity="0.812"/><circle cx="344.791186" cy="120.43488" r="0.936" fill="#2393dc" fill-opacity="0.812"/><circle cx="353.000334" cy="120.43488" r="0.936" fill="#2393dc" fill-opacity="0.812"/><circle cx="336.582038" cy="120.43488" r="0.936" fill="#2393dc" fill-opacity="0.812"/><circle cx="270.908855" cy="120.43488" r="0.936" fill="#2393dc" fill-opacity="0.812"/><circle cx="279.118003" cy="120.43488" r="0.936" fill="#2393dc" fill-opacity="0.812"/><circle cx="303.745447" cy="120.43488" r="0.936" fill="#2393dc" fill-opacity="0.812"/><circle cx="295.536299" cy="120.43488" r="0.936" fill="#2393dc" fill-opacity="0.812"/><circle cx="311.954595" cy="120.43488" r="0.936" fill="#2393dc" fill-opacity="0.812"/><circle cx="258.392982" cy="122.585886" r="0.936" fill="#2393dc" fill-opacity="0.822"/><circle cx="307.834471" cy="122.585886" r="0.936" fill="#2393dc" fill-opacity="0.822"/><circle cx="316.074719" cy="122.585886" r="0.936" fill="#2393dc" fill-opacity="0.822"/><circle cx="274.873478" cy="122.585886" r="0.936" fill="#2393dc" fill-opacity="0.822"/><circle cx="283.113726" cy="122.585886" r="0.936" fill="#2393dc" fill-opacity="0.822"/><circle cx="332.555215" cy="122.585886" r="0.936" fill="#2393dc" fill-opacity="0.822"/><circle cx="266.63323" cy="122.585886" r="0.936" fill="#2393dc" fill-opacity="0.822"/><circle cx="291.353974" cy="122.585886" r="0.936" fill="#2393dc" fill-opacity="0.822"/><circle cx="299.594222" cy="122.585886" r="0.936" fill="#2393dc" fill-opacity="0.822"/><circle cx="324.314967" cy="122.585886" r="0.936" fill="#2393dc" fill-opacity="0.822"/><circle cx="357.275959" cy="122.585886" r="0.936" fill="#2393dc" fill-opacity="0.822"/><circle cx="340.795463" cy="122.585886" r="0.936" fill="#2393dc" fill-opacity="0.822"/><circle cx="349.035711" cy="122.585886" r="0.936" fill="#2393dc" fill-opacity="0.822"/><circle cx="365.516207" cy="122.585886" r="0.936" fill="#2393dc" fill-opacity="0.822"/><circle cx="328.497764" cy="124.753253" r="0.936" fill="#2393dc" fill-opacity="0.831"/><circle cx="320.226179" cy="124.753253" r="0.936" fill="#2393dc" fill-opacity="0.831"/><circle cx="336.769349" cy="124.753253" r="0.936" fill="#2393dc" fill-opacity="0.831"/><circle cx="361.584104" cy="124.753253" r="0.936" fill="#2393dc" fill-opacity="0.831"/><circle cx="369.855689" cy="124.753253" r="0.936" fill="#2393dc" fill-opacity="0.831"/><circle cx="345.040934" cy="124.753253" r="0.936" fill="#2393dc" fill-opacity="0.831"/><circle cx="353.312519" cy="124.753253" r="0.936" fill="#2393dc" fill-opacity="0.831"/><circle cx="262.325085" cy="124.753253" r="0.936" fill="#2393dc" fill-opacity="0.831"/><circle cx="278.868255" cy="124.753253" r="0.936" fill="#2393dc" fill-opacity="0.831"/><circle cx="270.59667" cy="124.753253" r="0.936" fill="#2393dc" fill-opacity="0.831"/><circle cx="254.053501" cy="124.753253" r="0.936" fill="#2393dc" fill-opacity="0.831"/><circle cx="295.411425" cy="124.753253" r="0.936" fill="#2393dc" fill-opacity="0.831"/><circle cx="303.68301" cy="124.753253" r="0.936" fill="#2393dc" fill-opacity="0.831"/><circle cx="311.954595" cy="124.753253" r="0.936" fill="#2393dc" fill-opacity="0.831"/><circle cx="287.13984" cy="124.753253" r="0.936" fill="#2393dc" fill-opacity="0.831"/><circle cx="282.893532" cy="126.937166" r="0.936" fill="#2393dc" fill-opacity="0.841"/><circle cx="291.196693" cy="126.937166" r="0.936" fill="#2393dc" fill-opacity="0.841"/><circle cx="299.499853" cy="126.937166" r="0.936" fill="#2393dc" fill-opacity="0.841"/><circle cx="307.803014" cy="126.937166" r="0.936" fill="#2393dc" fill-opacity="0.841"/><circle cx="257.984049" cy="126.937166" r="0.936" fill="#2393dc" fill-opacity="0.841"/><circle cx="249.680888" cy="126.937166" r="0.936" fill="#2393dc" fill-opacity="0.841"/><circle cx="274.590371" cy="126.937166" r="0.936" fill="#2393dc" fill-opacity="0.841"/><circle cx="266.28721" cy="126.937166" r="0.936" fill="#2393dc" fill-opacity="0.841"/><circle cx="357.621979" cy="126.937166" r="0.936" fill="#2393dc" fill-opacity="0.841"/><circle cx="349.318818" cy="126.937166" r="0.936" fill="#2393dc" fill-opacity="0.841"/><circle cx="374.228301" cy="126.937166" r="0.936" fill="#2393dc" fill-opacity="0.841"/><circle cx="365.92514" cy="126.937166" r="0.936" fill="#2393dc" fill-opacity="0.841"/><circle cx="316.106175" cy="126.937166" r="0.936" fill="#2393dc" fill-opacity="0.841"/><circle cx="324.409336" cy="126.937166" r="0.936" fill="#2393dc" fill-opacity="0.841"/><circle cx="332.712497" cy="126.937166" r="0.936" fill="#2393dc" fill-opacity="0.841"/><circle cx="341.015657" cy="126.937166" r="0.936" fill="#2393dc" fill-opacity="0.841"/><circle cx="336.959531" cy="129.137818" r="0.936" fill="#2393dc" fill-opacity="0.851"/><circle cx="311.954595" cy="129.137818" r="0.936" fill="#2393dc" fill-opacity="0.851"/><circle cx="320.289573" cy="129.137818" r="0.936" fill="#2393dc" fill-opacity="0.851"/><circle cx="328.624552" cy="129.137818" r="0.936" fill="#2393dc" fill-opacity="0.851"/><circle cx="370.299446" cy="129.137818" r="0.936" fill="#2393dc" fill-opacity="0.851"/><circle cx="353.629489" cy="129.137818" r="0.936" fill="#2393dc" fill-opacity="0.851"/><circle cx="345.29451" cy="129.137818" r="0.936" fill="#2393dc" fill-opacity="0.851"/><circle cx="361.964467" cy="129.137818" r="0.936" fill="#2393dc" fill-opacity="0.851"/><circle cx="270.279701" cy="129.137818" r="0.936" fill="#2393dc" fill-opacity="0.851"/><circle cx="278.614679" cy="129.137818" r="0.936" fill="#2393dc" fill-opacity="0.851"/><circle cx="253.609743" cy="129.137818" r="0.936" fill="#2393dc" fill-opacity="0.851"/><circle cx="261.944722" cy="129.137818" r="0.936" fill="#2393dc" fill-opacity="0.851"/><circle cx="286.949658" cy="129.137818" r="0.936" fill="#2393dc" fill-opacity="0.851"/><circle cx="303.619616" cy="129.137818" r="0.936" fill="#2393dc" fill-opacity="0.851"/><circle cx="295.284637" cy="129.137818" r="0.936" fill="#2393dc" fill-opacity="0.851"/><circle cx="257.568824" cy="131.3554" r="0.936" fill="#2393dc" fill-opacity="0.861"/><circle cx="274.302908" cy="131.3554" r="0.936" fill="#2393dc" fill-opacity="0.861"/><circle cx="282.669949" cy="131.3554" r="0.936" fill="#2393dc" fill-opacity="0.861"/><circle cx="265.935866" cy="131.3554" r="0.936" fill="#2393dc" fill-opacity="0.861"/><circle cx="299.404032" cy="131.3554" r="0.936" fill="#2393dc" fill-opacity="0.861"/><circle cx="324.505157" cy="131.3554" r="0.936" fill="#2393dc" fill-opacity="0.861"/><circle cx="332.872198" cy="131.3554" r="0.936" fill="#2393dc" fill-opacity="0.861"/><circle cx="357.973323" cy="131.3554" r="0.936" fill="#2393dc" fill-opacity="0.861"/><circle cx="291.036991" cy="131.3554" r="0.936" fill="#2393dc" fill-opacity="0.861"/><circle cx="341.23924" cy="131.3554" r="0.936" fill="#2393dc" fill-opacity="0.861"/><circle cx="349.606282" cy="131.3554" r="0.936" fill="#2393dc" fill-opacity="0.861"/><circle cx="307.771074" cy="131.3554" r="0.936" fill="#2393dc" fill-opacity="0.861"/><circle cx="316.138115" cy="131.3554" r="0.936" fill="#2393dc" fill-opacity="0.861"/><circle cx="366.340365" cy="131.3554" r="0.936" fill="#2393dc" fill-opacity="0.861"/><circle cx="311.954595" cy="133.590109" r="0.936" fill="#2393dc" fill-opacity="0.872"/><circle cx="328.753298" cy="133.590109" r="0.936" fill="#2393dc" fill-opacity="0.872"/><circle cx="320.353947" cy="133.590109" r="0.936" fill="#2393dc" fill-opacity="0.872"/><circle cx="345.552002" cy="133.590109" r="0.936" fill="#2393dc" fill-opacity="0.872"/><circle cx="353.951354" cy="133.590109" r="0.936" fill="#2393dc" fill-opacity="0.872"/><circle cx="286.756539" cy="133.590109" r="0.936" fill="#2393dc" fill-opacity="0.872"/><circle cx="269.957835" cy="133.590109" r="0.936" fill="#2393dc" fill-opacity="0.872"/><circle cx="278.357187" cy="133.590109" r="0.936" fill="#2393dc" fill-opacity="0.872"/><circle cx="295.155891" cy="133.590109" r="0.936" fill="#2393dc" fill-opacity="0.872"/><circle cx="261.558483" cy="133.590109" r="0.936" fill="#2393dc" fill-opacity="0.872"/><circle cx="303.555243" cy="133.590109" r="0.936" fill="#2393dc" fill-opacity="0.872"/><circle cx="362.350706" cy="133.590109" r="0.936" fill="#2393dc" fill-opacity="0.872"/><circle cx="337.15265" cy="133.590109" r="0.936" fill="#2393dc" fill-opacity="0.872"/><circle cx="333.034377" cy="135.842144" r="0.936" fill="#2393dc" fill-opacity="0.882"/><circle cx="341.46629" cy="135.842144" r="0.936" fill="#2393dc" fill-opacity="0.882"/><circle cx="299.306725" cy="135.842144" r="0.936" fill="#2393dc" fill-opacity="0.882"/><circle cx="307.738638" cy="135.842144" r="0.936" fill="#2393dc" fill-opacity="0.882"/><circle cx="290.874812" cy="135.842144" r="0.936" fill="#2393dc" fill-opacity="0.882"/><circle cx="282.4429" cy="135.842144" r="0.936" fill="#2393dc" fill-opacity="0.882"/><circle cx="274.010987" cy="135.842144" r="0.936" fill="#2393dc" fill-opacity="0.882"/><circle cx="265.579074" cy="135.842144" r="0.936" fill="#2393dc" fill-opacity="0.882"/><circle cx="349.898202" cy="135.842144" r="0.936" fill="#2393dc" fill-opacity="0.882"/><circle cx="358.330115" cy="135.842144" r="0.936" fill="#2393dc" fill-opacity="0.882"/><circle cx="316.170551" cy="135.842144" r="0.936" fill="#2393dc" fill-opacity="0.882"/><circle cx="324.602464" cy="135.842144" r="0.936" fill="#2393dc" fill-opacity="0.882"/><circle cx="278.095686" cy="138.111708" r="0.936" fill="#2393dc" fill-opacity="0.892"/><circle cx="269.630959" cy="138.111708" r="0.936" fill="#2393dc" fill-opacity="0.892"/><circle cx="354.27823" cy="138.111708" r="0.936" fill="#2393dc" fill-opacity="0.892"/><circle cx="328.884049" cy="138.111708" r="0.936" fill="#2393dc" fill-opacity="0.892"/><circle cx="337.348776" cy="138.111708" r="0.936" fill="#2393dc" fill-opacity="0.892"/><circle cx="286.560413" cy="138.111708" r="0.936" fill="#2393dc" fill-opacity="0.892"/><circle cx="320.419322" cy="138.111708" r="0.936" fill="#2393dc" fill-opacity="0.892"/><circle cx="295.02514" cy="138.111708" r="0.936" fill="#2393dc" fill-opacity="0.892"/><circle cx="303.489867" cy="138.111708" r="0.936" fill="#2393dc" fill-opacity="0.892"/><circle cx="311.954595" cy="138.111708" r="0.936" fill="#2393dc" fill-opacity="0.892"/><circle cx="345.813503" cy="138.111708" r="0.936" fill="#2393dc" fill-opacity="0.892"/><circle cx="290.7101" cy="140.399006" r="0.936" fill="#2393dc" fill-opacity="0.903"/><circle cx="273.714504" cy="140.399006" r="0.936" fill="#2393dc" fill-opacity="0.903"/><circle cx="282.212302" cy="140.399006" r="0.936" fill="#2393dc" fill-opacity="0.903"/><circle cx="341.696887" cy="140.399006" r="0.936" fill="#2393dc" fill-opacity="0.903"/><circle cx="350.194685" cy="140.399006" r="0.936" fill="#2393dc" fill-opacity="0.903"/><circle cx="307.705696" cy="140.399006" r="0.936" fill="#2393dc" fill-opacity="0.903"/><circle cx="316.203494" cy="140.399006" r="0.936" fill="#2393dc" fill-opacity="0.903"/><circle cx="324.701291" cy="140.399006" r="0.936" fill="#2393dc" fill-opacity="0.903"/><circle cx="299.207898" cy="140.399006" r="0.936" fill="#2393dc" fill-opacity="0.903"/><circle cx="333.199089" cy="140.399006" r="0.936" fill="#2393dc" fill-opacity="0.903"/><circle cx="277.830082" cy="142.704246" r="0.936" fill="#2393dc" fill-opacity="0.913"/><circle cx="329.016851" cy="142.704246" r="0.936" fill="#2393dc" fill-opacity="0.913"/><circle cx="337.547979" cy="142.704246" r="0.936" fill="#2393dc" fill-opacity="0.913"/><circle cx="346.079107" cy="142.704246" r="0.936" fill="#2393dc" fill-opacity="0.913"/><circle cx="320.485723" cy="142.704246" r="0.936" fill="#2393dc" fill-opacity="0.913"/><circle cx="294.892338" cy="142.704246" r="0.936" fill="#2393dc" fill-opacity="0.913"/><circle cx="311.954595" cy="142.704246" r="0.936" fill="#2393dc" fill-opacity="0.913"/><circle cx="303.423467" cy="142.704246" r="0.936" fill="#2393dc" fill-opacity="0.913"/><circle cx="286.36121" cy="142.704246" r="0.936" fill="#2393dc" fill-opacity="0.913"/><circle cx="290.542793" cy="145.02764" r="0.936" fill="#2393dc" fill-opacity="0.924"/><circle cx="281.978072" cy="145.02764" r="0.936" fill="#2393dc" fill-opacity="0.924"/><circle cx="307.672234" cy="145.02764" r="0.936" fill="#2393dc" fill-opacity="0.924"/><circle cx="299.107514" cy="145.02764" r="0.936" fill="#2393dc" fill-opacity="0.924"/><circle cx="316.236955" cy="145.02764" r="0.936" fill="#2393dc" fill-opacity="0.924"/><circle cx="324.801676" cy="145.02764" r="0.936" fill="#2393dc" fill-opacity="0.924"/><circle cx="333.366396" cy="145.02764" r="0.936" fill="#2393dc" fill-opacity="0.924"/><circle cx="341.931117" cy="145.02764" r="0.936" fill="#2393dc" fill-opacity="0.924"/><circle cx="294.757437" cy="147.369404" r="0.936" fill="#2393dc" fill-opacity="0.934"/><circle cx="286.158858" cy="147.369404" r="0.936" fill="#2393dc" fill-opacity="0.934"/><circle cx="311.954595" cy="147.369404" r="0.936" fill="#2393dc" fill-opacity="0.934"/><circle cx="303.356016" cy="147.369404" r="0.936" fill="#2393dc" fill-opacity="0.934"/><circle cx="329.151753" cy="147.369404" r="0.936" fill="#2393dc" fill-opacity="0.934"/><circle cx="320.553174" cy="147.369404" r="0.936" fill="#2393dc" fill-opacity="0.934"/><circle cx="337.750331" cy="147.369404" r="0.936" fill="#2393dc" fill-opacity="0.934"/><circle cx="290.37283" cy="149.729757" r="0.936" fill="#2393dc" fill-opacity="0.945"/><circle cx="333.536359" cy="149.729757" r="0.936" fill="#2393dc" fill-opacity="0.945"/><circle cx="299.005536" cy="149.729757" r="0.936" fill="#2393dc" fill-opacity="0.945"/><circle cx="316.270948" cy="149.729757" r="0.936" fill="#2393dc" fill-opacity="0.945"/><circle cx="307.638242" cy="149.729757" r="0.936" fill="#2393dc" fill-opacity="0.945"/><circle cx="324.903654" cy="149.729757" r="0.936" fill="#2393dc" fill-opacity="0.945"/><circle cx="294.620385" cy="152.108921" r="0.936" fill="#2393dc" fill-opacity="0.956"/><circle cx="329.288804" cy="152.108921" r="0.936" fill="#2393dc" fill-opacity="0.956"/><circle cx="311.954595" cy="152.108921" r="0.936" fill="#2393dc" fill-opacity="0.956"/><circle cx="303.28749" cy="152.108921" r="0.936" fill="#2393dc" fill-opacity="0.956"/><circle cx="320.6217" cy="152.108921" r="0.936" fill="#2393dc" fill-opacity="0.956"/><circle cx="298.901926" cy="154.507121" r="0.936" fill="#2393dc" fill-opacity="0.967"/><circle cx="307.603705" cy="154.507121" r="0.936" fill="#2393dc" fill-opacity="0.967"/><circle cx="316.305484" cy="154.507121" r="0.936" fill="#2393dc" fill-opacity="0.967"/><circle cx="325.007263" cy="154.507121" r="0.936" fill="#2393dc" fill-opacity="0.967"/><circle cx="303.217863" cy="156.924587" r="0.936" fill="#2393dc" fill-opacity="0.978"/><circle cx="311.954595" cy="156.924587" r="0.936" fill="#2393dc" fill-opacity="0.978"/><circle cx="320.691327" cy="156.924587" r="0.936" fill="#2393dc" fill-opacity="0.978"/><circle cx="307.568611" cy="159.361552" r="0.936" fill="#2393dc" fill-opacity="0.989"/><circle cx="316.340578" cy="159.361552" r="0.936" fill="#2393dc" fill-opacity="0.989"/><circle cx="311.954595" cy="161.818253" r="0.936" fill="#2393dc"/></g></svg>
</div></body></html>
